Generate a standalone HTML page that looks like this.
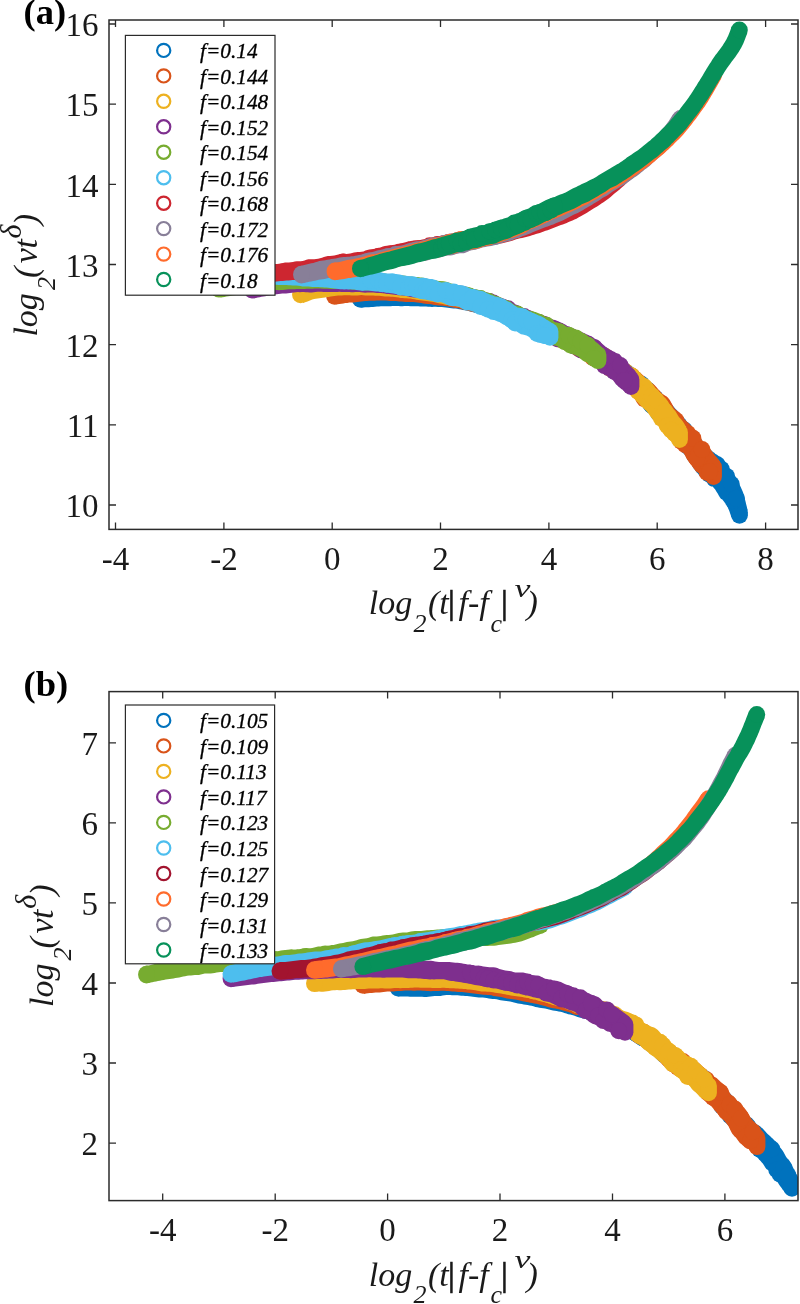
<!DOCTYPE html>
<html lang="en">
<head>
<meta charset="utf-8">
<title>Scaling collapse</title>
<style>html,body{margin:0;padding:0;background:#fff}svg{display:block}</style>
</head>
<body>
<svg width="800" height="1304" viewBox="0 0 800 1304" font-family='"Liberation Serif", "DejaVu Serif", serif' fill="#1a1a1a">
<rect width="800" height="1304" fill="#ffffff"/>
<clipPath id="ca"><rect x="109.0" y="20.0" width="689.0" height="509.4"/></clipPath>
<g clip-path="url(#ca)"><g fill="#0072BD"><path d="M361.2 307.7L363.2 307.5L365.1 307.3L367.1 307.3L369.1 307.2L371.1 307.1L373.0 306.9L375.0 306.8L377.0 306.6L378.9 306.4L380.9 306.2L382.8 306.2L384.8 306.2L386.7 306.2L388.7 306.2L390.6 306.2L392.6 306.1L394.5 306.0L396.5 306.0L398.5 306.0L400.4 306.2L402.4 306.2L404.4 306.1L406.4 306.1L408.4 306.1L410.4 306.2L412.3 306.2L414.3 306.2L416.3 306.2L418.3 306.2L420.2 306.4L422.2 306.5L424.2 306.6L426.1 306.6L428.1 306.7L430.0 306.8L432.0 306.9L433.9 306.8L435.9 306.8L437.9 306.9L439.8 307.1L441.8 307.1L443.8 307.2L445.8 307.4L447.7 307.7L449.7 308.1L451.6 308.3L453.5 308.4L455.5 308.5L457.3 308.8L459.2 309.2L461.1 309.6L462.9 309.9L464.8 310.2L466.6 310.4L468.4 310.9L470.3 311.5L472.2 312.1L474.0 312.6L475.9 313.0L477.8 313.3L479.6 313.7L481.5 314.1L483.3 314.6L485.1 315.3L486.9 316.0L488.7 316.7L490.6 317.3L492.3 317.9L494.1 318.3L495.9 318.8L497.6 319.5L499.1 320.5L500.8 321.5L502.4 322.3L504.1 323.3L505.8 324.3L507.6 325.4L509.4 326.3L511.2 327.2L513.1 328.2L515.1 329.2L517.1 330.0L519.1 330.7L521.0 331.4L523.0 332.3L524.9 333.1L526.8 333.9L528.7 334.8L530.6 335.6L532.5 336.3L534.4 336.8L536.3 337.4L538.1 338.0L540.0 338.5L541.8 339.3L543.6 340.0L545.4 340.8L547.2 341.5L549.1 342.6L550.9 343.6L552.8 344.4L554.6 344.8L556.4 345.3L558.2 345.9L560.1 346.9L561.9 348.0L563.7 349.3L565.5 350.4L567.2 351.5L569.0 352.4L570.8 353.5L572.5 354.0L574.3 354.3L576.0 354.5L577.7 355.2L579.4 356.2L581.0 357.1L582.7 358.2L584.4 359.3L586.1 360.7L587.7 361.9L589.4 363.1L591.1 363.9L592.7 364.8L594.4 365.6L596.1 366.8L597.7 368.0L599.3 369.0L601.0 369.8L602.6 370.6L604.2 371.9L605.8 373.3L607.3 375.1L608.9 376.4L610.4 377.2L612.0 378.0L613.5 379.1L615.0 380.9L616.5 382.5L618.0 384.0L619.5 385.1L621.0 386.1L622.5 386.6L624.0 387.1L625.5 387.9L626.9 389.6L628.4 391.7L629.8 393.7L631.3 395.4L632.7 396.9L634.2 398.3L635.6 399.5L637.0 400.4L638.4 401.6L639.8 403.0L641.2 405.1L642.6 407.0L644.0 409.0L645.4 410.6L646.7 412.1L648.1 412.9L649.5 413.9L650.8 414.9L652.2 416.4L653.5 417.8L654.7 419.2L655.9 421.1L657.1 422.5L658.4 424.5L659.7 426.2L661.0 428.2L662.3 429.4L663.6 430.2L664.9 431.3L666.2 433.1L667.5 435.1L668.8 436.8L670.1 437.7L671.4 438.8L672.8 439.5L674.1 441.3L675.4 443.0L676.7 445.2L678.0 446.7L679.3 448.0L680.6 449.5L681.9 451.1L683.2 453.0L684.6 454.6L685.9 456.6L687.2 458.4L688.5 460.6L689.8 462.4L691.1 464.0L692.5 465.3L693.8 466.7L695.1 468.5L696.4 470.1L697.8 471.5L699.1 472.8L700.4 474.8L701.8 477.0L703.1 479.0L704.4 479.8L705.7 481.1L707.0 482.4L708.4 484.7L709.7 485.7L711.2 486.6L712.6 486.5L713.9 487.9L715.2 489.5L716.5 491.7L717.7 493.4L718.9 495.8L720.0 497.5L721.1 498.9L722.1 499.2L723.1 500.5L724.1 501.7L725.0 502.9L725.8 503.3L726.6 504.1L727.2 505.6L727.8 507.4L728.4 508.9L728.9 510.1L729.4 511.2L729.9 512.8L730.5 514.4L731.0 516.1L731.4 517.3L747.6 510.3L747.2 508.4L746.7 506.2L746.1 504.0L745.6 501.8L745.0 499.6L744.4 496.9L743.6 494.4L742.8 491.7L741.8 489.5L740.7 487.0L739.6 484.8L738.4 482.1L737.2 479.9L735.9 477.3L734.7 475.6L733.3 473.3L731.9 472.0L730.5 470.2L729.0 468.2L727.6 465.9L726.2 465.0L724.8 464.7L723.5 464.6L722.2 462.5L721.0 460.1L719.7 458.1L718.3 457.1L717.0 455.7L715.7 454.2L714.3 452.7L713.0 451.9L711.7 450.7L710.3 449.5L709.0 447.4L707.7 445.4L706.4 443.7L705.1 442.8L703.8 442.2L702.5 441.0L701.2 439.1L699.9 437.1L698.5 435.5L697.2 434.2L695.9 432.3L694.6 430.4L693.3 428.8L692.0 428.6L690.7 427.6L689.4 426.2L688.1 423.4L686.8 421.7L685.5 419.6L684.2 418.2L682.9 416.5L681.6 415.3L680.3 414.1L679.0 412.6L677.7 411.3L676.4 409.8L675.1 408.4L673.9 406.9L672.6 405.5L671.4 404.3L670.1 403.3L668.7 402.0L667.3 400.2L665.8 397.9L664.4 396.1L663.0 394.7L661.6 394.0L660.2 393.3L658.8 391.9L657.4 390.2L655.9 388.1L654.5 386.4L653.0 384.7L651.6 383.4L650.1 382.2L648.6 380.9L647.1 380.0L645.7 378.5L644.2 377.2L642.7 375.6L641.1 374.3L639.6 373.0L638.1 371.5L636.5 370.1L635.0 368.7L633.4 367.5L631.8 366.3L630.3 365.1L628.7 364.1L627.1 362.7L625.4 361.5L623.8 359.9L622.1 358.6L620.5 357.0L618.8 355.9L617.1 354.5L615.4 353.4L613.7 352.3L612.0 351.5L610.2 351.0L608.5 350.4L606.8 349.9L605.1 348.9L603.3 347.6L601.6 345.9L599.8 344.3L598.1 342.8L596.3 342.0L594.5 341.3L592.7 340.7L590.9 339.7L589.1 338.5L587.2 337.4L585.4 336.3L583.5 335.3L581.6 334.1L579.7 333.2L577.9 332.5L576.0 331.9L574.1 331.1L572.2 330.0L570.3 329.1L568.5 328.5L566.6 328.2L564.7 327.7L562.8 327.0L561.0 326.0L559.1 325.1L557.2 324.5L555.4 323.9L553.5 323.2L551.6 322.3L549.7 321.5L547.8 320.8L545.9 320.2L543.9 319.4L542.0 318.6L540.1 317.9L538.2 317.1L536.4 316.6L534.5 316.0L532.7 315.8L530.9 315.2L529.1 314.5L527.3 313.7L525.5 313.2L523.8 312.7L522.2 312.1L520.6 311.1L518.9 310.3L517.3 309.5L515.6 308.7L513.8 307.7L512.0 306.6L510.1 305.5L508.2 304.5L506.2 303.5L504.1 302.7L502.0 302.0L500.1 301.4L498.1 300.8L496.1 300.1L494.1 299.3L492.1 298.5L490.1 298.0L488.1 297.5L486.1 296.8L484.1 296.2L482.1 295.6L480.1 295.2L478.1 294.8L476.0 294.4L474.0 293.9L472.0 293.3L469.9 292.7L467.8 292.3L465.7 292.0L463.6 291.6L461.5 291.2L459.4 291.0L457.3 290.9L455.2 290.8L453.1 290.7L451.1 290.5L449.1 290.4L447.0 290.4L445.0 290.4L443.0 290.2L441.0 290.0L439.0 289.7L437.0 289.6L434.9 289.6L432.9 289.7L430.8 289.6L428.8 289.3L426.8 289.0L424.7 288.8L422.7 288.8L420.7 288.9L418.6 288.9L416.6 288.9L414.6 288.9L412.5 288.8L410.5 288.8L408.5 288.7L406.5 288.7L404.5 288.7L402.5 288.7L400.4 288.6L398.4 288.6L396.4 288.7L394.4 288.7L392.3 288.7L390.3 288.7L388.2 288.8L386.2 288.9L384.1 289.0L382.1 289.1L380.0 289.3L378.0 289.3L376.0 289.4L373.9 289.4L371.9 289.5L369.9 289.6L367.9 289.8L365.9 290.1L363.8 290.2L361.8 290.4L359.8 290.4Z"/><rect x="352.1" y="290.4" width="16.8" height="17.4" rx="8.4"/><rect x="731.1" y="504.2" width="16.8" height="19.5" rx="8.4"/><circle cx="518.7" cy="319.1" r="8.4"/><circle cx="522.3" cy="320.3" r="8.4"/><circle cx="529.8" cy="326.6" r="8.4"/><circle cx="533.5" cy="327.5" r="8.4"/><circle cx="541.0" cy="330.5" r="8.4"/><circle cx="546.7" cy="329.4" r="8.4"/><circle cx="550.4" cy="330.3" r="8.4"/><circle cx="557.8" cy="337.6" r="8.4"/><circle cx="565.2" cy="341.2" r="8.4"/><circle cx="570.7" cy="343.8" r="8.4"/><circle cx="576.1" cy="341.5" r="8.4"/><circle cx="579.7" cy="343.0" r="8.4"/><circle cx="585.1" cy="350.9" r="8.4"/><circle cx="588.6" cy="347.8" r="8.4"/><circle cx="595.5" cy="357.4" r="8.4"/><circle cx="600.6" cy="361.1" r="8.4"/><circle cx="603.9" cy="355.7" r="8.4"/><circle cx="607.3" cy="364.3" r="8.4"/><circle cx="613.8" cy="370.7" r="8.4"/><circle cx="620.2" cy="366.7" r="8.4"/><circle cx="626.4" cy="380.7" r="8.4"/><circle cx="632.5" cy="386.2" r="8.4"/><circle cx="638.4" cy="383.0" r="8.4"/><circle cx="641.4" cy="384.2" r="8.4"/><circle cx="647.1" cy="389.7" r="8.4"/><circle cx="651.4" cy="405.0" r="8.4"/><circle cx="655.5" cy="398.4" r="8.4"/><circle cx="658.3" cy="413.0" r="8.4"/><circle cx="661.0" cy="404.6" r="8.4"/><circle cx="666.2" cy="411.5" r="8.4"/><circle cx="671.3" cy="427.2" r="8.4"/><circle cx="673.9" cy="429.8" r="8.4"/><circle cx="679.1" cy="426.5" r="8.4"/><circle cx="684.3" cy="430.0" r="8.4"/><circle cx="688.3" cy="446.6" r="8.4"/><circle cx="692.2" cy="438.3" r="8.4"/><circle cx="694.8" cy="455.6" r="8.4"/><circle cx="700.1" cy="463.0" r="8.4"/><circle cx="702.7" cy="466.5" r="8.4"/><circle cx="705.4" cy="469.7" r="8.4"/><circle cx="709.4" cy="474.3" r="8.4"/><circle cx="713.4" cy="462.5" r="8.4"/><circle cx="717.3" cy="464.7" r="8.4"/><circle cx="721.4" cy="469.2" r="8.4"/><circle cx="726.6" cy="476.3" r="8.4"/><circle cx="731.3" cy="484.1" r="8.4"/><circle cx="733.3" cy="500.7" r="8.4"/><circle cx="736.4" cy="498.2" r="8.4"/></g><g fill="#D95319"><path d="M335.6 304.6L337.5 304.3L339.5 304.0L341.5 303.7L343.4 303.5L345.3 303.1L347.3 302.9L349.3 302.6L351.3 302.5L353.3 302.4L355.3 302.2L357.2 301.9L359.2 301.7L361.2 301.4L363.1 301.2L365.1 301.0L367.0 300.9L368.9 300.8L370.8 300.8L372.8 300.7L374.7 300.7L376.6 300.5L378.5 300.5L380.4 300.4L382.2 300.4L384.1 300.4L386.0 300.6L388.0 300.7L389.9 301.0L391.8 301.0L393.8 301.1L395.7 301.1L397.7 301.2L399.6 301.4L401.6 301.6L403.6 301.7L405.6 301.9L407.6 302.0L409.6 302.1L411.6 302.1L413.5 302.1L415.5 302.2L417.4 302.4L419.4 302.7L421.4 303.0L423.3 303.5L425.3 303.7L427.2 303.9L429.2 304.0L431.2 304.3L433.1 304.7L435.1 305.0L437.0 305.3L439.0 305.4L441.0 305.6L442.9 305.8L444.9 306.1L446.8 306.3L448.8 306.7L450.7 307.1L452.6 307.5L454.6 307.7L456.5 307.9L458.4 308.3L460.3 308.8L462.2 309.4L464.1 309.8L465.9 310.2L467.8 310.7L469.7 311.2L471.6 311.7L473.5 312.0L475.4 312.4L477.3 312.9L479.1 313.5L481.0 314.1L482.8 314.6L484.7 314.9L486.5 315.4L488.3 316.0L490.1 316.7L491.9 317.5L493.6 318.2L495.4 318.8L497.0 319.3L498.6 320.0L500.2 320.8L501.9 322.0L503.5 323.1L505.2 324.0L507.0 324.9L508.7 325.8L510.6 326.6L512.5 327.6L514.4 328.5L516.4 329.7L518.4 330.8L520.3 331.9L522.3 332.6L524.2 333.1L526.1 333.7L528.0 334.5L529.9 335.6L531.8 336.5L533.7 337.2L535.6 337.7L537.4 338.5L539.3 339.2L541.1 340.0L542.9 340.6L544.7 341.3L546.5 341.9L548.4 342.5L550.2 343.0L552.1 343.7L553.9 344.4L555.7 345.5L557.6 346.6L559.4 347.5L561.2 348.4L563.0 349.0L564.8 349.9L566.6 350.5L568.4 351.4L570.1 352.4L571.9 353.4L573.6 354.5L575.3 354.8L577.0 355.5L578.7 355.9L580.4 357.1L582.1 358.5L583.8 360.4L585.5 362.1L587.1 363.7L588.8 364.7L590.5 365.7L592.1 366.2L593.8 366.7L595.4 366.8L597.1 367.4L598.7 368.4L600.4 370.1L602.0 371.7L603.6 373.1L605.2 374.3L606.7 375.2L608.3 376.0L609.9 376.7L611.4 377.8L612.9 379.2L614.5 381.0L616.0 382.5L617.5 383.5L619.0 384.4L620.5 385.7L622.0 387.3L623.5 388.9L624.9 390.0L626.4 391.0L627.9 392.2L629.3 393.2L630.8 394.3L632.2 395.3L633.6 397.1L635.0 399.1L636.5 401.9L637.9 404.1L639.3 405.8L640.7 406.2L642.1 406.7L643.5 407.2L644.8 408.5L646.2 409.6L647.6 411.4L649.0 413.2L650.3 415.2L651.7 416.7L653.0 418.4L654.3 419.9L655.5 421.7L656.7 423.0L657.9 424.2L659.2 425.5L660.5 427.7L661.8 429.9L663.1 431.6L664.4 432.6L665.7 433.5L667.0 434.5L668.3 435.8L669.6 437.6L671.0 439.6L672.3 441.2L673.6 442.3L674.9 443.4L676.2 444.8L677.5 445.9L678.8 447.0L680.1 448.1L681.4 449.8L682.7 451.4L684.0 453.8L685.3 456.0L686.6 458.8L687.9 460.6L689.2 462.5L690.5 464.0L691.8 465.7L693.0 467.5L694.3 469.3L695.6 471.0L696.9 472.0L698.1 472.7L699.4 473.6L700.7 475.2L701.9 476.1L703.2 476.6L704.4 477.0L705.7 478.4L706.9 480.2L706.9 481.1L720.1 461.9L720.0 461.6L718.8 459.7L717.5 458.2L716.2 456.8L714.9 455.2L713.6 453.4L712.3 451.8L711.1 450.2L709.8 447.9L708.5 445.6L707.2 443.5L705.9 442.5L704.6 442.1L703.3 441.7L702.0 440.1L700.7 438.0L699.4 436.1L698.1 435.3L696.8 434.8L695.4 433.3L694.1 431.4L692.8 428.8L691.5 426.7L690.2 424.8L688.9 423.3L687.6 422.2L686.3 421.0L685.0 419.8L683.7 418.2L682.4 416.5L681.1 414.7L679.8 413.1L678.5 411.8L677.2 410.8L675.9 409.8L674.6 408.5L673.4 406.7L672.2 404.6L670.9 402.0L669.6 399.8L668.2 398.0L666.7 396.6L665.3 395.7L663.9 394.7L662.5 394.1L661.1 392.6L659.7 391.0L658.2 389.2L656.8 387.5L655.4 386.0L653.9 384.5L652.5 383.4L651.0 382.6L649.6 381.6L648.1 380.6L646.6 379.1L645.1 377.6L643.6 375.8L642.1 374.4L640.6 373.0L639.0 372.1L637.5 371.5L636.0 370.5L634.4 369.2L632.8 367.5L631.2 366.3L629.7 365.5L628.1 364.7L626.4 363.5L624.8 361.5L623.2 359.4L621.5 357.5L619.8 356.2L618.1 355.1L616.5 354.0L614.7 353.1L613.0 352.5L611.3 351.5L609.6 350.2L607.9 348.5L606.1 347.4L604.4 346.7L602.7 345.8L600.9 344.8L599.2 343.2L597.4 342.3L595.6 341.7L593.9 341.2L592.0 340.4L590.2 339.0L588.4 337.7L586.5 336.3L584.7 335.5L582.8 334.8L580.9 334.1L579.0 333.1L577.2 332.2L575.3 331.5L573.4 331.1L571.5 330.5L569.6 329.7L567.8 328.5L565.9 327.7L564.0 326.8L562.1 326.2L560.3 325.4L558.4 324.5L556.6 323.7L554.7 322.9L552.9 322.2L551.0 321.5L549.0 320.7L547.1 320.2L545.2 319.8L543.3 319.5L541.4 319.0L539.5 318.4L537.6 317.7L535.8 316.8L534.0 316.1L532.1 315.4L530.3 314.8L528.5 314.1L526.8 313.2L525.0 312.3L523.3 311.7L521.7 311.3L520.1 310.5L518.5 309.6L516.8 308.5L515.1 307.5L513.3 306.6L511.5 305.8L509.6 305.0L507.7 304.0L505.7 303.0L503.6 301.9L501.5 300.9L499.6 300.2L497.6 299.5L495.6 298.9L493.6 298.3L491.5 297.8L489.5 297.3L487.5 296.8L485.5 296.1L483.5 295.6L481.5 294.9L479.5 294.2L477.5 293.4L475.5 292.9L473.5 292.5L471.5 292.3L469.5 292.0L467.4 291.7L465.4 291.3L463.4 291.0L461.3 290.7L459.3 290.1L457.3 289.7L455.2 289.4L453.2 289.4L451.2 289.1L449.2 288.7L447.2 288.3L445.2 288.3L443.2 288.2L441.2 288.1L439.1 287.7L437.1 287.5L435.1 287.2L433.1 286.9L431.1 286.7L429.1 286.5L427.1 286.3L425.0 286.0L423.0 285.7L421.0 285.5L419.0 285.4L416.9 285.3L414.9 285.1L412.9 284.8L410.9 284.5L408.9 284.3L406.9 284.3L404.9 284.2L402.9 284.1L400.9 283.9L398.9 283.8L396.8 283.7L394.8 283.6L392.7 283.5L390.7 283.3L388.6 283.2L386.5 283.0L384.4 283.1L382.3 283.2L380.2 283.3L378.1 283.3L376.0 283.2L373.9 283.2L371.8 283.3L369.7 283.5L367.7 283.8L365.6 284.1L363.6 284.3L361.5 284.5L359.5 284.6L357.5 284.7L355.5 284.7L353.5 284.9L351.5 285.2L349.5 285.4L347.5 285.5L345.5 285.7L343.5 285.9L341.5 286.2L339.5 286.5L337.4 286.8L335.4 287.1L333.4 287.3Z"/><rect x="326.1" y="287.3" width="16.8" height="17.4" rx="8.4"/><rect x="705.1" y="458.6" width="16.8" height="26.4" rx="8.4"/><circle cx="500.3" cy="309.6" r="8.4"/><circle cx="507.5" cy="313.0" r="8.4"/><circle cx="512.8" cy="318.6" r="8.4"/><circle cx="516.3" cy="320.4" r="8.4"/><circle cx="519.9" cy="319.2" r="8.4"/><circle cx="527.3" cy="325.7" r="8.4"/><circle cx="531.0" cy="326.8" r="8.4"/><circle cx="534.7" cy="328.3" r="8.4"/><circle cx="540.4" cy="326.6" r="8.4"/><circle cx="544.1" cy="328.2" r="8.4"/><circle cx="551.5" cy="335.1" r="8.4"/><circle cx="557.1" cy="337.9" r="8.4"/><circle cx="564.5" cy="335.9" r="8.4"/><circle cx="570.0" cy="338.7" r="8.4"/><circle cx="575.5" cy="340.0" r="8.4"/><circle cx="579.1" cy="348.7" r="8.4"/><circle cx="582.6" cy="344.5" r="8.4"/><circle cx="589.7" cy="353.1" r="8.4"/><circle cx="594.8" cy="356.7" r="8.4"/><circle cx="598.2" cy="359.0" r="8.4"/><circle cx="605.0" cy="356.5" r="8.4"/><circle cx="610.0" cy="368.1" r="8.4"/><circle cx="614.8" cy="363.3" r="8.4"/><circle cx="619.6" cy="374.1" r="8.4"/><circle cx="624.3" cy="378.6" r="8.4"/><circle cx="627.4" cy="380.7" r="8.4"/><circle cx="631.9" cy="376.1" r="8.4"/><circle cx="637.9" cy="390.6" r="8.4"/><circle cx="643.7" cy="387.3" r="8.4"/><circle cx="648.0" cy="391.2" r="8.4"/><circle cx="653.6" cy="396.8" r="8.4"/><circle cx="656.4" cy="400.4" r="8.4"/><circle cx="659.1" cy="412.0" r="8.4"/><circle cx="664.4" cy="407.9" r="8.4"/><circle cx="666.9" cy="423.2" r="8.4"/><circle cx="670.8" cy="427.3" r="8.4"/><circle cx="676.0" cy="420.4" r="8.4"/><circle cx="681.2" cy="441.3" r="8.4"/><circle cx="685.2" cy="444.9" r="8.4"/><circle cx="687.8" cy="433.5" r="8.4"/><circle cx="693.0" cy="438.2" r="8.4"/><circle cx="696.9" cy="458.6" r="8.4"/><circle cx="702.0" cy="449.5" r="8.4"/><circle cx="707.1" cy="472.5" r="8.4"/><circle cx="709.7" cy="471.6" r="8.4"/></g><g fill="#EDB120"><path d="M303.2 302.9L305.1 302.2L306.9 301.7L308.7 301.0L310.5 300.3L312.3 299.6L314.1 299.1L315.8 298.7L317.6 298.4L319.4 298.2L321.2 298.0L323.0 297.7L324.9 297.4L326.8 297.1L328.7 296.9L330.6 296.6L332.5 296.3L334.4 295.9L336.3 295.7L338.2 295.6L340.1 295.5L342.0 295.4L343.9 295.3L345.8 295.3L347.7 295.3L349.7 295.3L351.6 295.4L353.6 295.6L355.5 295.5L357.5 295.4L359.5 295.2L361.4 295.1L363.4 295.3L365.4 295.4L367.3 295.4L369.3 295.4L371.3 295.4L373.3 295.5L375.2 295.7L377.2 295.7L379.2 295.8L381.1 295.9L383.1 296.2L385.0 296.4L387.0 296.5L388.9 296.6L390.8 296.7L392.8 296.8L394.8 297.0L396.7 297.2L398.7 297.6L400.6 297.9L402.6 298.1L404.6 298.2L406.6 298.3L408.6 298.5L410.5 298.6L412.5 298.9L414.5 299.2L416.4 299.7L418.4 300.0L420.3 300.3L422.3 300.4L424.2 300.7L426.2 301.0L428.1 301.3L430.0 301.5L432.0 301.7L433.9 302.1L435.8 302.6L437.8 303.1L439.7 303.4L441.6 303.8L443.6 304.3L445.5 304.7L447.4 305.0L449.3 305.3L451.2 305.5L453.1 305.9L455.1 306.2L457.0 306.6L458.9 307.0L460.8 307.5L462.6 308.1L464.5 308.5L466.4 308.9L468.3 309.3L470.2 309.8L472.1 310.3L474.0 310.7L475.8 311.3L477.7 311.9L479.6 312.7L481.4 313.5L483.3 314.3L485.1 314.9L486.9 315.5L488.7 316.2L490.6 316.9L492.4 317.5L494.1 318.1L495.9 318.8L497.6 319.4L499.2 320.0L500.8 320.7L502.4 321.5L504.1 322.4L505.8 323.4L507.5 324.6L509.3 325.9L511.1 327.1L513.0 328.2L515.0 329.0L517.0 329.8L518.9 330.5L520.8 331.3L522.8 332.2L524.7 333.0L526.6 333.9L528.5 334.7L530.4 335.5L532.3 336.4L534.2 337.2L536.0 337.7L537.9 338.4L539.7 339.2L541.5 340.3L543.3 341.0L545.1 341.5L547.0 342.0L548.8 342.9L550.7 343.8L552.5 344.8L554.4 345.6L556.2 346.4L558.0 347.2L559.8 348.0L561.7 348.7L563.5 349.5L565.3 350.3L567.0 351.2L568.8 351.9L570.6 352.8L572.3 353.7L574.1 354.6L575.8 355.5L577.5 356.4L579.2 357.7L580.9 358.5L582.5 359.4L584.2 360.0L585.9 360.9L587.6 361.9L589.2 363.5L590.9 364.9L592.5 366.1L594.2 366.8L595.9 367.8L597.5 368.6L599.1 369.8L600.8 370.8L602.4 371.7L604.0 372.2L605.6 372.9L607.1 374.0L608.7 375.1L610.3 376.5L611.8 377.8L613.3 379.5L614.8 380.9L616.4 382.3L617.9 383.2L619.4 383.9L620.9 385.0L622.4 386.7L623.8 388.5L625.3 389.9L626.7 390.7L628.2 392.4L629.6 393.8L631.0 395.5L632.4 396.4L633.8 398.0L635.2 399.4L636.6 401.1L637.9 402.6L639.3 404.3L640.6 405.4L642.0 407.0L643.3 408.1L644.6 409.5L645.9 410.4L647.2 411.9L648.5 413.6L649.8 415.4L651.1 417.3L652.4 418.9L653.6 420.3L654.8 420.9L655.9 421.8L657.1 423.5L658.2 425.7L659.4 428.0L660.6 429.5L661.9 431.3L663.1 433.1L664.3 434.8L665.5 435.9L666.7 436.8L667.9 437.6L669.1 438.9L670.3 440.4L671.5 441.8L672.7 442.6L672.8 442.7L686.2 427.0L686.1 426.9L684.9 424.8L683.7 422.7L682.5 420.9L681.3 419.4L680.1 418.2L678.9 416.9L677.7 414.9L676.5 412.9L675.3 410.9L674.1 409.7L672.9 408.3L671.7 407.0L670.5 405.2L669.2 403.4L667.9 401.3L666.5 399.5L665.2 397.8L663.8 396.9L662.5 396.2L661.1 395.4L659.8 394.3L658.4 392.6L657.0 390.6L655.6 388.2L654.2 386.2L652.8 384.2L651.4 382.6L649.9 380.6L648.5 379.5L647.0 378.5L645.5 377.9L644.0 376.8L642.5 375.6L641.0 374.2L639.5 372.6L637.9 370.8L636.4 369.6L634.8 368.4L633.2 368.2L631.7 367.5L630.1 366.9L628.5 365.1L626.9 363.2L625.2 361.2L623.6 359.6L621.9 358.3L620.3 357.0L618.6 355.9L616.9 354.9L615.2 354.1L613.5 352.8L611.8 351.2L610.0 349.9L608.3 349.1L606.6 348.5L604.9 347.7L603.1 346.8L601.4 345.9L599.6 345.1L597.9 344.1L596.1 343.0L594.3 341.6L592.5 340.1L590.7 338.8L588.9 337.8L587.0 337.1L585.1 336.6L583.3 336.0L581.4 335.1L579.5 334.0L577.6 333.0L575.8 332.0L573.9 330.9L572.0 330.1L570.1 329.6L568.2 329.1L566.4 328.3L564.5 327.1L562.6 326.1L560.8 325.2L558.9 324.5L557.1 323.8L555.2 323.1L553.4 322.4L551.5 321.5L549.6 320.9L547.7 320.3L545.8 319.8L543.8 319.2L542.0 318.6L540.1 318.0L538.2 317.3L536.4 316.6L534.5 315.6L532.7 314.9L530.9 314.2L529.1 314.0L527.4 313.4L525.6 312.6L523.9 311.5L522.3 310.9L520.7 310.4L519.0 309.6L517.4 308.4L515.7 307.2L513.9 306.0L512.1 305.0L510.2 303.9L508.3 302.9L506.3 302.0L504.2 301.3L502.2 300.7L500.2 300.2L498.2 299.6L496.3 298.7L494.3 297.8L492.4 297.0L490.4 296.6L488.4 296.2L486.4 296.0L484.5 295.6L482.5 295.1L480.5 294.3L478.6 293.4L476.6 292.4L474.6 291.7L472.6 291.2L470.7 290.9L468.7 290.7L466.7 290.2L464.7 289.7L462.7 289.1L460.7 288.7L458.7 288.3L456.7 288.0L454.7 287.6L452.7 287.1L450.7 286.5L448.6 286.0L446.6 285.6L444.6 285.2L442.6 284.9L440.6 284.5L438.6 284.2L436.6 283.9L434.6 283.7L432.5 283.4L430.5 283.3L428.5 283.1L426.5 282.8L424.5 282.4L422.4 282.1L420.4 282.0L418.4 281.7L416.4 281.6L414.4 281.3L412.4 281.1L410.4 280.8L408.4 280.6L406.4 280.5L404.4 280.6L402.4 280.6L400.4 280.4L398.3 280.1L396.3 279.7L394.3 279.4L392.2 279.1L390.2 279.0L388.2 278.8L386.1 278.6L384.1 278.4L382.0 278.2L379.9 278.2L377.9 278.2L375.9 278.3L373.9 278.2L371.9 278.1L369.9 277.9L367.8 277.9L365.8 277.9L363.8 278.0L361.7 278.0L359.7 278.0L357.7 277.9L355.6 277.9L353.6 277.9L351.5 277.9L349.5 277.9L347.5 277.8L345.4 277.8L343.3 277.8L341.2 277.9L339.1 278.1L337.0 278.4L334.9 278.5L332.8 278.7L330.7 278.8L328.6 279.2L326.6 279.6L324.5 279.9L322.5 280.3L320.4 280.5L318.3 280.8L316.2 281.1L314.0 281.5L311.9 282.1L309.8 282.6L307.7 283.2L305.7 283.8L303.7 284.6L301.7 285.2L299.7 285.8L297.8 286.2Z"/><rect x="292.1" y="285.8" width="16.8" height="17.4" rx="8.4"/><rect x="671.1" y="423.9" width="16.8" height="24.0" rx="8.4"/><circle cx="483.9" cy="305.9" r="8.4"/><circle cx="487.7" cy="304.7" r="8.4"/><circle cx="491.5" cy="305.9" r="8.4"/><circle cx="499.0" cy="308.1" r="8.4"/><circle cx="502.7" cy="313.1" r="8.4"/><circle cx="509.8" cy="316.6" r="8.4"/><circle cx="515.1" cy="316.5" r="8.4"/><circle cx="518.6" cy="318.6" r="8.4"/><circle cx="525.9" cy="324.7" r="8.4"/><circle cx="533.4" cy="324.0" r="8.4"/><circle cx="537.1" cy="325.1" r="8.4"/><circle cx="544.6" cy="327.7" r="8.4"/><circle cx="552.0" cy="331.4" r="8.4"/><circle cx="555.7" cy="337.1" r="8.4"/><circle cx="561.3" cy="339.3" r="8.4"/><circle cx="566.8" cy="336.4" r="8.4"/><circle cx="570.5" cy="337.5" r="8.4"/><circle cx="577.7" cy="347.4" r="8.4"/><circle cx="583.1" cy="344.5" r="8.4"/><circle cx="590.1" cy="354.9" r="8.4"/><circle cx="595.3" cy="349.7" r="8.4"/><circle cx="598.7" cy="353.2" r="8.4"/><circle cx="603.7" cy="363.2" r="8.4"/><circle cx="610.4" cy="368.6" r="8.4"/><circle cx="613.6" cy="362.4" r="8.4"/><circle cx="620.0" cy="366.7" r="8.4"/><circle cx="624.7" cy="371.2" r="8.4"/><circle cx="630.8" cy="375.3" r="8.4"/><circle cx="633.8" cy="378.1" r="8.4"/><circle cx="638.2" cy="391.6" r="8.4"/><circle cx="642.5" cy="395.4" r="8.4"/><circle cx="648.1" cy="392.4" r="8.4"/><circle cx="652.2" cy="396.0" r="8.4"/><circle cx="656.1" cy="400.0" r="8.4"/><circle cx="661.3" cy="418.3" r="8.4"/><circle cx="665.0" cy="411.5" r="8.4"/><circle cx="667.4" cy="425.9" r="8.4"/><circle cx="671.0" cy="430.1" r="8.4"/><circle cx="674.6" cy="433.5" r="8.4"/></g><g fill="#7E2F8E"><path d="M253.8 298.5L255.7 298.0L257.7 297.6L259.6 297.2L261.5 296.8L263.4 296.5L265.3 296.2L267.2 295.8L269.1 295.4L271.0 294.9L272.9 294.7L274.8 294.4L276.7 294.2L278.6 294.0L280.5 293.8L282.3 293.6L284.2 293.5L286.1 293.4L288.0 293.2L290.0 293.0L292.0 292.8L293.9 292.4L295.9 292.2L297.9 292.1L299.8 292.2L301.8 292.1L303.8 292.1L305.7 292.2L307.7 292.3L309.7 292.5L311.7 292.4L313.7 292.2L315.6 291.9L317.6 291.8L319.6 291.7L321.6 291.8L323.5 291.9L325.5 292.0L327.5 292.0L329.5 292.1L331.5 292.1L333.5 292.1L335.5 291.9L337.4 291.9L339.4 291.8L341.4 292.0L343.4 292.0L345.4 292.0L347.4 292.0L349.4 292.1L351.4 292.2L353.3 292.2L355.3 292.1L357.3 292.0L359.3 292.0L361.2 292.3L363.2 292.6L365.2 292.7L367.2 292.6L369.1 292.5L371.1 292.5L373.1 292.6L375.1 292.8L377.0 292.9L379.0 293.0L380.9 293.1L382.8 293.3L384.8 293.6L386.7 293.9L388.7 294.1L390.6 294.3L392.5 294.5L394.5 294.8L396.4 295.0L398.4 295.2L400.4 295.3L402.3 295.4L404.3 295.7L406.3 296.0L408.2 296.5L410.2 296.9L412.2 297.3L414.1 297.5L416.1 297.6L418.0 297.8L420.0 298.0L421.9 298.4L423.9 298.6L425.8 299.0L427.8 299.4L429.7 299.8L431.7 300.2L433.6 300.4L435.6 300.7L437.6 301.0L439.5 301.5L441.5 301.9L443.5 302.3L445.4 302.7L447.4 303.2L449.3 303.7L451.2 304.1L453.2 304.3L455.1 304.5L457.0 304.9L458.9 305.4L460.8 305.9L462.6 306.4L464.5 306.9L466.4 307.5L468.2 308.0L470.1 308.5L472.0 309.0L473.9 309.6L475.7 310.1L477.6 310.6L479.5 311.0L481.3 311.4L483.2 311.9L485.0 312.5L486.8 313.2L488.6 314.0L490.4 314.8L492.2 315.6L494.0 316.2L495.8 316.8L497.5 317.4L499.1 318.2L500.7 319.3L502.3 320.2L504.0 321.1L505.7 321.9L507.4 323.1L509.2 324.2L511.0 325.2L512.9 325.9L514.9 327.0L516.8 328.1L518.8 329.4L520.7 330.2L522.6 330.9L524.5 331.4L526.3 332.4L528.2 333.0L530.1 334.0L532.0 334.7L533.8 335.5L535.7 335.9L537.5 336.7L539.3 337.4L541.1 338.3L542.9 339.1L544.6 340.0L546.4 341.0L548.3 342.1L550.1 343.6L551.9 344.9L553.8 346.3L555.6 347.0L557.4 347.3L559.2 347.3L561.0 347.5L562.8 348.0L564.6 348.9L566.3 350.1L568.1 351.4L569.8 352.7L571.6 353.7L573.3 354.6L575.1 355.7L576.8 356.9L578.4 357.9L580.1 358.3L581.8 358.4L583.5 358.9L585.1 359.9L586.8 361.5L588.4 362.9L590.1 364.3L591.7 365.0L593.4 365.5L595.0 366.0L596.7 367.2L598.3 368.8L599.9 370.4L601.5 372.2L603.0 373.6L604.5 375.0L606.0 375.4L607.5 375.9L608.9 376.4L610.4 377.8L611.8 378.9L613.2 380.6L614.5 382.3L615.9 384.3L617.3 385.5L618.6 386.7L619.9 387.7L621.3 388.9L622.6 389.8L623.9 390.9L624.7 391.7L637.3 374.4L636.3 372.7L634.9 370.5L633.5 368.9L632.1 367.7L630.6 366.3L629.1 364.6L627.6 363.0L626.1 361.9L624.5 360.6L622.9 358.6L621.3 356.2L619.6 354.3L618.0 353.6L616.3 353.3L614.6 352.5L612.8 351.3L611.0 350.1L609.3 349.5L607.6 348.3L605.9 347.0L604.2 345.4L602.5 344.1L600.7 342.8L599.0 341.2L597.2 340.1L595.5 339.0L593.7 338.3L591.9 337.1L590.1 336.2L588.3 335.0L586.4 334.2L584.6 333.2L582.7 332.5L580.9 332.0L579.1 331.5L577.2 330.5L575.4 329.3L573.5 328.5L571.7 328.4L569.8 327.7L568.0 326.7L566.1 325.1L564.3 324.2L562.4 323.2L560.6 322.5L558.8 321.4L556.9 320.7L555.1 320.1L553.3 319.7L551.4 318.8L549.5 317.8L547.6 316.7L545.7 316.1L543.8 315.7L541.9 315.3L540.1 314.9L538.2 314.5L536.3 313.9L534.5 312.7L532.7 311.4L530.9 310.5L529.1 310.2L527.3 310.0L525.5 309.5L523.8 308.6L522.2 307.6L520.6 306.5L518.9 305.8L517.3 305.1L515.6 304.4L513.8 303.4L512.0 302.4L510.1 301.4L508.2 300.5L506.2 299.5L504.1 298.8L502.1 298.1L500.1 297.4L498.1 296.4L496.2 295.7L494.2 295.0L492.3 294.2L490.3 293.4L488.3 292.8L486.3 292.3L484.4 291.9L482.4 291.3L480.4 290.8L478.4 290.3L476.5 289.8L474.5 289.3L472.5 288.8L470.5 288.3L468.4 287.7L466.4 287.0L464.4 286.3L462.4 285.8L460.3 285.4L458.3 285.1L456.3 284.9L454.3 284.7L452.3 284.5L450.3 284.3L448.3 284.0L446.3 283.6L444.3 283.2L442.4 282.8L440.4 282.5L438.4 282.2L436.4 281.8L434.4 281.4L432.4 281.1L430.4 280.8L428.4 280.5L426.4 280.2L424.4 279.9L422.4 279.5L420.4 279.3L418.4 279.1L416.4 279.1L414.4 278.8L412.4 278.6L410.4 278.3L408.4 278.2L406.4 277.9L404.4 277.6L402.4 277.2L400.4 276.9L398.4 276.8L396.3 276.7L394.3 276.4L392.3 276.2L390.2 276.1L388.2 276.1L386.1 276.0L384.1 275.7L382.0 275.5L380.0 275.4L377.9 275.5L375.9 275.6L373.9 275.6L371.8 275.4L369.8 275.0L367.8 274.8L365.8 274.6L363.7 274.6L361.7 274.5L359.7 274.5L357.7 274.5L355.7 274.5L353.6 274.5L351.6 274.4L349.6 274.4L347.6 274.4L345.6 274.5L343.6 274.5L341.6 274.5L339.5 274.4L337.5 274.2L335.5 274.1L333.5 273.9L331.5 273.9L329.5 274.0L327.5 274.1L325.5 274.4L323.4 274.5L321.4 274.7L319.4 274.7L317.4 274.8L315.4 275.0L313.3 275.1L311.3 275.1L309.3 274.8L307.3 274.6L305.2 274.7L303.2 274.9L301.2 275.1L299.2 275.1L297.1 275.1L295.1 275.1L293.1 275.2L291.1 275.3L289.0 275.3L287.0 275.4L285.0 275.6L282.9 275.7L280.7 276.0L278.6 276.2L276.5 276.4L274.5 276.6L272.4 276.9L270.3 277.2L268.3 277.6L266.2 278.0L264.2 278.5L262.2 278.9L260.2 279.4L258.1 279.8L256.2 280.3L254.2 280.7L252.2 281.1L250.2 281.2Z"/><rect x="243.6" y="281.1" width="16.8" height="17.4" rx="8.4"/><rect x="622.6" y="371.0" width="16.8" height="24.0" rx="8.4"/><circle cx="437.0" cy="290.2" r="8.4"/><circle cx="444.9" cy="291.8" r="8.4"/><circle cx="452.8" cy="295.6" r="8.4"/><circle cx="456.7" cy="296.5" r="8.4"/><circle cx="464.5" cy="294.9" r="8.4"/><circle cx="470.4" cy="299.7" r="8.4"/><circle cx="474.2" cy="300.6" r="8.4"/><circle cx="480.0" cy="302.5" r="8.4"/><circle cx="483.8" cy="303.6" r="8.4"/><circle cx="489.5" cy="301.4" r="8.4"/><circle cx="493.3" cy="302.9" r="8.4"/><circle cx="500.8" cy="310.7" r="8.4"/><circle cx="508.0" cy="308.6" r="8.4"/><circle cx="511.5" cy="316.1" r="8.4"/><circle cx="516.7" cy="313.9" r="8.4"/><circle cx="524.0" cy="316.5" r="8.4"/><circle cx="527.7" cy="318.8" r="8.4"/><circle cx="531.4" cy="319.8" r="8.4"/><circle cx="538.8" cy="322.4" r="8.4"/><circle cx="544.4" cy="332.3" r="8.4"/><circle cx="551.7" cy="334.0" r="8.4"/><circle cx="555.3" cy="336.8" r="8.4"/><circle cx="559.0" cy="330.8" r="8.4"/><circle cx="562.6" cy="339.2" r="8.4"/><circle cx="566.3" cy="334.4" r="8.4"/><circle cx="569.9" cy="344.1" r="8.4"/><circle cx="577.1" cy="339.1" r="8.4"/><circle cx="582.4" cy="349.2" r="8.4"/><circle cx="587.7" cy="343.8" r="8.4"/><circle cx="594.5" cy="347.7" r="8.4"/><circle cx="599.6" cy="360.2" r="8.4"/><circle cx="604.6" cy="365.7" r="8.4"/><circle cx="611.1" cy="359.6" r="8.4"/><circle cx="614.3" cy="371.5" r="8.4"/><circle cx="620.3" cy="365.5" r="8.4"/><circle cx="624.6" cy="380.3" r="8.4"/></g><g fill="#77AC30"><path d="M220.5 297.5L222.4 297.2L224.4 296.9L226.3 296.5L228.3 296.2L230.2 295.9L232.2 295.6L234.1 295.3L236.1 294.9L238.0 294.4L240.0 294.1L241.9 293.9L243.9 293.7L245.8 293.4L247.8 293.1L249.7 292.8L251.7 292.6L253.6 292.2L255.6 291.9L257.5 291.5L259.5 291.3L261.4 291.1L263.4 290.8L265.3 290.6L267.2 290.4L269.2 290.3L271.1 290.2L273.1 290.1L275.0 290.1L277.0 290.1L278.9 290.2L280.9 290.1L282.9 290.0L284.9 289.7L286.8 289.4L288.8 289.3L290.8 289.3L292.8 289.3L294.8 289.2L296.8 289.0L298.8 288.9L300.7 289.0L302.7 289.0L304.7 288.9L306.7 288.8L308.7 288.7L310.6 288.7L312.6 288.7L314.6 288.6L316.6 288.5L318.5 288.4L320.5 288.5L322.5 288.7L324.5 288.7L326.4 288.8L328.4 288.8L330.4 289.0L332.3 289.0L334.3 288.9L336.3 288.7L338.2 288.6L340.2 288.7L342.1 288.8L344.1 288.9L346.1 289.0L348.1 289.1L350.0 289.4L352.0 289.6L354.0 289.8L356.0 289.8L358.0 289.9L359.9 290.1L361.9 290.5L363.9 290.6L365.9 290.5L367.8 290.5L369.8 290.6L371.8 290.8L373.8 290.9L375.7 291.0L377.7 291.1L379.7 291.3L381.6 291.4L383.5 291.7L385.5 292.0L387.4 292.3L389.4 292.4L391.3 292.6L393.3 292.7L395.2 292.9L397.2 293.3L399.1 293.7L401.1 294.2L403.1 294.5L405.0 294.9L407.0 295.4L409.0 295.6L410.9 295.7L412.9 295.6L414.8 296.0L416.8 296.4L418.7 296.7L420.7 296.9L422.6 297.1L424.6 297.4L426.5 297.8L428.4 298.3L430.4 298.9L432.3 299.5L434.2 300.1L436.2 300.7L438.1 301.1L440.1 301.4L442.0 301.5L443.9 301.7L445.8 301.9L447.7 302.5L449.7 303.0L451.6 303.5L453.5 303.9L455.4 304.4L457.3 304.9L459.2 305.5L461.1 306.2L463.0 306.8L464.8 307.1L466.7 307.3L468.6 307.7L470.5 308.2L472.4 308.9L474.2 309.5L476.1 310.2L478.0 310.9L479.8 311.6L481.7 312.4L483.5 313.2L485.3 314.0L487.2 314.6L489.0 314.9L490.8 315.1L492.6 315.3L494.4 316.1L496.1 317.3L497.8 318.5L499.3 319.5L500.9 320.4L502.6 321.3L504.3 322.2L506.0 323.1L507.7 323.9L509.5 325.0L511.4 326.0L513.3 327.2L515.2 328.4L517.2 329.7L519.1 330.5L521.0 330.9L522.9 331.1L524.8 331.7L526.7 332.6L528.5 333.8L530.4 334.6L532.3 335.5L534.1 336.5L536.0 337.9L537.8 339.3L539.6 339.9L541.4 339.9L543.2 339.9L544.9 340.7L546.8 341.9L548.6 343.4L550.4 344.3L552.3 344.9L554.1 345.2L555.9 345.8L557.8 346.5L559.6 347.3L561.4 348.2L563.1 349.6L564.9 351.0L566.7 352.4L568.4 353.0L570.2 353.7L571.8 353.8L573.5 354.4L575.1 354.9L576.7 355.9L578.3 356.8L579.9 357.9L581.4 359.5L583.0 360.7L584.5 361.5L586.1 361.9L587.6 362.6L589.1 363.6L590.6 364.7L592.1 366.0L592.7 366.7L603.3 349.1L602.6 348.4L601.0 346.5L599.3 344.8L597.6 343.3L595.9 342.0L594.2 340.6L592.5 339.1L590.7 337.7L588.9 336.7L587.0 335.6L585.2 334.4L583.3 333.3L581.4 332.4L579.5 331.9L577.6 330.9L575.7 329.8L573.8 328.4L572.0 327.5L570.1 327.1L568.3 327.0L566.4 326.5L564.5 325.6L562.7 324.7L560.9 323.8L559.0 323.1L557.2 322.6L555.4 322.2L553.6 321.6L551.7 320.5L549.9 319.1L548.0 318.0L546.1 317.0L544.2 316.1L542.3 314.9L540.4 314.0L538.6 313.2L536.7 312.6L534.9 312.0L533.0 311.5L531.2 311.0L529.4 310.7L527.6 310.1L525.9 309.8L524.1 309.4L522.5 308.9L520.9 307.9L519.3 306.9L517.6 306.0L515.9 305.4L514.2 304.5L512.4 303.2L510.5 301.6L508.6 300.7L506.7 300.1L504.6 299.4L502.5 298.4L500.6 297.3L498.6 296.5L496.7 295.9L494.7 295.2L492.8 294.4L490.8 293.6L488.9 293.2L486.9 292.6L485.0 291.8L483.0 290.8L481.0 290.2L479.1 289.9L477.1 289.8L475.1 289.4L473.2 288.8L471.2 287.9L469.2 287.3L467.2 286.8L465.3 286.7L463.3 286.5L461.3 286.2L459.3 285.6L457.3 285.0L455.3 284.4L453.3 284.0L451.3 283.4L449.3 282.7L447.3 282.0L445.3 281.7L443.4 281.4L441.4 281.4L439.4 281.2L437.4 281.0L435.4 280.4L433.4 280.0L431.4 279.6L429.4 279.4L427.4 278.8L425.4 278.3L423.4 277.8L421.4 277.6L419.4 277.4L417.4 277.3L415.3 277.0L413.3 276.8L411.3 276.6L409.3 276.4L407.3 276.2L405.3 275.8L403.4 275.5L401.3 275.2L399.3 275.1L397.3 274.9L395.3 274.9L393.3 274.8L391.3 274.5L389.2 274.2L387.2 273.9L385.2 273.6L383.1 273.3L381.1 273.0L379.0 272.8L377.0 272.8L375.0 272.8L373.0 272.8L371.0 272.6L369.0 272.3L366.9 271.9L364.9 271.8L362.9 271.8L360.9 271.8L358.9 271.8L356.9 271.7L354.8 271.6L352.8 271.5L350.8 271.4L348.8 271.3L346.8 271.3L344.8 271.1L342.7 271.0L340.7 270.8L338.7 270.7L336.6 270.6L334.6 270.7L332.5 270.7L330.5 270.8L328.5 270.9L326.5 270.9L324.4 270.8L322.4 270.9L320.4 271.0L318.3 271.1L316.3 271.1L314.3 271.2L312.3 271.2L310.2 271.3L308.2 271.3L306.2 271.3L304.2 271.4L302.2 271.4L300.1 271.5L298.1 271.5L296.1 271.7L294.1 271.8L292.1 271.9L290.1 271.9L288.1 272.0L286.1 272.1L284.1 272.2L282.0 272.3L280.0 272.4L278.0 272.5L276.0 272.6L273.9 272.8L271.9 273.1L269.8 273.3L267.8 273.5L265.7 273.5L263.7 273.6L261.7 273.8L259.6 274.0L257.6 274.2L255.6 274.5L253.6 274.8L251.5 275.1L249.5 275.4L247.5 275.6L245.5 275.8L243.5 276.0L241.5 276.4L239.5 276.9L237.5 277.3L235.4 277.6L233.4 277.9L231.4 278.2L229.4 278.5L227.5 278.8L225.5 279.0L223.5 279.3L221.5 279.6L219.5 280.1L217.5 280.7Z"/><rect x="210.6" y="280.2" width="16.8" height="17.4" rx="8.4"/><rect x="589.6" y="346.3" width="16.8" height="22.8" rx="8.4"/><circle cx="416.1" cy="285.5" r="8.4"/><circle cx="424.0" cy="289.4" r="8.4"/><circle cx="429.9" cy="288.0" r="8.4"/><circle cx="435.8" cy="289.0" r="8.4"/><circle cx="439.7" cy="289.3" r="8.4"/><circle cx="443.7" cy="289.8" r="8.4"/><circle cx="447.6" cy="294.4" r="8.4"/><circle cx="453.4" cy="295.9" r="8.4"/><circle cx="461.2" cy="297.8" r="8.4"/><circle cx="469.0" cy="295.8" r="8.4"/><circle cx="474.7" cy="297.7" r="8.4"/><circle cx="480.5" cy="298.4" r="8.4"/><circle cx="488.1" cy="301.1" r="8.4"/><circle cx="495.6" cy="309.3" r="8.4"/><circle cx="503.0" cy="312.5" r="8.4"/><circle cx="506.6" cy="313.4" r="8.4"/><circle cx="510.1" cy="316.5" r="8.4"/><circle cx="517.1" cy="313.8" r="8.4"/><circle cx="522.5" cy="316.7" r="8.4"/><circle cx="526.2" cy="324.1" r="8.4"/><circle cx="531.7" cy="319.8" r="8.4"/><circle cx="539.1" cy="322.5" r="8.4"/><circle cx="546.5" cy="325.1" r="8.4"/><circle cx="553.8" cy="336.9" r="8.4"/><circle cx="559.3" cy="331.6" r="8.4"/><circle cx="564.8" cy="341.7" r="8.4"/><circle cx="568.4" cy="335.3" r="8.4"/><circle cx="575.7" cy="337.8" r="8.4"/><circle cx="580.9" cy="341.2" r="8.4"/><circle cx="587.7" cy="345.2" r="8.4"/><circle cx="594.2" cy="358.3" r="8.4"/></g><g fill="#4DBEEE"><path d="M170.7 279.7L172.7 279.9L174.7 280.0L176.7 280.0L178.6 280.2L180.6 280.3L182.6 280.4L184.6 280.5L186.6 280.5L188.6 280.7L190.6 280.8L192.6 280.9L194.6 280.8L196.6 280.9L198.6 281.0L200.6 281.0L202.6 281.0L204.6 281.1L206.6 281.3L208.6 281.5L210.6 281.7L212.6 281.7L214.6 281.8L216.6 281.8L218.6 282.0L220.6 282.2L222.6 282.3L224.6 282.3L226.6 282.3L228.6 282.4L230.6 282.6L232.6 282.8L234.5 282.8L236.5 282.8L238.5 282.7L240.5 282.7L242.5 282.8L244.5 283.0L246.5 283.4L248.5 283.6L250.5 283.8L252.5 283.9L254.5 283.9L256.5 283.9L258.5 283.9L260.5 284.0L262.5 284.1L264.5 284.3L266.5 284.4L268.5 284.5L270.5 284.5L272.5 284.6L274.5 284.6L276.5 284.7L278.5 284.9L280.5 285.0L282.5 285.1L284.5 285.1L286.5 285.1L288.5 285.2L290.5 285.3L292.5 285.4L294.5 285.4L296.4 285.5L298.4 285.7L300.4 286.1L302.4 286.4L304.4 286.4L306.4 286.4L308.4 286.4L310.4 286.7L312.4 286.9L314.4 286.9L316.4 286.9L318.4 287.0L320.4 287.2L322.4 287.3L324.4 287.4L326.4 287.5L328.3 287.7L330.3 288.1L332.3 288.3L334.3 288.5L336.3 288.7L338.3 288.9L340.3 289.2L342.3 289.3L344.3 289.4L346.3 289.3L348.3 289.4L350.2 289.3L352.2 289.5L354.2 289.6L356.2 289.9L358.2 290.2L360.2 290.6L362.2 290.7L364.1 290.6L366.1 290.4L368.1 290.6L370.1 290.8L372.0 291.1L374.0 291.2L376.0 291.4L377.9 291.6L379.9 291.7L381.8 291.9L383.7 292.0L385.7 292.3L387.6 292.6L389.5 293.0L391.5 293.3L393.4 293.6L395.4 293.9L397.3 294.1L399.3 294.4L401.2 295.0L403.2 295.5L405.2 295.7L407.1 295.7L409.1 295.9L411.0 296.3L413.0 296.9L414.9 297.4L416.9 297.9L418.8 298.5L420.7 298.9L422.7 299.2L424.6 299.6L426.6 299.8L428.5 300.2L430.4 300.6L432.4 301.1L434.3 301.4L436.2 301.5L438.2 301.7L440.1 302.1L442.0 302.6L443.9 303.2L445.8 304.2L447.7 305.0L449.7 305.7L451.6 305.9L453.5 306.2L455.4 306.1L457.3 306.4L459.2 306.8L461.0 307.9L462.9 308.7L464.8 309.4L466.7 309.7L468.6 310.3L470.5 310.8L472.3 311.4L474.2 311.8L476.0 312.6L477.9 313.5L479.7 314.5L481.6 315.2L483.4 315.6L485.2 316.2L487.1 317.0L488.9 317.7L490.7 318.3L492.5 319.0L494.2 320.0L496.0 320.7L497.6 321.4L499.2 321.9L500.8 322.6L502.5 323.4L504.1 324.4L505.9 325.9L507.6 327.1L509.4 328.2L511.2 328.7L513.1 329.5L515.1 330.3L517.1 331.7L519.0 333.0L521.0 334.2L522.8 334.6L524.7 335.1L526.5 335.6L528.3 336.5L530.1 337.5L531.9 338.5L533.6 339.7L535.4 340.5L537.1 341.1L538.8 341.5L540.5 342.5L542.2 343.3L543.8 343.8L545.5 343.9L545.8 343.6L554.2 325.1L553.8 324.6L551.9 323.1L550.1 321.7L548.2 320.6L546.3 319.5L544.4 318.1L542.5 317.0L540.6 316.0L538.7 315.4L536.8 314.4L534.9 313.8L533.0 312.9L531.2 311.9L529.3 311.3L527.5 310.8L525.7 310.2L524.0 309.4L522.4 308.5L520.8 308.1L519.2 307.7L517.6 307.4L515.9 306.3L514.1 305.2L512.3 303.7L510.5 302.6L508.6 301.7L506.6 301.0L504.6 299.9L502.6 298.7L500.6 297.7L498.7 297.3L496.8 296.8L494.8 296.4L492.9 295.5L490.9 294.9L489.0 294.0L487.0 293.3L485.1 292.0L483.1 291.2L481.2 290.7L479.2 290.6L477.2 290.2L475.3 289.8L473.3 289.2L471.4 288.7L469.4 288.0L467.4 287.1L465.4 286.3L463.5 285.6L461.5 285.3L459.5 285.0L457.5 284.9L455.6 284.8L453.6 284.5L451.6 284.2L449.6 283.8L447.6 283.4L445.6 282.9L443.6 282.7L441.7 282.5L439.7 281.9L437.7 281.1L435.7 280.1L433.7 279.4L431.7 279.1L429.7 278.9L427.7 278.5L425.7 278.0L423.7 277.7L421.8 277.7L419.7 277.9L417.7 277.9L415.7 277.6L413.7 277.2L411.7 276.6L409.7 276.2L407.8 275.9L405.8 275.7L403.8 275.4L401.8 275.0L399.8 274.6L397.8 274.2L395.8 273.9L393.7 273.7L391.7 273.6L389.7 273.4L387.7 273.4L385.6 273.2L383.6 272.9L381.5 272.6L379.5 272.5L377.5 272.6L375.4 272.6L373.4 272.3L371.4 271.9L369.4 271.7L367.4 271.6L365.4 271.7L363.4 271.7L361.3 271.7L359.3 271.4L357.3 271.1L355.3 270.7L353.3 270.6L351.3 270.7L349.3 270.9L347.3 270.9L345.3 270.4L343.3 270.0L341.3 269.6L339.3 269.6L337.3 269.7L335.3 269.9L333.3 269.9L331.3 269.8L329.3 269.6L327.3 269.5L325.3 269.3L323.3 269.3L321.3 269.1L319.3 269.1L317.3 269.0L315.3 269.0L313.3 268.9L311.3 268.9L309.3 268.9L307.3 268.8L305.3 268.8L303.3 268.7L301.3 268.5L299.3 268.2L297.3 267.9L295.3 267.8L293.3 267.7L291.3 267.8L289.3 267.7L287.3 267.6L285.3 267.5L283.3 267.5L281.3 267.4L279.3 267.1L277.3 267.0L275.3 266.9L273.3 267.1L271.3 267.0L269.3 266.8L267.3 266.6L265.3 266.4L263.3 266.3L261.3 266.2L259.3 266.2L257.3 266.0L255.3 265.9L253.3 265.8L251.3 265.9L249.3 266.0L247.3 266.1L245.3 266.1L243.3 266.0L241.3 265.7L239.3 265.5L237.3 265.1L235.3 264.9L233.3 264.8L231.3 264.8L229.3 264.9L227.3 265.0L225.3 264.8L223.3 264.7L221.3 264.4L219.3 264.3L217.3 264.2L215.3 264.1L213.3 264.1L211.3 264.1L209.3 264.0L207.3 264.0L205.3 263.9L203.3 263.9L201.3 263.9L199.3 263.9L197.3 263.7L195.3 263.4L193.3 263.3L191.3 263.2L189.3 263.3L187.3 263.2L185.3 263.2L183.3 263.0L181.3 262.9L179.3 262.8L177.3 262.7L175.3 262.6L173.3 262.6L171.3 262.5Z"/><rect x="162.6" y="262.4" width="16.8" height="17.6" rx="8.4"/><rect x="541.6" y="323.0" width="16.8" height="22.8" rx="8.4"/><circle cx="362.8" cy="282.1" r="8.4"/><circle cx="370.7" cy="280.3" r="8.4"/><circle cx="378.7" cy="280.7" r="8.4"/><circle cx="382.7" cy="283.9" r="8.4"/><circle cx="386.7" cy="284.3" r="8.4"/><circle cx="392.6" cy="281.9" r="8.4"/><circle cx="400.5" cy="287.0" r="8.4"/><circle cx="408.4" cy="287.9" r="8.4"/><circle cx="412.4" cy="284.6" r="8.4"/><circle cx="416.3" cy="286.0" r="8.4"/><circle cx="422.2" cy="290.6" r="8.4"/><circle cx="426.2" cy="290.9" r="8.4"/><circle cx="430.1" cy="287.7" r="8.4"/><circle cx="434.0" cy="292.9" r="8.4"/><circle cx="437.9" cy="294.1" r="8.4"/><circle cx="445.8" cy="290.4" r="8.4"/><circle cx="453.6" cy="291.9" r="8.4"/><circle cx="461.3" cy="294.9" r="8.4"/><circle cx="467.1" cy="302.0" r="8.4"/><circle cx="472.9" cy="297.3" r="8.4"/><circle cx="480.5" cy="306.6" r="8.4"/><circle cx="488.1" cy="309.3" r="8.4"/><circle cx="493.7" cy="311.7" r="8.4"/><circle cx="501.1" cy="306.9" r="8.4"/><circle cx="506.5" cy="316.7" r="8.4"/><circle cx="511.7" cy="319.7" r="8.4"/><circle cx="515.2" cy="323.0" r="8.4"/><circle cx="522.4" cy="316.6" r="8.4"/><circle cx="526.1" cy="319.8" r="8.4"/><circle cx="531.6" cy="321.7" r="8.4"/><circle cx="537.1" cy="333.5" r="8.4"/><circle cx="540.7" cy="334.7" r="8.4"/><circle cx="544.3" cy="335.5" r="8.4"/></g><g fill="#CD2630"><path d="M253.0 283.8L255.0 283.7L257.0 283.5L258.9 283.2L260.9 282.9L262.8 282.6L264.8 282.5L266.7 282.4L268.7 282.2L270.7 282.1L272.6 281.9L274.6 281.7L276.6 281.5L278.6 281.2L280.6 281.1L282.6 281.0L284.6 280.8L286.6 280.6L288.7 280.4L290.7 280.2L292.7 280.0L294.7 279.9L296.7 279.6L298.8 279.4L300.8 279.0L302.8 278.8L304.8 278.6L306.9 278.5L308.9 278.2L310.9 277.8L312.9 277.5L314.9 277.4L317.0 277.1L319.0 276.8L321.0 276.4L323.0 276.1L325.0 275.9L327.0 275.6L329.0 275.3L330.9 274.8L332.7 274.3L334.5 274.1L336.3 273.7L338.2 273.3L340.1 272.8L342.1 272.8L344.1 272.8L346.1 272.9L348.1 272.9L350.1 272.7L352.2 272.4L354.2 272.1L356.3 271.9L358.4 271.6L360.5 271.0L362.6 270.5L364.6 270.2L366.6 270.0L368.6 269.6L370.6 269.2L372.5 268.9L374.5 268.8L376.5 268.6L378.5 268.2L380.5 267.6L382.4 266.8L384.4 266.3L386.4 266.0L388.3 265.9L390.3 265.4L392.2 264.9L394.2 264.2L396.1 263.8L398.1 263.5L400.0 263.1L402.0 262.8L403.9 262.4L405.9 262.1L407.8 261.8L409.8 261.4L411.7 261.2L413.7 260.7L415.6 260.3L417.6 259.6L419.5 259.2L421.5 258.8L423.4 258.4L425.4 257.9L427.4 257.5L429.3 257.1L431.3 256.9L433.3 256.7L435.2 256.5L437.2 256.1L439.2 255.8L441.1 255.3L443.1 254.9L445.1 254.3L447.0 253.9L449.0 253.5L450.9 253.2L452.9 252.9L454.9 252.6L456.8 252.1L458.8 251.6L460.7 251.1L462.7 250.7L464.7 250.4L466.6 250.2L468.6 249.9L470.5 249.5L472.5 249.0L474.5 248.7L476.4 248.4L478.4 247.9L480.3 247.4L482.3 246.9L484.2 246.5L486.1 246.1L488.1 245.7L490.1 245.2L492.1 244.8L494.1 244.4L496.1 244.0L498.2 243.7L500.3 243.4L502.3 243.2L504.3 242.7L506.3 242.2L508.3 241.7L510.3 241.3L512.2 240.8L514.2 240.1L516.2 239.3L518.2 238.7L520.2 238.3L522.1 238.0L524.1 237.6L526.1 237.0L528.0 236.4L530.0 235.9L532.0 235.3L533.9 234.8L535.9 234.1L537.8 233.6L539.8 232.9L541.7 232.2L543.7 231.5L545.6 230.8L547.6 230.2L549.5 229.5L551.4 228.7L553.3 227.9L555.2 227.2L557.1 226.5L559.0 225.8L560.9 225.1L562.8 224.4L564.7 223.7L566.7 222.9L568.6 222.0L570.5 221.2L572.5 220.4L574.5 219.6L576.5 218.7L578.4 217.6L580.3 216.5L582.1 215.4L583.9 214.4L585.7 213.5L587.4 212.4L589.2 211.3L590.9 210.2L592.7 209.0L594.4 207.9L596.2 206.9L597.9 205.9L599.7 204.8L601.4 203.6L603.1 202.4L604.9 201.3L606.6 200.1L608.4 198.8L610.0 197.4L611.7 196.0L613.3 194.6L614.8 193.2L616.4 191.9L618.0 190.7L619.6 189.4L621.1 188.1L622.6 186.8L624.1 185.4L625.6 184.0L627.0 182.7L628.5 181.5L630.0 180.3L631.5 179.1L633.0 177.9L634.6 176.7L636.1 175.4L636.2 175.2L625.8 162.1L625.6 162.2L624.0 163.3L622.5 164.4L620.9 165.6L619.3 166.9L617.8 168.2L616.2 169.5L614.6 170.7L613.0 172.0L611.5 173.4L610.0 174.9L608.6 176.3L607.1 177.5L605.6 178.8L604.1 179.9L602.6 181.3L601.1 182.5L599.6 183.8L598.1 184.8L596.6 185.9L595.1 187.0L593.6 188.2L592.0 189.4L590.4 190.5L588.8 191.4L587.2 192.3L585.5 193.3L583.9 194.5L582.2 195.5L580.5 196.5L578.8 197.4L577.1 198.4L575.4 199.2L573.8 200.2L572.1 201.1L570.5 202.1L568.9 202.8L567.2 203.6L565.6 204.4L563.9 205.5L562.1 206.3L560.4 207.1L558.6 207.7L556.8 208.4L554.9 209.0L553.1 209.7L551.2 210.2L549.4 211.0L547.5 211.7L545.6 212.3L543.8 213.0L542.0 213.6L540.1 214.3L538.3 214.9L536.4 215.6L534.6 216.1L532.7 216.6L530.9 217.1L529.0 217.7L527.1 218.4L525.3 219.2L523.4 219.8L521.5 220.3L519.6 220.7L517.7 221.2L515.8 221.6L513.9 222.1L512.0 222.6L510.1 223.1L508.2 223.7L506.3 224.4L504.4 224.9L502.5 225.2L500.6 225.4L498.7 225.6L496.8 225.8L495.0 226.2L493.1 226.5L491.2 227.0L489.3 227.5L487.3 228.1L485.3 228.4L483.4 228.6L481.4 228.9L479.3 229.1L477.3 229.4L475.4 229.6L473.4 230.0L471.4 230.3L469.5 230.6L467.5 230.7L465.5 230.9L463.5 231.3L461.6 231.8L459.6 232.3L457.6 232.8L455.6 233.2L453.7 233.5L451.7 233.7L449.7 234.1L447.8 234.5L445.8 234.8L443.8 235.2L441.9 235.6L439.9 236.0L437.9 236.3L436.0 236.6L434.0 237.0L432.1 237.6L430.1 238.1L428.1 238.6L426.2 238.9L424.2 239.3L422.3 239.6L420.3 239.9L418.3 240.2L416.3 240.5L414.4 240.7L412.4 241.0L410.4 241.2L408.5 241.3L406.5 241.9L404.5 242.4L402.5 243.0L400.5 243.3L398.6 243.7L396.6 244.1L394.6 244.7L392.7 245.0L390.7 245.3L388.8 245.6L386.8 245.7L384.8 245.9L382.9 246.5L380.9 247.2L379.0 247.9L377.0 248.5L375.1 248.8L373.2 249.1L371.2 249.2L369.3 249.4L367.3 249.9L365.4 250.6L363.5 251.4L361.5 251.7L359.6 251.9L357.7 252.0L355.9 252.3L354.0 252.6L352.1 252.9L350.2 253.4L348.3 253.7L346.3 254.0L344.4 253.8L342.4 253.8L340.4 254.0L338.4 254.6L336.3 255.0L334.3 255.5L332.1 255.7L329.9 256.0L327.8 256.1L325.8 256.5L323.9 257.0L322.0 257.7L320.0 258.2L318.1 258.7L316.1 259.1L314.2 259.3L312.3 259.2L310.3 259.2L308.4 259.3L306.4 259.8L304.5 260.4L302.6 260.9L300.6 261.2L298.7 261.2L296.8 261.3L294.8 261.5L292.9 261.9L290.9 262.2L288.9 262.4L287.0 262.4L285.0 262.5L283.0 262.9L281.1 263.3L279.1 263.7L277.1 263.9L275.1 264.1L273.1 264.3L271.1 264.4L269.1 264.6L267.1 264.8L265.1 265.2L263.1 265.4L261.0 265.7L259.0 265.7L257.0 265.9L255.0 266.0L253.0 266.2L251.0 266.5Z"/><rect x="243.6" y="266.4" width="16.8" height="17.5" rx="8.4"/><rect x="622.6" y="160.0" width="16.8" height="16.9" rx="8.4"/><circle cx="335.3" cy="266.1" r="8.4"/><circle cx="343.2" cy="262.0" r="8.4"/><circle cx="351.2" cy="264.6" r="8.4"/><circle cx="355.2" cy="264.2" r="8.4"/><circle cx="361.1" cy="262.8" r="8.4"/><circle cx="367.0" cy="261.8" r="8.4"/><circle cx="374.8" cy="260.2" r="8.4"/><circle cx="378.8" cy="256.2" r="8.4"/><circle cx="382.7" cy="258.4" r="8.4"/><circle cx="390.5" cy="254.0" r="8.4"/><circle cx="396.4" cy="256.3" r="8.4"/><circle cx="400.3" cy="255.7" r="8.4"/><circle cx="408.1" cy="253.9" r="8.4"/><circle cx="414.0" cy="248.9" r="8.4"/><circle cx="417.9" cy="248.6" r="8.4"/><circle cx="423.8" cy="250.6" r="8.4"/><circle cx="429.7" cy="245.6" r="8.4"/><circle cx="437.6" cy="244.3" r="8.4"/><circle cx="441.5" cy="244.1" r="8.4"/><circle cx="449.4" cy="242.2" r="8.4"/><circle cx="453.3" cy="244.0" r="8.4"/></g><g fill="#887F98"><path d="M303.7 282.9L305.6 282.6L307.4 282.2L309.3 281.8L311.2 281.5L313.1 281.1L315.0 280.7L316.9 280.2L318.8 279.8L320.7 279.4L322.7 279.3L324.6 279.0L326.5 278.6L328.5 277.9L330.4 277.3L332.2 276.8L334.0 276.5L335.8 276.4L337.7 276.1L339.7 275.9L341.6 275.7L343.6 275.6L345.6 275.5L347.7 275.2L349.7 275.1L351.7 274.9L353.8 274.7L355.8 274.3L357.9 273.8L360.0 273.5L362.1 273.2L364.1 273.0L366.1 272.6L368.0 272.1L370.0 271.7L372.0 271.2L374.0 270.9L375.9 270.4L377.9 270.0L379.9 269.5L381.8 269.2L383.8 268.9L385.8 268.6L387.7 268.1L389.7 267.8L391.6 267.4L393.6 267.2L395.5 266.9L397.5 266.6L399.4 266.2L401.4 265.6L403.3 265.1L405.3 264.3L407.2 263.8L409.1 263.2L411.1 263.1L413.0 262.7L415.0 262.4L416.9 261.7L418.9 261.2L420.8 260.7L422.8 260.2L424.7 259.6L426.7 259.0L428.6 258.8L430.6 258.8L432.6 258.8L434.5 258.3L436.5 258.0L438.5 257.5L440.4 257.4L442.4 256.8L444.4 256.3L446.3 255.8L448.3 255.6L450.2 255.5L452.2 255.3L454.2 254.8L456.1 254.1L458.1 253.5L460.0 253.3L462.0 253.3L463.9 253.2L465.9 252.6L467.8 251.8L469.8 250.8L471.7 250.2L473.7 249.9L475.7 249.7L477.6 249.1L479.6 248.4L481.5 247.7L483.4 247.3L485.4 246.9L487.3 246.5L489.3 246.2L491.2 245.9L493.2 245.6L495.3 245.1L497.3 244.7L499.3 243.9L501.4 243.2L503.4 242.4L505.4 241.8L507.4 241.2L509.3 240.7L511.3 240.1L513.3 239.6L515.2 238.8L517.2 238.1L519.1 237.3L521.0 236.7L523.0 236.0L524.9 235.4L526.8 234.7L528.7 233.9L530.7 233.2L532.6 232.3L534.5 231.5L536.4 230.7L538.3 230.0L540.1 229.3L542.0 228.5L543.9 227.8L545.8 227.1L547.7 226.4L549.5 225.7L551.4 225.0L553.3 224.4L555.2 223.6L557.0 222.7L558.9 221.9L560.8 221.2L562.7 220.5L564.6 219.5L566.5 218.5L568.4 217.5L570.3 216.6L572.1 215.6L574.0 214.6L575.8 213.7L577.7 212.9L579.5 212.0L581.3 211.1L583.2 209.9L585.0 208.8L586.8 207.7L588.5 206.8L590.3 205.8L592.1 204.8L593.8 203.6L595.6 202.5L597.3 201.5L599.0 200.4L600.8 199.3L602.5 198.1L604.2 197.1L605.9 196.2L607.6 195.2L609.3 194.1L611.0 192.8L612.7 191.6L614.4 190.5L616.1 189.5L617.8 188.5L619.4 187.6L621.1 186.5L622.8 185.6L624.5 184.5L626.2 183.4L627.9 182.1L629.6 181.0L631.3 179.7L633.0 178.5L634.7 177.3L636.4 176.2L638.1 175.0L639.7 173.7L641.4 172.3L643.1 170.9L644.7 169.6L646.3 168.4L647.9 167.3L649.5 165.9L651.1 164.4L652.7 162.8L654.3 161.4L655.9 159.9L657.4 158.7L658.9 157.4L660.5 156.1L662.0 154.8L663.5 153.4L665.0 151.9L666.4 150.3L667.9 148.7L669.3 147.2L670.8 145.7L672.2 144.1L673.6 142.3L675.0 140.5L676.4 138.9L677.7 137.3L679.0 135.8L680.3 134.2L681.5 132.5L682.7 130.7L683.9 128.9L685.0 127.1L686.1 125.3L687.3 123.6L687.6 123.1L673.4 113.8L673.1 114.3L672.1 115.8L671.0 117.5L669.9 119.2L668.8 121.0L667.7 122.5L666.6 124.1L665.5 125.4L664.4 126.7L663.2 127.9L662.1 129.4L660.9 130.9L659.6 132.5L658.4 133.9L657.1 135.2L655.8 136.6L654.4 138.0L653.1 139.4L651.7 140.8L650.3 142.1L648.9 143.4L647.5 144.8L646.1 146.2L644.7 147.5L643.2 148.7L641.8 150.0L640.3 151.2L638.8 152.4L637.3 153.5L635.8 154.7L634.3 156.0L632.8 157.2L631.3 158.4L629.7 159.5L628.2 160.6L626.6 161.9L625.0 163.0L623.4 164.2L621.8 165.1L620.2 166.0L618.6 167.0L617.0 168.2L615.3 169.4L613.7 170.6L612.0 171.7L610.3 172.8L608.7 173.8L607.0 174.9L605.3 175.9L603.6 177.0L602.0 178.1L600.3 179.1L598.6 180.1L596.9 181.1L595.2 182.4L593.6 183.5L591.9 184.6L590.2 185.5L588.5 186.3L586.8 187.2L585.2 188.2L583.5 189.2L581.8 190.4L580.1 191.5L578.4 192.6L576.7 193.4L575.0 194.3L573.3 195.1L571.6 196.2L569.9 197.0L568.2 197.9L566.5 198.7L564.7 199.5L563.0 200.3L561.3 201.0L559.5 201.8L557.7 202.7L556.0 203.5L554.2 204.2L552.4 204.9L550.6 205.8L548.8 206.5L547.0 207.1L545.1 207.6L543.3 208.4L541.4 209.4L539.6 210.2L537.8 211.0L535.9 211.5L534.1 212.1L532.2 212.8L530.4 213.7L528.5 214.5L526.7 215.3L524.8 215.9L523.0 216.3L521.2 216.8L519.3 217.2L517.5 217.8L515.6 218.4L513.7 219.2L511.9 219.9L510.0 220.6L508.2 221.3L506.3 222.1L504.5 222.7L502.6 223.0L500.7 223.2L498.9 223.6L497.0 224.1L495.2 224.7L493.4 225.1L491.5 225.5L489.6 225.8L487.7 226.4L485.8 226.9L483.8 227.5L481.8 227.7L479.9 227.9L477.9 228.1L475.9 228.4L474.0 228.7L472.0 229.1L470.1 229.3L468.1 229.8L466.2 230.4L464.2 231.2L462.3 231.5L460.3 231.7L458.4 231.7L456.4 232.2L454.4 232.7L452.5 233.3L450.5 233.6L448.6 233.9L446.6 234.1L444.7 234.7L442.7 235.5L440.8 236.2L438.8 236.6L436.9 236.9L435.0 237.2L433.0 237.5L431.1 237.7L429.1 238.2L427.2 238.7L425.2 239.4L423.3 240.0L421.3 240.8L419.3 241.3L417.4 241.7L415.4 241.9L413.5 242.1L411.5 242.5L409.5 243.0L407.6 243.6L405.6 244.2L403.6 244.9L401.6 245.4L399.7 245.7L397.7 246.0L395.8 246.5L393.8 247.2L391.9 247.8L389.9 248.1L387.9 248.3L386.0 248.5L384.1 249.0L382.1 249.4L380.2 249.9L378.2 250.2L376.3 250.8L374.3 251.4L372.4 252.0L370.5 252.3L368.5 252.6L366.6 252.9L364.6 253.6L362.7 254.2L360.8 254.8L358.9 255.1L357.0 255.4L355.1 255.7L353.3 256.2L351.4 256.3L349.4 256.7L347.5 256.7L345.6 256.9L343.6 257.0L341.7 257.3L339.7 257.6L337.7 258.1L335.7 258.4L333.6 258.7L331.4 259.0L329.3 259.4L327.2 259.8L325.2 260.2L323.2 260.4L321.2 260.7L319.2 261.1L317.3 261.7L315.3 262.3L313.3 262.9L311.3 263.3L309.3 263.7L307.3 264.2L305.3 264.7L303.3 265.2L301.3 265.7L299.3 266.3Z"/><rect x="293.1" y="265.8" width="16.8" height="17.7" rx="8.4"/><rect x="672.1" y="110.0" width="16.8" height="17.0" rx="8.4"/><circle cx="366.3" cy="261.8" r="8.4"/><circle cx="372.2" cy="263.2" r="8.4"/><circle cx="376.1" cy="262.2" r="8.4"/><circle cx="383.9" cy="260.7" r="8.4"/><circle cx="387.8" cy="256.7" r="8.4"/><circle cx="395.6" cy="254.5" r="8.4"/><circle cx="401.5" cy="256.8" r="8.4"/><circle cx="405.4" cy="255.7" r="8.4"/><circle cx="413.2" cy="254.3" r="8.4"/><circle cx="417.1" cy="249.6" r="8.4"/><circle cx="425.0" cy="252.6" r="8.4"/><circle cx="428.9" cy="251.1" r="8.4"/><circle cx="436.7" cy="245.6" r="8.4"/><circle cx="444.5" cy="243.3" r="8.4"/><circle cx="452.3" cy="242.5" r="8.4"/><circle cx="456.3" cy="245.2" r="8.4"/><circle cx="462.1" cy="244.6" r="8.4"/><circle cx="469.9" cy="241.9" r="8.4"/><circle cx="475.8" cy="236.8" r="8.4"/><circle cx="481.6" cy="235.6" r="8.4"/><circle cx="489.5" cy="237.4" r="8.4"/><circle cx="495.3" cy="236.3" r="8.4"/><circle cx="501.1" cy="231.7" r="8.4"/><circle cx="505.0" cy="233.2" r="8.4"/><circle cx="508.8" cy="232.5" r="8.4"/><circle cx="516.4" cy="229.8" r="8.4"/></g><g fill="#FF6B2C"><path d="M335.9 280.0L338.0 279.8L340.1 279.6L342.2 279.3L344.3 278.9L346.4 278.6L348.5 278.1L350.5 277.9L352.5 277.6L354.6 277.2L356.6 276.7L358.5 276.3L360.5 275.9L362.4 275.7L364.4 275.2L366.4 274.8L368.3 274.3L370.3 273.7L372.2 273.2L374.2 272.6L376.1 272.1L378.1 271.6L380.0 271.1L382.0 270.5L383.9 270.1L385.9 269.8L387.8 269.4L389.8 269.3L391.7 268.8L393.7 268.3L395.6 267.5L397.6 267.1L399.5 266.6L401.5 266.1L403.4 265.4L405.4 264.9L407.3 264.4L409.2 264.0L411.2 263.6L413.1 263.2L415.0 262.7L417.0 262.0L418.9 261.3L420.9 260.8L422.8 260.5L424.7 260.2L426.7 259.8L428.6 259.3L430.6 258.8L432.5 258.2L434.5 257.8L436.4 257.4L438.4 257.0L440.3 256.6L442.3 256.2L444.2 255.6L446.1 255.2L448.1 254.8L450.0 254.4L451.9 253.8L453.8 253.1L455.7 252.4L457.7 251.9L459.6 251.4L461.5 250.9L463.4 250.5L465.3 250.1L467.3 249.9L469.2 249.8L471.1 249.6L473.1 249.3L475.0 249.0L477.0 248.6L478.9 248.2L480.9 247.5L482.8 246.8L484.8 245.9L486.7 245.3L488.7 244.8L490.7 244.5L492.7 244.1L494.7 243.7L496.8 243.1L498.8 242.5L500.9 241.9L502.9 241.2L504.9 240.5L506.9 239.4L508.9 238.5L510.8 237.7L512.8 237.4L514.7 236.9L516.6 236.2L518.5 235.4L520.4 234.6L522.3 234.0L524.2 233.2L526.1 232.2L527.9 230.9L529.8 229.8L531.6 228.9L533.5 228.2L535.3 227.4L537.1 226.8L539.0 226.0L540.8 225.3L542.6 224.4L544.4 223.6L546.2 222.7L548.0 221.9L549.8 220.9L551.6 219.9L553.4 219.0L555.3 218.4L557.1 217.7L558.9 217.0L560.8 216.3L562.6 215.4L564.4 214.7L566.3 213.8L568.1 213.1L570.0 212.2L571.8 211.4L573.7 210.5L575.5 209.8L577.4 209.0L579.3 208.1L581.1 207.0L583.0 206.0L584.8 205.2L586.7 204.4L588.5 203.5L590.3 202.3L592.1 201.2L594.0 200.2L595.8 199.3L597.6 198.4L599.4 197.3L601.2 196.2L602.9 195.1L604.7 194.2L606.5 193.2L608.3 192.1L610.0 190.9L611.8 190.0L613.6 189.1L615.3 188.3L617.0 187.4L618.8 186.3L620.5 185.2L622.2 184.0L624.0 182.9L625.7 181.7L627.4 180.6L629.1 179.5L630.9 178.4L632.6 177.3L634.3 176.2L636.0 175.0L637.7 173.8L639.4 172.6L641.0 171.5L642.7 170.3L644.4 169.0L646.0 167.7L647.7 166.5L649.3 165.4L650.9 164.3L652.5 163.1L654.2 161.7L655.8 160.2L657.4 158.8L659.0 157.5L660.6 156.2L662.1 155.0L663.7 153.7L665.3 152.3L666.8 150.8L668.4 149.4L669.9 148.0L671.4 146.6L672.9 145.2L674.4 143.6L675.9 142.1L677.4 140.6L678.9 139.2L680.3 137.8L681.7 136.3L683.1 134.7L684.5 133.0L685.8 131.4L687.2 129.8L688.5 128.3L689.8 126.6L691.1 124.9L692.4 123.2L693.6 121.6L694.9 120.1L696.1 118.5L697.3 116.7L698.6 114.9L699.8 113.2L701.0 111.5L702.2 109.9L703.4 108.3L704.6 106.7L705.7 105.0L706.8 103.2L708.0 101.4L709.1 99.5L710.2 97.8L711.2 96.0L712.3 94.3L713.3 92.6L714.3 90.8L715.3 89.0L716.3 87.2L717.3 85.5L718.3 83.7L719.3 82.0L720.3 80.2L721.2 78.4L721.3 78.3L706.7 69.8L706.7 69.9L705.7 71.7L704.7 73.4L703.7 75.1L702.7 76.6L701.7 78.4L700.7 80.1L699.7 82.0L698.8 83.7L697.8 85.3L696.8 87.0L695.8 88.7L694.8 90.5L693.8 92.2L692.7 93.8L691.7 95.3L690.6 96.9L689.5 98.4L688.4 100.0L687.3 101.4L686.2 103.0L685.1 104.6L683.9 106.3L682.7 108.0L681.5 109.6L680.3 111.2L679.1 112.7L677.9 114.2L676.7 115.7L675.5 117.2L674.3 118.5L673.0 119.9L671.8 121.4L670.5 122.9L669.2 124.5L667.9 125.9L666.6 127.3L665.3 128.6L664.0 129.9L662.6 131.2L661.2 132.5L659.9 133.9L658.5 135.3L657.0 136.7L655.6 137.9L654.2 139.2L652.7 140.5L651.2 141.8L649.8 142.9L648.3 143.9L646.8 145.2L645.3 146.5L643.7 147.8L642.2 148.9L640.7 150.1L639.1 151.4L637.5 152.7L636.0 153.8L634.4 154.9L632.8 156.0L631.3 157.4L629.7 158.6L628.1 159.9L626.5 160.8L624.9 161.8L623.2 162.7L621.6 163.7L620.0 164.8L618.3 165.9L616.7 166.8L615.0 167.7L613.4 168.8L611.7 170.1L610.0 171.4L608.3 172.5L606.6 173.5L604.9 174.3L603.3 175.1L601.6 176.0L599.9 176.9L598.2 177.8L596.5 178.8L594.8 179.8L593.1 180.7L591.3 181.6L589.6 182.4L587.9 183.4L586.2 184.3L584.4 185.2L582.7 186.2L580.9 187.1L579.2 188.0L577.4 188.8L575.7 189.6L573.9 190.5L572.2 191.3L570.4 192.0L568.6 192.8L566.8 193.8L565.0 194.6L563.2 195.3L561.4 195.9L559.6 196.7L557.7 197.6L555.9 198.6L554.1 199.5L552.2 200.3L550.4 201.1L548.6 201.8L546.7 202.5L544.9 203.3L543.0 204.2L541.2 205.1L539.3 205.9L537.5 206.6L535.7 207.5L533.8 208.2L532.0 209.0L530.2 209.5L528.4 210.3L526.6 211.0L524.8 211.9L523.0 212.5L521.2 213.4L519.4 214.3L517.6 215.3L515.8 216.1L514.0 216.8L512.2 217.4L510.4 218.1L508.6 218.8L506.7 219.5L504.9 220.1L503.1 220.7L501.3 221.5L499.5 222.3L497.7 223.1L496.0 223.6L494.2 224.0L492.4 224.6L490.6 225.1L488.7 225.6L486.8 225.9L484.9 226.4L483.0 226.9L481.0 227.1L479.1 227.3L477.1 227.3L475.2 227.7L473.2 228.3L471.3 229.3L469.3 230.0L467.4 230.5L465.4 230.8L463.4 231.1L461.5 231.4L459.5 231.6L457.5 231.8L455.6 232.3L453.6 233.1L451.6 233.8L449.7 234.4L447.7 234.8L445.8 235.2L443.8 235.8L441.9 236.4L440.0 237.0L438.0 237.5L436.1 237.9L434.2 238.2L432.2 238.5L430.3 239.0L428.4 239.7L426.5 240.5L424.5 240.9L422.6 241.4L420.7 241.8L418.7 242.4L416.8 242.8L414.8 243.3L412.9 243.8L410.9 244.4L409.0 245.0L407.1 245.6L405.1 246.1L403.2 246.6L401.3 247.0L399.3 247.4L397.4 247.9L395.4 248.5L393.5 249.1L391.6 249.5L389.6 250.0L387.7 250.6L385.8 251.1L383.8 251.5L381.9 251.9L380.0 252.6L378.0 253.3L376.1 253.9L374.1 254.2L372.2 254.3L370.3 254.6L368.3 255.2L366.4 255.8L364.5 256.5L362.5 257.1L360.6 257.6L358.6 257.9L356.7 258.3L354.8 258.8L352.8 259.2L350.9 259.5L349.0 259.7L347.1 260.1L345.3 260.5L343.4 261.1L341.5 261.5L339.7 261.9L337.8 262.2L336.0 262.4L334.1 262.6Z"/><rect x="326.6" y="262.5" width="16.8" height="17.7" rx="8.4"/><rect x="705.6" y="65.6" width="16.8" height="17.0" rx="8.4"/><circle cx="416.9" cy="253.9" r="8.4"/><circle cx="422.7" cy="250.1" r="8.4"/><circle cx="430.5" cy="247.8" r="8.4"/><circle cx="436.3" cy="249.5" r="8.4"/><circle cx="442.1" cy="244.9" r="8.4"/><circle cx="449.8" cy="242.4" r="8.4"/><circle cx="453.7" cy="245.3" r="8.4"/><circle cx="461.5" cy="239.4" r="8.4"/><circle cx="469.2" cy="238.2" r="8.4"/><circle cx="473.1" cy="240.7" r="8.4"/><circle cx="479.0" cy="239.2" r="8.4"/><circle cx="484.8" cy="237.8" r="8.4"/><circle cx="488.7" cy="237.0" r="8.4"/><circle cx="496.5" cy="234.8" r="8.4"/><circle cx="504.1" cy="232.2" r="8.4"/><circle cx="511.6" cy="229.4" r="8.4"/><circle cx="519.0" cy="226.0" r="8.4"/><circle cx="526.4" cy="220.4" r="8.4"/><circle cx="533.7" cy="216.9" r="8.4"/></g><g fill="#07915A"><path d="M362.6 276.8L364.5 276.2L366.5 275.7L368.4 275.2L370.3 274.8L372.2 274.4L374.2 273.9L376.1 273.4L378.0 272.9L380.0 272.4L381.9 271.8L383.8 271.2L385.8 270.6L387.7 270.1L389.6 269.5L391.5 269.2L393.5 268.8L395.4 268.3L397.3 267.6L399.3 266.8L401.2 266.3L403.1 266.0L405.0 265.7L407.0 265.3L408.9 264.9L410.8 264.6L412.8 264.1L414.7 263.5L416.6 262.8L418.5 262.3L420.5 261.9L422.4 261.5L424.3 260.9L426.3 260.3L428.2 259.8L430.1 259.4L432.1 259.0L434.0 258.7L436.0 258.4L437.9 258.0L439.9 257.3L441.8 256.7L443.8 256.0L445.7 255.6L447.6 255.1L449.6 254.7L451.5 254.1L453.5 253.5L455.4 252.8L457.3 252.3L459.3 252.0L461.2 251.7L463.1 251.2L465.1 250.4L467.0 249.7L468.9 249.1L470.8 248.7L472.8 248.5L474.7 248.3L476.6 248.1L478.6 247.5L480.5 247.0L482.4 246.3L484.3 245.7L486.2 245.1L488.1 244.7L490.1 244.3L492.0 244.1L494.0 243.7L496.0 243.2L498.0 242.2L500.0 241.3L502.0 240.4L504.0 239.8L506.0 239.3L507.9 238.8L509.9 238.1L511.8 237.1L513.7 236.1L515.7 235.2L517.6 234.4L519.4 233.7L521.3 232.8L523.2 231.9L525.1 231.1L526.9 230.4L528.8 229.7L530.6 228.6L532.5 227.6L534.3 226.7L536.1 226.0L538.0 225.4L539.8 224.6L541.6 223.6L543.4 222.5L545.2 221.5L547.0 220.8L548.8 220.2L550.6 219.4L552.4 218.1L554.2 217.0L556.0 216.0L557.9 215.4L559.7 214.7L561.5 213.9L563.4 213.0L565.2 212.3L567.0 211.5L568.9 210.8L570.7 210.0L572.6 209.2L574.4 208.4L576.3 207.5L578.1 206.5L580.0 205.4L581.8 204.3L583.7 203.4L585.5 202.8L587.3 202.1L589.1 201.2L591.0 200.0L592.8 198.9L594.6 197.9L596.4 196.9L598.2 195.9L599.9 194.8L601.7 193.8L603.5 192.8L605.3 191.7L607.0 190.5L608.8 189.2L610.5 188.1L612.3 187.3L614.0 186.6L615.8 185.8L617.5 184.7L619.2 183.6L621.0 182.4L622.7 181.3L624.4 180.3L626.2 179.2L627.9 178.1L629.6 176.9L631.3 175.7L633.0 174.5L634.7 173.3L636.4 172.1L638.1 171.0L639.8 169.7L641.5 168.4L643.2 167.2L644.8 165.9L646.5 164.7L648.1 163.5L649.7 162.3L651.4 161.1L653.0 159.7L654.6 158.5L656.2 157.4L657.8 156.2L659.4 154.8L661.0 153.3L662.6 151.9L664.1 150.5L665.7 149.3L667.3 148.1L668.8 146.7L670.3 145.2L671.8 143.6L673.3 142.2L674.8 140.6L676.3 139.1L677.8 137.5L679.2 136.0L680.7 134.6L682.1 133.2L683.5 131.8L684.8 130.2L686.2 128.7L687.5 127.0L688.8 125.3L690.1 123.6L691.4 121.9L692.7 120.3L694.0 118.6L695.2 117.0L696.4 115.4L697.7 113.8L698.9 112.2L700.1 110.4L701.4 108.6L702.6 106.9L703.7 105.1L704.9 103.5L706.0 101.8L707.1 100.2L708.3 98.4L709.3 96.7L710.4 95.0L711.5 93.2L712.6 91.4L713.6 89.7L714.7 88.0L715.7 86.3L716.7 84.6L717.8 82.9L718.8 81.1L719.9 79.4L720.9 77.7L721.9 76.1L723.0 74.4L724.0 72.7L725.1 71.0L726.1 69.4L727.1 67.9L728.2 66.5L729.3 65.0L730.4 63.4L731.6 61.8L732.8 60.2L734.1 58.6L735.3 56.9L736.6 55.1L737.8 53.3L739.0 51.5L740.1 49.6L741.2 47.7L742.3 45.6L743.3 43.4L744.3 41.0L745.1 38.9L745.8 37.0L746.5 35.2L747.1 33.5L747.2 33.1L731.6 26.8L731.4 27.2L730.7 29.3L730.0 31.2L729.3 33.0L728.7 34.6L728.1 36.1L727.3 37.6L726.5 39.2L725.6 40.7L724.7 42.3L723.7 43.8L722.7 45.4L721.6 46.9L720.5 48.4L719.4 50.0L718.2 51.6L717.0 53.2L715.7 54.8L714.5 56.5L713.3 58.3L712.1 60.1L711.0 62.0L709.9 63.6L708.8 65.3L707.7 67.0L706.6 68.7L705.6 70.4L704.5 72.2L703.5 74.1L702.4 75.9L701.4 77.6L700.3 79.2L699.3 80.9L698.2 82.6L697.2 84.3L696.2 85.9L695.1 87.6L694.1 89.2L693.0 90.9L692.0 92.5L690.9 94.2L689.8 95.8L688.7 97.5L687.6 99.1L686.5 100.5L685.4 102.0L684.2 103.5L683.0 105.1L681.9 106.5L680.7 108.1L679.5 109.7L678.3 111.4L677.0 112.8L675.8 114.2L674.6 115.6L673.3 117.2L672.1 118.6L670.8 120.1L669.6 121.6L668.3 123.0L667.0 124.3L665.7 125.6L664.4 126.9L663.0 128.3L661.6 129.6L660.2 131.1L658.8 132.4L657.4 133.7L656.0 135.0L654.6 136.4L653.1 137.8L651.6 139.1L650.2 140.4L648.7 141.6L647.2 142.7L645.7 143.9L644.1 145.2L642.6 146.5L641.1 147.8L639.5 149.0L638.0 150.2L636.4 151.2L634.8 152.3L633.3 153.3L631.7 154.4L630.1 155.5L628.5 156.5L626.9 157.6L625.3 158.9L623.7 160.1L622.1 161.2L620.4 162.3L618.8 163.4L617.1 164.3L615.5 165.3L613.8 166.3L612.1 167.3L610.5 168.3L608.8 169.3L607.1 170.3L605.4 171.3L603.7 172.3L602.0 173.2L600.3 174.2L598.6 175.2L596.9 176.4L595.2 177.5L593.5 178.4L591.8 179.2L590.1 180.1L588.3 181.1L586.6 182.0L584.9 182.8L583.1 183.6L581.4 184.3L579.7 185.2L577.9 186.0L576.2 186.9L574.4 187.7L572.7 188.5L570.9 189.4L569.1 190.4L567.4 191.6L565.6 192.5L563.8 193.3L562.0 193.9L560.2 194.6L558.4 195.3L556.6 196.1L554.7 196.9L552.9 197.6L551.1 198.1L549.2 198.8L547.4 199.4L545.6 200.3L543.7 201.3L541.9 202.3L540.0 203.3L538.2 204.2L536.4 204.9L534.5 205.8L532.7 206.6L530.9 207.5L529.1 208.2L527.3 208.9L525.5 209.6L523.7 210.3L521.9 211.2L520.1 212.0L518.3 212.9L516.5 213.6L514.7 214.4L512.9 215.1L511.1 216.0L509.3 216.9L507.5 217.5L505.7 218.1L503.9 218.5L502.1 219.2L500.3 219.6L498.5 220.3L496.7 220.8L494.9 221.6L493.1 222.3L491.2 223.1L489.4 223.6L487.5 224.0L485.6 224.6L483.7 225.2L481.7 225.9L479.8 226.4L477.8 226.9L475.9 227.3L474.0 227.6L472.1 228.0L470.1 228.7L468.2 229.5L466.3 230.1L464.4 230.7L462.5 231.2L460.5 231.9L458.6 232.6L456.7 233.1L454.8 233.6L452.9 234.0L450.9 234.5L449.0 235.2L447.1 235.8L445.2 236.5L443.2 236.9L441.3 237.3L439.4 237.7L437.5 238.3L435.6 238.9L433.6 239.3L431.7 239.8L429.8 240.4L427.9 241.0L425.9 241.7L424.0 242.3L422.1 242.8L420.1 243.2L418.2 243.5L416.3 244.0L414.3 244.6L412.4 245.3L410.4 245.9L408.5 246.5L406.5 247.0L404.6 247.4L402.7 248.0L400.7 248.5L398.8 249.0L396.8 249.4L394.9 249.9L393.0 250.6L391.0 251.1L389.1 251.7L387.2 252.0L385.2 252.5L383.3 252.9L381.4 253.5L379.4 254.1L377.5 254.7L375.6 255.3L373.6 255.9L371.7 256.4L369.8 256.9L367.8 257.6L365.9 258.2L364.0 258.9L362.1 259.4L360.1 259.8L358.2 260.3Z"/><rect x="352.0" y="259.9" width="16.8" height="17.3" rx="8.4"/><rect x="731.0" y="21.6" width="16.8" height="16.9" rx="8.4"/><circle cx="441.6" cy="248.3" r="8.4"/><circle cx="445.4" cy="244.7" r="8.4"/><circle cx="449.3" cy="243.6" r="8.4"/><circle cx="457.0" cy="241.0" r="8.4"/><circle cx="460.9" cy="243.6" r="8.4"/><circle cx="466.6" cy="242.0" r="8.4"/><circle cx="470.5" cy="236.9" r="8.4"/><circle cx="474.3" cy="239.7" r="8.4"/><circle cx="482.0" cy="233.5" r="8.4"/><circle cx="489.8" cy="231.6" r="8.4"/><circle cx="495.5" cy="229.9" r="8.4"/><circle cx="501.2" cy="228.4" r="8.4"/><circle cx="506.9" cy="229.4" r="8.4"/><circle cx="514.3" cy="222.9" r="8.4"/><circle cx="518.0" cy="225.2" r="8.4"/><circle cx="525.3" cy="218.7" r="8.4"/><circle cx="530.8" cy="219.6" r="8.4"/><circle cx="536.3" cy="213.3" r="8.4"/><circle cx="539.9" cy="212.3" r="8.4"/><circle cx="545.3" cy="212.9" r="8.4"/><circle cx="550.8" cy="210.3" r="8.4"/><circle cx="554.5" cy="205.8" r="8.4"/></g></g>
<text x="115.5" y="570.2" font-size="33" text-anchor="middle">-4</text><text x="223.9" y="570.2" font-size="33" text-anchor="middle">-2</text><text x="332.2" y="570.2" font-size="33" text-anchor="middle">0</text><text x="440.5" y="570.2" font-size="33" text-anchor="middle">2</text><text x="548.9" y="570.2" font-size="33" text-anchor="middle">4</text><text x="657.2" y="570.2" font-size="33" text-anchor="middle">6</text><text x="765.6" y="570.2" font-size="33" text-anchor="middle">8</text><text x="98.6" y="517.2" font-size="33" text-anchor="end">10</text><text x="98.6" y="437.1" font-size="33" text-anchor="end">11</text><text x="98.6" y="356.9" font-size="33" text-anchor="end">12</text><text x="98.6" y="276.7" font-size="33" text-anchor="end">13</text><text x="98.6" y="196.5" font-size="33" text-anchor="end">14</text><text x="98.6" y="116.4" font-size="33" text-anchor="end">15</text><text x="98.6" y="36.2" font-size="33" text-anchor="end">16</text><path d="M115.5 529.4v-7 M115.5 20.0v7 M223.9 529.4v-7 M223.9 20.0v7 M332.2 529.4v-7 M332.2 20.0v7 M440.5 529.4v-7 M440.5 20.0v7 M548.9 529.4v-7 M548.9 20.0v7 M657.2 529.4v-7 M657.2 20.0v7 M765.6 529.4v-7 M765.6 20.0v7 M109.0 505.0h7 M798.0 505.0h-7 M109.0 424.9h7 M798.0 424.9h-7 M109.0 344.7h7 M798.0 344.7h-7 M109.0 264.5h7 M798.0 264.5h-7 M109.0 184.3h7 M798.0 184.3h-7 M109.0 104.2h7 M798.0 104.2h-7 M109.0 24.0h7 M798.0 24.0h-7" stroke="#2b2b2b" stroke-width="1.3" fill="none"/><rect x="109.0" y="20.0" width="689.0" height="509.4" fill="none" stroke="#2b2b2b" stroke-width="1.5"/>
<rect x="125.4" y="35.4" width="149.6" height="259.8" fill="#fff" stroke="#2b2b2b" stroke-width="1.2"/><circle cx="163.7" cy="50.4" r="6.6" fill="none" stroke="#0072BD" stroke-width="2.2"/><text x="200.0" y="58.4" font-size="21.3" text-anchor="start" font-style="italic" fill="#000" stroke="#000" stroke-width="0.3">f=0.14</text><circle cx="163.7" cy="75.9" r="6.6" fill="none" stroke="#D95319" stroke-width="2.2"/><text x="200.0" y="83.9" font-size="21.3" text-anchor="start" font-style="italic" fill="#000" stroke="#000" stroke-width="0.3">f=0.144</text><circle cx="163.7" cy="101.3" r="6.6" fill="none" stroke="#EDB120" stroke-width="2.2"/><text x="200.0" y="109.3" font-size="21.3" text-anchor="start" font-style="italic" fill="#000" stroke="#000" stroke-width="0.3">f=0.148</text><circle cx="163.7" cy="126.8" r="6.6" fill="none" stroke="#7E2F8E" stroke-width="2.2"/><text x="200.0" y="134.8" font-size="21.3" text-anchor="start" font-style="italic" fill="#000" stroke="#000" stroke-width="0.3">f=0.152</text><circle cx="163.7" cy="152.2" r="6.6" fill="none" stroke="#77AC30" stroke-width="2.2"/><text x="200.0" y="160.2" font-size="21.3" text-anchor="start" font-style="italic" fill="#000" stroke="#000" stroke-width="0.3">f=0.154</text><circle cx="163.7" cy="177.7" r="6.6" fill="none" stroke="#4DBEEE" stroke-width="2.2"/><text x="200.0" y="185.7" font-size="21.3" text-anchor="start" font-style="italic" fill="#000" stroke="#000" stroke-width="0.3">f=0.156</text><circle cx="163.7" cy="203.2" r="6.6" fill="none" stroke="#CD2630" stroke-width="2.2"/><text x="200.0" y="211.2" font-size="21.3" text-anchor="start" font-style="italic" fill="#000" stroke="#000" stroke-width="0.3">f=0.168</text><circle cx="163.7" cy="228.6" r="6.6" fill="none" stroke="#887F98" stroke-width="2.2"/><text x="200.0" y="236.6" font-size="21.3" text-anchor="start" font-style="italic" fill="#000" stroke="#000" stroke-width="0.3">f=0.172</text><circle cx="163.7" cy="254.1" r="6.6" fill="none" stroke="#FF6B2C" stroke-width="2.2"/><text x="200.0" y="262.1" font-size="21.3" text-anchor="start" font-style="italic" fill="#000" stroke="#000" stroke-width="0.3">f=0.176</text><circle cx="163.7" cy="279.5" r="6.6" fill="none" stroke="#07915A" stroke-width="2.2"/><text x="200.0" y="287.5" font-size="21.3" text-anchor="start" font-style="italic" fill="#000" stroke="#000" stroke-width="0.3">f=0.18</text>
<text x="23.5" y="24.0" font-size="36.5" text-anchor="start" font-weight="bold" fill="#000">(a)</text>
<text y="614.4" font-size="34" font-style="italic" fill="#1a1a1a"><tspan x="368.8">log</tspan><tspan x="413.5" dy="17.5" font-size="26">2</tspan><tspan x="428" dy="-17.5">(t</tspan><tspan x="448.0" font-style="normal" stroke="#1a1a1a" stroke-width="0.7">|</tspan><tspan x="458.6">f-f</tspan><tspan x="490.5" dy="17.5" font-size="26">c</tspan><tspan x="501.1" dy="-17.5" font-style="normal" stroke="#1a1a1a" stroke-width="0.7">|</tspan><tspan x="526.5">)</tspan></text><text transform="translate(514.6 596.9) scale(1.38 1)" font-size="26" font-style="italic" fill="#1a1a1a">ν</text>
<g transform="translate(37.3 336.0) rotate(-90)"><text y="0" font-size="34" font-style="italic" fill="#1a1a1a"><tspan x="-0.6">log</tspan><tspan x="46" dy="17.8" font-size="26">2</tspan><tspan x="58" dy="-17.8">(</tspan><tspan x="72.8">v</tspan><tspan x="87.4">t</tspan><tspan x="97.6" dy="-16.8" font-size="30">δ</tspan><tspan x="110.7" dy="16.8">)</tspan></text></g>
<clipPath id="cb"><rect x="109.0" y="691.6" width="689.0" height="509.0"/></clipPath>
<g clip-path="url(#cb)"><g fill="#0072BD"><path d="M397.8 996.6L399.8 996.6L401.8 996.6L403.9 996.6L405.9 996.6L407.9 996.6L409.9 996.7L411.9 996.7L413.9 996.7L415.9 996.7L417.9 996.7L419.9 996.8L422.0 996.8L424.2 996.9L426.3 996.9L428.4 996.7L430.5 996.4L432.6 996.2L434.6 996.0L436.6 996.1L438.7 996.0L440.7 995.9L442.6 995.6L444.5 995.2L446.4 995.0L448.3 995.0L450.2 995.1L452.0 995.2L453.9 995.2L455.7 995.3L457.5 995.3L459.4 995.5L461.3 995.7L463.2 995.8L465.2 996.0L467.1 996.1L469.0 996.3L471.0 996.5L472.9 996.7L474.9 997.0L476.9 997.3L478.8 997.5L480.8 997.5L482.8 997.6L484.7 997.8L486.7 998.1L488.7 998.4L490.7 998.8L492.6 999.0L494.6 999.1L496.6 999.3L498.5 999.7L500.5 1000.2L502.4 1000.6L504.3 1000.8L506.3 1001.0L508.2 1001.3L510.1 1001.6L512.1 1002.1L514.0 1002.6L516.0 1003.1L517.9 1003.4L519.8 1003.8L521.8 1004.0L523.7 1004.4L525.7 1004.7L527.6 1005.1L529.6 1005.4L531.5 1005.8L533.4 1006.3L535.4 1006.9L537.3 1007.3L539.3 1007.7L541.2 1007.9L543.2 1008.3L545.1 1008.5L547.1 1008.9L549.0 1009.4L550.9 1010.0L552.9 1010.4L554.8 1010.8L556.7 1011.1L558.6 1011.4L560.6 1011.8L562.5 1012.3L564.4 1013.0L566.3 1013.6L568.2 1014.2L570.1 1014.6L572.0 1015.1L573.9 1015.6L575.7 1016.3L577.6 1017.0L579.5 1017.5L581.4 1018.0L583.2 1018.4L585.1 1018.8L586.9 1019.4L588.8 1020.0L590.6 1020.9L592.4 1021.5L594.3 1022.0L596.1 1022.6L597.9 1023.3L599.7 1024.3L601.5 1025.3L603.3 1026.1L605.1 1027.0L606.9 1027.6L608.6 1028.4L610.4 1029.1L612.2 1029.7L614.0 1030.3L615.7 1031.0L617.5 1031.7L619.2 1032.6L620.9 1033.9L622.6 1035.1L624.3 1036.1L626.0 1036.8L627.7 1037.7L629.3 1038.9L631.0 1040.1L632.6 1041.3L634.3 1042.2L635.9 1043.4L637.5 1044.4L639.1 1045.4L640.8 1046.0L642.4 1047.2L644.0 1048.4L645.5 1050.0L647.0 1051.0L648.5 1051.9L650.0 1052.9L651.4 1054.2L652.9 1055.6L654.4 1056.8L655.9 1058.2L657.4 1059.7L658.9 1061.2L660.4 1062.3L662.0 1063.1L663.5 1064.1L665.1 1065.4L666.7 1067.0L668.3 1068.3L670.0 1069.8L671.7 1070.9L673.4 1072.5L675.0 1073.7L676.7 1075.2L678.4 1076.3L680.0 1077.2L681.7 1077.9L683.3 1079.1L684.9 1080.7L686.4 1082.7L688.0 1084.1L689.5 1085.2L691.0 1085.8L692.4 1086.9L693.9 1088.3L695.3 1089.8L696.7 1091.0L698.1 1092.2L699.5 1093.8L700.9 1095.7L702.3 1097.1L703.7 1098.2L705.1 1099.2L706.5 1100.5L707.8 1101.8L709.2 1102.8L710.6 1104.2L711.9 1105.5L713.3 1107.2L714.6 1108.4L716.0 1109.9L717.3 1111.5L718.6 1113.4L719.9 1115.2L721.2 1116.8L722.4 1118.3L723.7 1119.8L724.9 1121.4L726.2 1123.0L727.4 1124.6L728.7 1126.1L730.0 1127.1L731.3 1128.2L732.6 1129.3L733.9 1131.1L735.2 1133.4L736.6 1135.6L738.0 1137.7L739.4 1138.9L740.9 1140.5L742.3 1141.7L743.7 1143.4L745.2 1144.4L746.7 1145.7L748.1 1146.8L749.5 1148.2L751.0 1149.9L752.4 1151.9L753.8 1154.2L755.1 1155.6L756.5 1156.9L757.8 1157.8L759.1 1159.4L760.4 1160.8L761.6 1162.2L762.8 1163.6L764.1 1165.6L765.3 1167.4L766.4 1168.9L767.6 1169.7L768.8 1170.6L769.9 1171.9L771.1 1173.9L772.2 1176.2L773.3 1178.0L774.4 1179.4L775.5 1180.0L776.6 1180.7L777.6 1182.1L778.7 1183.9L779.7 1185.5L780.8 1186.9L781.8 1188.3L782.7 1189.7L783.7 1190.8L784.6 1191.9L784.6 1191.7L799.4 1180.5L799.4 1180.2L798.3 1177.7L797.3 1175.5L796.2 1173.7L795.1 1172.0L794.0 1169.5L792.8 1166.9L791.7 1164.3L790.6 1162.4L789.4 1160.7L788.3 1159.3L787.1 1158.2L785.9 1156.4L784.7 1154.3L783.5 1152.1L782.2 1150.1L781.0 1148.6L779.7 1147.0L778.4 1145.8L777.0 1144.2L775.7 1142.3L774.3 1140.5L772.9 1138.8L771.4 1137.4L770.0 1136.1L768.5 1134.8L767.1 1133.5L765.6 1131.7L764.2 1130.3L762.7 1128.5L761.3 1127.4L759.8 1126.0L758.4 1125.4L757.0 1124.4L755.7 1123.2L754.3 1121.1L753.0 1119.4L751.7 1118.1L750.4 1117.4L749.2 1116.5L748.0 1115.3L746.7 1113.7L745.5 1111.9L744.2 1110.0L743.0 1108.5L741.7 1107.1L740.5 1106.1L739.2 1104.3L737.9 1102.5L736.6 1100.3L735.2 1098.7L733.9 1097.2L732.5 1096.0L731.0 1094.6L729.7 1093.1L728.3 1091.9L726.9 1090.6L725.5 1089.6L724.1 1088.1L722.7 1086.4L721.3 1084.4L719.9 1082.6L718.4 1081.0L717.0 1079.9L715.5 1078.8L714.0 1077.9L712.5 1076.7L711.0 1075.2L709.5 1073.8L707.9 1072.5L706.3 1071.3L704.7 1070.2L703.1 1068.8L701.4 1067.3L699.7 1065.7L698.0 1064.2L696.3 1063.2L694.6 1062.3L693.0 1061.4L691.3 1060.2L689.7 1058.8L688.0 1057.5L686.4 1056.4L684.8 1055.6L683.3 1054.7L681.8 1053.6L680.3 1052.1L678.8 1050.8L677.3 1049.6L675.9 1048.7L674.4 1047.6L672.9 1046.6L671.4 1045.3L669.9 1043.7L668.4 1041.9L666.8 1040.4L665.3 1039.4L663.7 1038.3L662.1 1037.2L660.4 1035.7L658.7 1034.6L657.0 1033.3L655.2 1032.1L653.5 1031.0L651.8 1029.8L650.1 1028.8L648.3 1027.8L646.6 1026.8L644.9 1025.8L643.1 1024.4L641.3 1023.4L639.5 1022.4L637.7 1021.8L635.9 1020.8L634.0 1019.9L632.2 1018.7L630.3 1017.6L628.5 1016.3L626.6 1015.3L624.7 1014.2L622.8 1013.3L621.0 1012.3L619.1 1011.6L617.2 1011.1L615.3 1010.6L613.4 1010.0L611.5 1009.0L609.6 1008.1L607.7 1007.2L605.7 1006.6L603.8 1006.0L601.9 1005.4L599.9 1004.8L598.0 1004.0L596.0 1003.4L594.0 1002.7L592.1 1002.1L590.1 1001.4L588.1 1000.9L586.2 1000.4L584.2 999.8L582.2 999.1L580.3 998.4L578.3 997.9L576.3 997.6L574.3 997.2L572.3 996.7L570.4 996.2L568.4 995.6L566.4 995.1L564.4 994.7L562.5 994.3L560.5 993.7L558.5 993.3L556.5 992.8L554.5 992.4L552.6 992.0L550.6 991.7L548.6 991.5L546.7 991.2L544.7 990.6L542.7 989.9L540.7 989.3L538.8 988.9L536.8 988.5L534.8 988.2L532.9 987.9L530.9 987.6L528.9 987.2L526.9 986.8L524.9 986.5L522.9 986.1L520.9 985.8L518.9 985.5L516.9 985.2L514.9 984.9L512.9 984.5L510.9 984.1L508.9 983.9L506.9 983.7L504.9 983.5L502.9 983.1L500.8 982.6L498.8 982.2L496.8 981.9L494.8 981.6L492.8 981.3L490.8 981.0L488.8 980.8L486.8 980.5L484.9 980.3L482.9 979.9L480.9 979.6L478.9 979.4L476.8 979.2L474.8 979.1L472.8 979.0L470.8 979.0L468.7 978.9L466.7 978.8L464.6 978.6L462.6 978.3L460.5 978.0L458.3 977.8L456.2 977.7L454.0 977.8L451.9 977.8L449.7 977.9L447.6 977.9L445.5 977.9L443.4 978.1L441.3 978.4L439.3 978.7L437.3 978.8L435.3 978.8L433.4 978.8L431.4 978.9L429.5 979.0L427.6 979.1L425.7 979.1L423.8 979.2L422.0 979.2L420.1 979.2L418.1 979.3L416.1 979.4L414.1 979.5L412.1 979.5L410.1 979.4L408.1 979.4L406.1 979.5L404.1 979.5L402.1 979.5L400.2 979.4L398.2 979.2Z"/><rect x="389.6" y="979.0" width="16.8" height="17.4" rx="8.4"/><rect x="783.6" y="1175.8" width="16.8" height="21.0" rx="8.4"/><circle cx="604.6" cy="1015.0" r="8.4"/><circle cx="610.1" cy="1020.2" r="8.4"/><circle cx="615.6" cy="1019.8" r="8.4"/><circle cx="619.3" cy="1021.2" r="8.4"/><circle cx="626.5" cy="1027.6" r="8.4"/><circle cx="630.0" cy="1026.6" r="8.4"/><circle cx="635.2" cy="1033.0" r="8.4"/><circle cx="640.4" cy="1032.7" r="8.4"/><circle cx="643.7" cy="1038.2" r="8.4"/><circle cx="647.1" cy="1036.5" r="8.4"/><circle cx="650.4" cy="1042.5" r="8.4"/><circle cx="655.2" cy="1041.9" r="8.4"/><circle cx="659.8" cy="1046.0" r="8.4"/><circle cx="662.9" cy="1052.8" r="8.4"/><circle cx="669.0" cy="1058.7" r="8.4"/><circle cx="673.6" cy="1062.8" r="8.4"/><circle cx="676.7" cy="1059.5" r="8.4"/><circle cx="683.2" cy="1069.2" r="8.4"/><circle cx="688.1" cy="1068.0" r="8.4"/><circle cx="693.0" cy="1070.9" r="8.4"/><circle cx="699.3" cy="1081.5" r="8.4"/><circle cx="702.3" cy="1077.1" r="8.4"/><circle cx="708.2" cy="1090.7" r="8.4"/><circle cx="711.0" cy="1086.8" r="8.4"/><circle cx="715.3" cy="1091.2" r="8.4"/><circle cx="718.0" cy="1093.4" r="8.4"/><circle cx="722.1" cy="1106.4" r="8.4"/><circle cx="724.8" cy="1108.8" r="8.4"/><circle cx="730.1" cy="1115.7" r="8.4"/><circle cx="735.2" cy="1112.8" r="8.4"/><circle cx="740.3" cy="1117.6" r="8.4"/><circle cx="744.2" cy="1130.9" r="8.4"/><circle cx="748.3" cy="1127.5" r="8.4"/><circle cx="754.0" cy="1132.7" r="8.4"/><circle cx="759.7" cy="1149.2" r="8.4"/><circle cx="765.3" cy="1153.3" r="8.4"/><circle cx="769.3" cy="1147.1" r="8.4"/><circle cx="771.8" cy="1149.0" r="8.4"/><circle cx="776.7" cy="1169.9" r="8.4"/><circle cx="780.2" cy="1174.4" r="8.4"/><circle cx="783.6" cy="1167.9" r="8.4"/><circle cx="787.9" cy="1175.3" r="8.4"/></g><g fill="#D95319"><path d="M363.9 993.9L365.9 993.5L367.9 993.2L369.8 993.0L371.8 992.9L373.7 992.7L375.7 992.6L377.7 992.5L379.6 992.4L381.6 992.2L383.5 991.9L385.5 991.7L387.4 991.6L389.4 991.6L391.3 991.5L393.3 991.4L395.3 991.2L397.2 991.1L399.2 991.0L401.1 990.9L403.1 990.8L405.1 990.6L407.0 990.5L409.0 990.5L411.0 990.6L413.0 990.7L414.9 990.7L416.9 990.6L418.9 990.6L420.9 990.6L422.9 990.7L424.8 990.8L426.8 990.9L428.8 991.1L430.8 991.2L432.8 991.1L434.8 991.0L436.8 990.9L438.8 990.9L440.8 990.8L442.7 990.8L444.6 990.8L446.6 990.9L448.5 991.1L450.4 991.3L452.4 991.4L454.3 991.6L456.2 991.7L458.2 991.9L460.1 992.0L462.1 992.1L464.0 992.3L466.0 992.5L467.9 992.7L469.9 992.9L471.8 993.2L473.8 993.4L475.8 993.7L477.7 993.9L479.7 994.2L481.7 994.5L483.6 994.7L485.6 994.8L487.6 994.9L489.6 995.0L491.5 995.3L493.4 995.9L495.4 996.3L497.3 996.6L499.3 996.7L501.2 997.0L503.2 997.5L505.1 998.1L507.0 998.4L509.0 998.7L510.9 998.9L512.9 999.2L514.8 999.4L516.7 999.8L518.7 1000.2L520.6 1000.7L522.6 1001.2L524.5 1001.6L526.4 1001.9L528.4 1002.3L530.3 1002.7L532.2 1003.0L534.2 1003.4L536.1 1003.8L538.1 1004.3L540.0 1004.8L541.9 1005.3L543.9 1005.8L545.8 1006.3L547.7 1007.0L549.6 1007.5L551.6 1008.0L553.5 1008.3L555.4 1008.6L557.3 1008.9L559.2 1009.3L561.1 1009.9L563.0 1010.5L564.9 1011.0L566.8 1011.5L568.7 1012.0L570.6 1012.7L572.4 1013.4L574.3 1014.1L576.2 1014.5L578.1 1014.8L579.9 1015.4L581.8 1016.2L583.6 1017.1L585.5 1017.7L587.3 1018.3L589.1 1018.9L591.0 1019.7L592.8 1020.4L594.6 1021.3L596.4 1021.8L598.2 1022.4L600.0 1022.9L601.8 1023.9L603.6 1024.8L605.3 1025.9L607.1 1026.6L608.9 1026.9L610.6 1027.3L612.4 1028.0L614.2 1029.1L615.9 1030.3L617.6 1031.4L619.4 1032.6L621.1 1033.8L622.8 1034.9L624.4 1035.7L626.1 1036.4L627.8 1037.2L629.4 1038.1L631.0 1039.4L632.7 1040.8L634.3 1042.2L635.9 1043.0L637.5 1043.8L639.1 1044.6L640.7 1045.8L642.3 1047.2L643.9 1048.5L645.4 1049.5L646.9 1050.2L648.4 1051.1L649.9 1052.4L651.3 1053.5L652.8 1054.7L654.3 1055.8L655.7 1057.4L657.2 1058.8L658.7 1060.4L660.2 1062.0L661.7 1063.8L663.3 1065.4L664.8 1066.7L666.4 1067.7L668.0 1068.7L669.7 1069.8L671.3 1071.2L673.0 1072.7L674.7 1074.1L676.3 1075.6L678.0 1077.0L679.6 1078.3L681.3 1079.3L682.9 1080.5L684.5 1081.7L686.1 1082.7L687.6 1083.6L689.1 1084.6L690.6 1086.1L692.1 1087.2L693.5 1088.9L695.0 1090.1L696.4 1092.1L697.8 1093.5L699.2 1095.5L700.6 1097.1L702.0 1098.7L703.4 1099.8L704.8 1101.1L706.2 1102.3L707.5 1103.9L708.9 1104.6L710.3 1105.6L711.6 1106.5L713.0 1108.3L714.3 1110.0L715.7 1111.4L717.0 1112.9L718.3 1114.4L719.6 1116.2L720.9 1117.9L722.2 1119.1L723.4 1120.1L724.6 1121.0L725.9 1122.7L727.1 1124.2L728.4 1126.1L729.6 1128.4L730.8 1131.0L732.1 1133.5L733.4 1135.0L734.6 1136.5L735.9 1137.6L737.3 1139.4L738.6 1141.2L739.9 1143.0L741.3 1144.1L742.6 1145.2L744.0 1146.2L745.3 1146.7L746.7 1146.9L748.0 1147.9L749.3 1149.2L750.6 1150.9L750.7 1151.1L763.3 1133.2L763.2 1132.9L761.9 1130.7L760.5 1129.0L759.2 1127.4L757.8 1125.9L756.5 1124.3L755.2 1122.7L753.9 1121.4L752.6 1120.2L751.4 1118.7L750.1 1116.7L748.9 1114.4L747.7 1112.6L746.5 1110.8L745.2 1109.1L744.0 1107.4L742.7 1106.3L741.5 1105.7L740.2 1104.7L738.9 1103.7L737.6 1102.1L736.3 1099.9L734.9 1097.8L733.5 1096.2L732.1 1095.5L730.7 1094.4L729.3 1092.0L728.0 1089.2L726.6 1086.7L725.2 1085.5L723.8 1084.5L722.4 1083.3L721.0 1082.2L719.5 1080.7L718.1 1079.4L716.6 1078.1L715.2 1077.3L713.7 1076.5L712.2 1075.4L710.7 1074.1L709.1 1072.6L707.6 1071.2L706.0 1069.5L704.4 1067.9L702.7 1066.6L701.0 1065.4L699.3 1064.5L697.7 1063.5L696.0 1062.7L694.3 1061.5L692.7 1060.4L691.0 1058.9L689.4 1057.7L687.8 1056.3L686.2 1055.3L684.6 1054.2L683.1 1053.4L681.6 1052.1L680.1 1050.9L678.7 1049.3L677.2 1048.0L675.7 1046.8L674.3 1045.5L672.8 1044.4L671.3 1043.1L669.8 1041.8L668.3 1040.2L666.8 1038.6L665.3 1037.3L663.7 1036.5L662.1 1035.7L660.5 1034.5L658.8 1033.0L657.1 1031.8L655.4 1030.6L653.6 1029.5L652.0 1028.3L650.3 1027.5L648.5 1026.6L646.8 1025.6L645.1 1024.3L643.4 1022.9L641.6 1021.6L639.8 1020.7L638.0 1019.6L636.2 1018.9L634.4 1017.9L632.6 1016.9L630.7 1015.9L628.9 1015.4L627.0 1015.0L625.1 1014.1L623.3 1012.8L621.4 1011.4L619.6 1010.3L617.7 1009.2L615.8 1008.3L614.0 1007.2L612.1 1006.4L610.2 1005.7L608.3 1005.4L606.3 1004.9L604.4 1004.2L602.5 1003.5L600.6 1002.7L598.6 1002.1L596.7 1001.5L594.7 1000.9L592.8 1000.0L590.8 999.1L588.9 998.3L586.9 997.7L585.0 997.3L583.0 996.8L581.1 996.2L579.1 995.6L577.1 994.8L575.2 994.3L573.2 993.8L571.2 993.4L569.3 992.8L567.3 992.3L565.3 991.9L563.4 991.5L561.4 991.0L559.4 990.4L557.4 989.7L555.5 989.1L553.5 988.5L551.5 988.1L549.5 987.8L547.6 987.7L545.6 987.6L543.6 987.4L541.6 987.0L539.7 986.4L537.7 985.8L535.7 985.3L533.7 984.9L531.8 984.4L529.8 984.1L527.8 983.9L525.8 983.6L523.8 983.3L521.8 982.8L519.9 982.3L517.9 981.9L515.9 981.7L513.9 981.4L511.9 980.9L509.9 980.4L507.9 980.0L505.9 979.7L503.8 979.3L501.8 979.0L499.8 978.6L497.8 978.4L495.8 978.3L493.8 978.2L491.7 978.0L489.7 977.6L487.8 977.3L485.8 976.9L483.8 976.7L481.8 976.5L479.8 976.2L477.8 976.0L475.8 975.9L473.7 975.8L471.7 975.6L469.7 975.2L467.7 975.0L465.6 974.7L463.6 974.6L461.6 974.4L459.5 974.2L457.5 974.0L455.4 974.0L453.4 973.9L451.3 973.8L449.3 973.7L447.2 973.6L445.1 973.4L443.0 973.2L441.0 973.2L438.9 973.3L436.9 973.4L434.9 973.4L432.9 973.3L430.9 973.4L428.9 973.4L426.9 973.4L424.9 973.3L422.9 973.2L420.9 973.1L418.9 973.2L416.8 973.2L414.8 973.3L412.8 973.4L410.8 973.4L408.7 973.3L406.7 973.2L404.7 973.2L402.7 973.4L400.6 973.7L398.6 973.9L396.5 974.1L394.5 974.1L392.5 974.2L390.4 974.3L388.4 974.4L386.4 974.4L384.3 974.5L382.3 974.7L380.3 974.9L378.2 975.1L376.2 975.2L374.2 975.4L372.2 975.5L370.1 975.9L368.1 976.1L366.1 976.3L364.1 976.4L362.1 976.5Z"/><rect x="354.6" y="976.4" width="16.8" height="17.4" rx="8.4"/><rect x="748.6" y="1129.3" width="16.8" height="25.8" rx="8.4"/><circle cx="565.1" cy="1000.3" r="8.4"/><circle cx="570.9" cy="1001.7" r="8.4"/><circle cx="576.7" cy="1006.6" r="8.4"/><circle cx="582.4" cy="1004.9" r="8.4"/><circle cx="590.1" cy="1007.2" r="8.4"/><circle cx="597.6" cy="1010.3" r="8.4"/><circle cx="605.0" cy="1016.5" r="8.4"/><circle cx="610.5" cy="1015.3" r="8.4"/><circle cx="614.2" cy="1016.3" r="8.4"/><circle cx="621.4" cy="1024.9" r="8.4"/><circle cx="628.5" cy="1029.2" r="8.4"/><circle cx="633.7" cy="1026.2" r="8.4"/><circle cx="640.5" cy="1035.9" r="8.4"/><circle cx="643.8" cy="1032.1" r="8.4"/><circle cx="648.8" cy="1035.9" r="8.4"/><circle cx="655.2" cy="1047.1" r="8.4"/><circle cx="659.8" cy="1043.8" r="8.4"/><circle cx="662.8" cy="1046.7" r="8.4"/><circle cx="668.8" cy="1052.3" r="8.4"/><circle cx="673.3" cy="1064.0" r="8.4"/><circle cx="678.1" cy="1067.6" r="8.4"/><circle cx="682.9" cy="1061.4" r="8.4"/><circle cx="687.8" cy="1074.5" r="8.4"/><circle cx="694.2" cy="1070.0" r="8.4"/><circle cx="700.5" cy="1075.6" r="8.4"/><circle cx="706.4" cy="1079.7" r="8.4"/><circle cx="710.7" cy="1085.4" r="8.4"/><circle cx="714.9" cy="1098.3" r="8.4"/><circle cx="720.5" cy="1092.4" r="8.4"/><circle cx="725.9" cy="1111.1" r="8.4"/><circle cx="729.8" cy="1104.6" r="8.4"/><circle cx="734.9" cy="1108.9" r="8.4"/><circle cx="737.4" cy="1124.3" r="8.4"/><circle cx="741.2" cy="1118.2" r="8.4"/><circle cx="746.3" cy="1136.6" r="8.4"/><circle cx="750.3" cy="1141.1" r="8.4"/><circle cx="752.9" cy="1131.8" r="8.4"/></g><g fill="#EDB120"><path d="M315.2 991.6L317.2 991.6L319.2 991.6L321.1 991.7L323.1 991.7L325.1 991.6L327.1 991.3L329.1 991.0L331.1 990.6L333.1 990.3L335.0 990.2L337.0 990.1L339.0 990.2L341.0 990.2L343.0 990.1L345.0 989.9L346.9 989.8L348.9 989.5L350.9 989.4L352.9 989.3L354.9 989.3L356.8 989.1L358.8 989.1L360.8 989.1L362.8 989.1L364.7 988.9L366.7 988.7L368.7 988.6L370.7 988.6L372.6 988.6L374.6 988.5L376.6 988.4L378.6 988.4L380.6 988.3L382.5 988.3L384.5 988.4L386.5 988.5L388.5 988.5L390.5 988.4L392.4 988.3L394.4 988.1L396.4 988.1L398.4 988.1L400.4 988.2L402.4 988.1L404.4 988.0L406.4 988.0L408.4 987.9L410.4 987.8L412.4 987.7L414.4 987.5L416.4 987.6L418.4 987.6L420.4 987.8L422.4 987.8L424.4 987.8L426.4 987.7L428.4 987.7L430.4 987.8L432.4 987.9L434.4 988.0L436.4 988.1L438.4 988.1L440.3 988.0L442.3 987.8L444.2 987.8L446.1 988.0L448.1 988.1L450.0 988.2L451.9 988.3L453.9 988.3L455.8 988.4L457.8 988.6L459.7 988.7L461.7 988.8L463.6 988.9L465.6 989.1L467.5 989.4L469.5 989.6L471.5 989.8L473.4 990.1L475.4 990.3L477.4 990.7L479.3 991.1L481.3 991.4L483.3 991.5L485.3 991.6L487.3 991.7L489.3 991.7L491.2 991.9L493.2 992.3L495.2 992.7L497.1 993.0L499.1 993.3L501.0 993.5L503.0 993.9L505.0 994.3L506.9 994.8L508.9 995.1L510.8 995.5L512.7 995.8L514.7 996.1L516.6 996.3L518.5 996.6L520.5 996.8L522.4 997.1L524.3 997.4L526.2 997.7L528.2 998.1L530.1 998.5L532.0 998.8L533.9 999.2L535.8 999.7L537.7 1000.4L539.6 1001.0L541.4 1001.5L543.3 1001.9L545.2 1002.3L547.1 1002.8L548.9 1003.5L550.8 1004.3L552.7 1004.9L554.5 1005.2L556.4 1005.4L558.3 1005.8L560.1 1006.3L562.0 1006.9L563.9 1007.8L565.7 1008.7L567.6 1009.5L569.4 1010.2L571.3 1010.7L573.1 1011.4L575.0 1012.1L576.9 1012.9L578.7 1013.5L580.6 1014.0L582.4 1014.6L584.3 1015.3L586.1 1015.9L588.0 1016.6L589.8 1017.4L591.6 1018.3L593.4 1019.0L595.2 1019.8L597.0 1020.4L598.8 1021.0L600.6 1021.9L602.4 1023.2L604.2 1024.6L605.9 1025.5L607.7 1026.1L609.5 1026.7L611.2 1027.5L613.0 1028.4L614.7 1029.2L616.5 1029.8L618.2 1030.4L619.9 1031.5L621.6 1032.8L623.2 1033.9L624.9 1034.8L626.6 1035.7L628.2 1037.1L629.8 1038.3L631.4 1039.9L633.0 1040.9L634.6 1042.0L636.2 1042.4L637.8 1043.2L639.4 1044.4L641.0 1046.5L642.6 1048.0L644.1 1049.5L645.6 1050.3L647.1 1051.5L648.5 1052.5L650.0 1053.7L651.5 1054.9L652.9 1056.0L654.4 1057.2L655.8 1058.5L657.3 1059.7L658.8 1060.9L660.3 1061.9L661.8 1063.4L663.3 1065.1L664.9 1067.5L666.4 1069.3L668.0 1070.7L669.7 1071.3L671.3 1072.2L673.0 1073.3L674.6 1075.1L676.3 1076.4L677.9 1077.5L679.6 1078.1L681.1 1079.7L682.7 1081.2L684.2 1082.5L685.7 1083.0L687.2 1083.7L688.7 1084.9L690.1 1086.5L691.5 1088.4L692.8 1089.9L694.2 1091.3L695.5 1092.2L696.8 1093.6L698.2 1095.0L699.5 1096.4L700.8 1097.4L702.0 1098.4L702.2 1098.2L714.8 1081.1L714.6 1081.0L713.2 1078.9L711.8 1076.6L710.4 1074.7L708.9 1073.3L707.4 1072.1L705.9 1070.9L704.3 1068.9L702.7 1067.0L701.1 1065.0L699.4 1063.7L697.8 1062.3L696.1 1061.2L694.4 1059.7L692.8 1058.3L691.1 1057.3L689.5 1056.6L687.8 1056.2L686.3 1054.8L684.7 1053.3L683.2 1051.6L681.7 1050.2L680.2 1049.2L678.8 1048.4L677.3 1047.8L675.9 1046.9L674.4 1046.0L673.0 1044.7L671.5 1043.1L670.1 1041.3L668.6 1039.8L667.1 1038.7L665.5 1037.6L664.0 1036.5L662.4 1035.0L660.8 1033.5L659.2 1031.5L657.5 1029.7L655.8 1028.4L654.1 1027.6L652.4 1027.1L650.8 1026.4L649.1 1025.6L647.4 1024.6L645.7 1023.8L644.0 1022.7L642.2 1021.5L640.5 1019.8L638.7 1018.2L636.9 1016.8L635.1 1015.7L633.3 1014.6L631.4 1013.6L629.6 1012.7L627.8 1012.0L625.9 1011.6L624.1 1010.9L622.2 1010.1L620.4 1009.0L618.5 1008.0L616.7 1006.8L614.8 1005.7L612.9 1004.6L611.0 1003.8L609.2 1002.9L607.3 1002.6L605.4 1002.1L603.5 1001.7L601.6 1000.5L599.7 999.5L597.8 998.8L595.9 998.4L594.0 997.9L592.1 996.9L590.2 995.9L588.3 994.9L586.4 994.2L584.5 993.6L582.6 993.4L580.7 993.0L578.8 992.6L576.9 991.8L574.9 990.9L573.0 990.1L571.1 989.4L569.1 988.8L567.2 988.0L565.3 987.4L563.3 986.8L561.3 986.4L559.4 985.9L557.4 985.3L555.4 984.7L553.5 984.3L551.5 983.9L549.5 983.6L547.5 983.2L545.5 982.9L543.5 982.5L541.4 981.9L539.4 981.3L537.4 980.8L535.4 980.3L533.4 979.8L531.4 979.4L529.4 979.1L527.4 978.9L525.3 978.7L523.3 978.5L521.3 978.2L519.3 977.7L517.3 977.2L515.3 976.6L513.2 976.3L511.2 976.0L509.2 975.9L507.2 975.8L505.2 975.5L503.2 975.1L501.2 974.9L499.2 974.8L497.2 974.6L495.1 974.4L493.1 974.0L491.1 973.9L489.1 973.8L487.2 973.8L485.2 973.8L483.2 973.5L481.2 973.2L479.2 972.8L477.2 972.4L475.2 972.2L473.2 972.0L471.1 972.0L469.1 972.0L467.1 971.9L465.1 971.7L463.0 971.4L461.0 971.0L459.0 970.8L456.9 970.8L454.9 970.8L452.8 970.7L450.8 970.6L448.7 970.4L446.6 970.4L444.6 970.4L442.5 970.4L440.4 970.3L438.4 970.1L436.4 969.9L434.4 969.9L432.4 969.9L430.3 970.1L428.3 970.2L426.3 970.3L424.3 970.4L422.3 970.4L420.3 970.6L418.3 970.6L416.3 970.6L414.3 970.6L412.3 970.5L410.3 970.5L408.3 970.5L406.3 970.5L404.3 970.7L402.3 970.8L400.3 970.9L398.3 970.8L396.3 970.7L394.3 970.6L392.3 970.5L390.3 970.5L388.3 970.7L386.3 970.8L384.2 970.9L382.2 970.8L380.2 970.9L378.2 970.8L376.2 971.0L374.1 971.1L372.1 971.3L370.1 971.3L368.1 971.4L366.0 971.4L364.0 971.5L362.0 971.5L360.0 971.4L358.0 971.3L355.9 971.3L353.9 971.4L351.9 971.5L349.9 971.7L347.9 972.0L345.9 972.3L343.9 972.6L341.9 972.6L339.9 972.8L337.8 972.9L335.8 973.1L333.8 973.3L331.8 973.4L329.8 973.6L327.8 973.7L325.8 973.8L323.8 973.9L321.8 974.1L319.8 974.3L317.8 974.6L315.8 974.7L313.8 974.9Z"/><rect x="306.1" y="974.7" width="16.8" height="17.4" rx="8.4"/><rect x="700.1" y="1077.3" width="16.8" height="24.0" rx="8.4"/><circle cx="529.8" cy="989.9" r="8.4"/><circle cx="533.7" cy="991.1" r="8.4"/><circle cx="541.5" cy="992.6" r="8.4"/><circle cx="549.3" cy="995.1" r="8.4"/><circle cx="555.0" cy="993.6" r="8.4"/><circle cx="558.9" cy="997.7" r="8.4"/><circle cx="566.5" cy="997.0" r="8.4"/><circle cx="570.3" cy="1001.9" r="8.4"/><circle cx="577.8" cy="1005.1" r="8.4"/><circle cx="581.6" cy="1006.4" r="8.4"/><circle cx="585.4" cy="1003.3" r="8.4"/><circle cx="591.0" cy="1009.7" r="8.4"/><circle cx="594.7" cy="1011.5" r="8.4"/><circle cx="600.3" cy="1014.2" r="8.4"/><circle cx="603.9" cy="1009.7" r="8.4"/><circle cx="607.6" cy="1011.0" r="8.4"/><circle cx="614.9" cy="1014.7" r="8.4"/><circle cx="622.0" cy="1024.1" r="8.4"/><circle cx="627.3" cy="1026.6" r="8.4"/><circle cx="632.5" cy="1023.0" r="8.4"/><circle cx="635.9" cy="1024.8" r="8.4"/><circle cx="641.0" cy="1036.5" r="8.4"/><circle cx="644.2" cy="1037.7" r="8.4"/><circle cx="649.1" cy="1035.4" r="8.4"/><circle cx="655.4" cy="1047.7" r="8.4"/><circle cx="660.0" cy="1042.1" r="8.4"/><circle cx="662.9" cy="1045.2" r="8.4"/><circle cx="668.9" cy="1051.2" r="8.4"/><circle cx="675.0" cy="1055.3" r="8.4"/><circle cx="681.3" cy="1069.5" r="8.4"/><circle cx="684.5" cy="1072.0" r="8.4"/><circle cx="687.7" cy="1076.5" r="8.4"/><circle cx="690.9" cy="1066.1" r="8.4"/><circle cx="695.6" cy="1071.4" r="8.4"/><circle cx="700.0" cy="1075.2" r="8.4"/><circle cx="704.3" cy="1079.1" r="8.4"/></g><g fill="#7E2F8E"><path d="M232.1 986.9L234.1 986.7L236.1 986.4L238.0 986.2L240.0 985.9L242.0 985.7L244.0 985.4L246.0 985.2L248.0 985.0L249.9 984.8L251.9 984.6L253.9 984.4L255.9 984.2L257.8 983.8L259.8 983.5L261.8 983.2L263.7 983.0L265.7 982.7L267.7 982.5L269.6 982.2L271.6 982.0L273.6 981.9L275.5 981.8L277.5 981.6L279.4 981.3L281.4 981.2L283.4 981.0L285.3 980.7L287.3 980.5L289.2 980.4L291.2 980.2L293.1 979.9L295.1 979.8L297.0 979.8L299.0 979.7L300.9 979.6L302.9 979.4L304.9 979.2L306.9 979.2L308.9 979.2L310.9 979.3L312.9 979.3L314.9 979.3L316.9 979.1L318.9 979.0L320.9 978.9L322.9 978.8L324.9 978.8L326.9 978.7L328.9 978.6L330.9 978.5L332.9 978.4L334.9 978.3L336.9 978.0L338.9 977.9L340.8 977.8L342.8 977.9L344.8 978.0L346.8 978.1L348.8 978.1L350.8 978.2L352.8 978.1L354.8 978.0L356.7 977.8L358.7 977.6L360.7 977.5L362.7 977.4L364.7 977.4L366.7 977.4L368.6 977.3L370.6 977.3L372.6 977.4L374.6 977.4L376.6 977.4L378.5 977.4L380.5 977.5L382.5 977.7L384.5 977.7L386.4 977.5L388.4 977.4L390.4 977.5L392.4 977.6L394.4 977.6L396.3 977.6L398.3 977.5L400.3 977.5L402.3 977.5L404.3 977.8L406.2 978.0L408.2 978.2L410.2 978.3L412.2 978.2L414.2 978.2L416.2 978.3L418.1 978.4L420.1 978.6L422.1 978.8L424.1 978.9L426.1 979.1L428.1 979.2L430.1 979.4L432.0 979.3L434.0 979.4L436.0 979.3L438.0 979.3L440.0 979.3L441.9 979.3L443.8 979.3L445.7 979.7L447.6 980.2L449.6 980.7L451.5 981.0L453.4 981.1L455.4 981.4L457.3 981.7L459.2 982.0L461.2 982.3L463.1 982.7L465.0 983.0L467.0 983.3L468.9 983.7L470.9 984.1L472.8 984.6L474.8 985.0L476.8 985.3L478.7 985.4L480.7 985.7L482.7 986.3L484.6 986.8L486.6 987.2L488.6 987.2L490.6 987.4L492.5 987.7L494.5 988.1L496.4 988.5L498.3 989.0L500.3 989.5L502.2 990.1L504.2 990.4L506.1 990.6L508.0 990.9L510.0 991.3L511.9 991.9L513.8 992.3L515.8 992.6L517.7 992.8L519.6 993.1L521.5 993.8L523.5 994.6L525.4 995.4L527.3 995.6L529.2 996.1L531.1 996.6L533.0 997.2L534.9 997.6L536.8 997.9L538.7 998.3L540.5 998.7L542.4 999.5L544.2 1000.3L546.1 1001.1L547.9 1001.7L549.7 1002.3L551.6 1003.2L553.4 1004.1L555.2 1005.1L557.1 1006.0L558.9 1006.9L560.7 1007.3L562.5 1007.5L564.3 1007.9L566.1 1008.7L567.9 1009.6L569.7 1010.2L571.5 1010.5L573.3 1011.2L575.1 1012.1L576.9 1013.7L578.6 1014.7L580.4 1016.0L582.2 1016.9L583.9 1018.0L585.7 1019.1L587.4 1020.3L589.1 1021.7L590.8 1022.8L592.5 1023.8L594.2 1024.3L595.9 1025.1L597.6 1025.9L599.3 1026.7L600.9 1027.3L602.6 1028.2L604.2 1029.6L605.9 1030.8L607.5 1031.5L609.2 1031.8L610.8 1032.6L612.4 1033.9L614.1 1035.2L615.7 1036.0L617.3 1037.0L618.9 1038.2L620.1 1039.5L629.9 1017.3L628.5 1015.9L626.8 1014.7L625.1 1013.5L623.4 1012.2L621.7 1011.0L620.0 1009.8L618.3 1008.8L616.6 1007.7L614.8 1006.4L613.1 1005.4L611.3 1004.1L609.5 1003.4L607.7 1002.5L605.9 1002.4L604.1 1001.7L602.3 1000.7L600.5 998.8L598.6 997.3L596.8 996.4L594.9 996.0L593.1 995.2L591.2 994.4L589.4 993.4L587.5 992.8L585.6 992.0L583.8 991.3L581.9 990.5L580.0 989.9L578.1 989.3L576.2 988.6L574.3 987.9L572.4 986.9L570.5 986.0L568.6 985.2L566.7 984.7L564.8 983.9L562.8 982.9L560.9 982.0L558.9 981.6L557.0 981.5L555.0 981.0L553.0 980.4L551.0 979.6L549.1 979.4L547.1 979.1L545.1 978.7L543.1 977.7L541.1 976.7L539.1 975.8L537.1 975.5L535.1 975.4L533.1 975.2L531.2 974.9L529.2 974.4L527.2 973.8L525.2 973.1L523.2 972.6L521.2 972.5L519.3 972.6L517.3 972.6L515.3 972.4L513.3 971.9L511.3 971.3L509.3 971.0L507.3 970.7L505.3 970.5L503.3 970.1L501.4 969.6L499.4 968.9L497.4 968.1L495.4 967.5L493.4 967.2L491.4 967.3L489.4 967.3L487.5 967.1L485.5 966.7L483.5 966.5L481.5 966.3L479.6 966.3L477.6 966.1L475.6 965.8L473.6 965.2L471.6 964.9L469.6 964.6L467.6 964.4L465.6 964.1L463.6 963.7L461.5 963.3L459.5 962.9L457.5 962.8L455.4 962.7L453.4 962.5L451.3 962.2L449.3 961.9L447.2 962.0L445.1 962.0L443.1 962.1L441.0 962.0L439.0 962.0L437.0 961.7L435.0 961.4L433.0 961.0L430.9 960.8L428.9 960.7L426.9 960.7L424.9 960.7L422.9 960.7L420.9 960.7L418.9 960.6L416.9 960.3L414.9 960.2L412.9 960.1L410.8 960.2L408.8 960.2L406.8 960.2L404.8 960.0L402.8 959.8L400.8 959.8L398.7 959.8L396.7 959.9L394.7 959.9L392.7 959.8L390.7 959.8L388.6 959.8L386.6 959.8L384.6 959.8L382.6 959.9L380.5 959.9L378.5 959.7L376.5 959.5L374.5 959.3L372.5 959.3L370.4 959.5L368.4 959.7L366.4 960.0L364.4 960.1L362.4 960.2L360.4 960.0L358.3 960.0L356.3 960.1L354.3 960.2L352.3 960.2L350.3 960.2L348.3 960.2L346.3 960.3L344.3 960.5L342.2 960.6L340.2 960.6L338.2 960.6L336.2 960.6L334.2 960.8L332.2 961.0L330.2 961.1L328.2 961.2L326.2 961.2L324.2 961.2L322.2 961.2L320.2 961.3L318.2 961.5L316.2 961.5L314.2 961.5L312.2 961.5L310.2 961.7L308.2 962.0L306.2 962.3L304.2 962.4L302.2 962.4L300.2 962.3L298.2 962.4L296.1 962.5L294.1 962.7L292.1 962.9L290.0 963.1L288.0 963.2L285.9 963.2L283.9 963.3L281.9 963.4L279.9 963.6L277.8 964.0L275.8 964.2L273.8 964.4L271.8 964.5L269.8 964.6L267.8 964.8L265.7 965.1L263.7 965.4L261.7 965.7L259.7 965.9L257.7 966.0L255.7 966.1L253.7 966.4L251.7 966.6L249.7 966.9L247.8 967.2L245.8 967.6L243.8 967.9L241.8 968.1L239.8 968.3L237.8 968.6L235.9 968.9L233.9 969.1L231.9 969.3L229.9 969.5Z"/><rect x="222.6" y="969.6" width="16.8" height="17.6" rx="8.4"/><rect x="616.6" y="1016.1" width="16.8" height="24.6" rx="8.4"/><circle cx="470.3" cy="973.1" r="8.4"/><circle cx="478.2" cy="974.0" r="8.4"/><circle cx="484.1" cy="978.0" r="8.4"/><circle cx="488.0" cy="978.8" r="8.4"/><circle cx="493.9" cy="980.2" r="8.4"/><circle cx="501.8" cy="981.2" r="8.4"/><circle cx="505.7" cy="982.4" r="8.4"/><circle cx="511.6" cy="983.1" r="8.4"/><circle cx="517.5" cy="985.2" r="8.4"/><circle cx="523.4" cy="986.3" r="8.4"/><circle cx="527.3" cy="982.0" r="8.4"/><circle cx="533.1" cy="983.9" r="8.4"/><circle cx="538.9" cy="985.3" r="8.4"/><circle cx="546.6" cy="993.2" r="8.4"/><circle cx="554.3" cy="988.8" r="8.4"/><circle cx="561.8" cy="998.3" r="8.4"/><circle cx="567.4" cy="993.9" r="8.4"/><circle cx="573.0" cy="995.7" r="8.4"/><circle cx="580.3" cy="997.6" r="8.4"/><circle cx="585.8" cy="1010.7" r="8.4"/><circle cx="591.2" cy="1003.5" r="8.4"/><circle cx="598.3" cy="1015.9" r="8.4"/><circle cx="603.5" cy="1020.7" r="8.4"/><circle cx="606.9" cy="1009.8" r="8.4"/><circle cx="612.0" cy="1014.3" r="8.4"/><circle cx="618.7" cy="1030.8" r="8.4"/></g><g fill="#77AC30"><path d="M148.1 983.1L150.2 982.6L152.3 982.2L154.2 981.7L156.1 981.5L158.0 981.1L159.9 980.7L161.9 980.3L163.8 979.9L165.7 979.6L167.7 979.3L169.6 979.0L171.5 978.7L173.5 978.4L175.4 978.1L177.4 977.8L179.3 977.4L181.2 977.0L183.2 976.6L185.1 976.2L187.1 975.8L189.1 975.6L191.0 975.4L193.0 975.3L194.9 975.1L196.9 975.1L198.9 974.9L200.8 974.5L202.8 974.0L204.8 973.6L206.7 973.5L208.7 973.5L210.7 973.5L212.7 973.2L214.6 972.9L216.6 972.5L218.6 972.3L220.5 972.0L222.5 971.9L224.3 971.8L226.2 971.6L228.1 971.3L230.0 971.2L231.9 971.2L233.9 971.1L235.8 971.1L237.7 971.0L239.7 970.9L241.6 970.6L243.6 970.4L245.6 970.2L247.5 970.3L249.5 970.4L251.5 970.6L253.5 970.9L255.5 970.8L257.5 970.8L259.5 970.7L261.5 970.6L263.5 970.6L265.6 970.7L267.6 970.8L269.7 970.7L271.7 970.6L273.8 970.6L275.8 970.7L277.9 970.6L280.0 970.5L282.0 970.2L284.0 970.0L286.1 969.9L288.1 969.8L290.1 969.9L292.1 969.8L294.1 969.6L296.1 969.2L298.2 968.7L300.2 968.4L302.2 968.0L304.2 967.8L306.3 967.5L308.3 967.4L310.3 967.4L312.3 967.4L314.3 967.0L316.4 966.8L318.4 966.6L320.4 966.5L322.4 966.2L324.5 965.9L326.5 965.4L328.5 964.7L330.5 964.1L332.5 963.8L334.5 963.6L336.5 963.4L338.5 962.8L340.5 962.4L342.5 962.3L344.6 962.1L346.6 961.5L348.6 960.9L350.6 960.6L352.6 960.4L354.6 960.1L356.5 959.5L358.4 958.9L360.3 958.4L362.2 958.1L364.1 957.8L366.0 957.3L367.9 956.6L369.9 955.9L371.8 955.5L373.8 955.1L375.7 954.8L377.6 954.4L379.6 954.0L381.5 953.9L383.5 953.7L385.4 953.5L387.4 953.1L389.3 952.6L391.3 952.1L393.3 951.8L395.2 951.6L397.2 951.5L399.1 951.2L401.1 951.0L403.0 950.9L405.0 950.6L406.9 950.3L408.8 949.9L410.8 949.8L412.7 949.5L414.7 949.3L416.6 949.0L418.6 948.8L420.5 948.6L422.5 948.5L424.5 948.4L426.4 948.3L428.4 948.1L430.4 947.8L432.4 947.7L434.4 947.5L436.3 947.3L438.3 947.2L440.2 947.2L442.1 947.1L444.1 946.9L446.0 946.8L448.0 946.6L450.0 946.4L451.9 946.3L453.9 946.4L455.9 946.4L457.9 946.4L459.9 946.3L461.9 946.2L463.9 946.1L465.9 946.0L468.0 945.9L470.0 945.8L471.9 945.7L473.8 945.6L475.8 945.6L477.7 945.6L479.7 945.7L481.7 945.9L483.7 946.1L485.8 946.0L487.9 945.9L490.0 945.8L492.1 945.8L494.2 945.7L496.4 945.4L498.6 945.0L500.7 944.7L502.7 944.5L504.7 944.3L506.8 944.0L508.8 943.7L510.9 943.4L513.1 943.1L515.2 942.7L517.4 942.3L519.6 941.8L521.8 941.2L523.9 940.5L525.9 939.8L527.8 939.0L529.8 938.2L531.7 937.6L533.6 936.9L535.5 936.1L537.4 935.3L539.3 934.5L541.1 933.8L543.0 933.2L543.4 933.0L537.6 917.3L537.1 917.3L535.2 917.9L533.3 918.6L531.5 919.3L529.6 920.0L527.8 920.6L525.9 921.3L524.1 922.0L522.3 922.8L520.4 923.3L518.6 923.9L516.9 924.5L515.2 925.1L513.5 925.5L511.8 925.8L510.1 926.0L508.2 926.4L506.4 926.7L504.5 926.9L502.5 927.0L500.6 927.3L498.6 927.6L496.8 928.1L495.0 928.3L493.2 928.3L491.3 928.3L489.4 928.4L487.5 928.6L485.6 928.7L483.7 928.7L481.7 928.8L479.7 928.9L477.7 929.0L475.6 928.9L473.6 928.7L471.5 928.6L469.4 928.6L467.4 928.6L465.5 928.6L463.5 928.6L461.5 928.7L459.5 928.8L457.5 928.9L455.5 928.9L453.5 928.8L451.5 928.8L449.4 928.8L447.4 929.1L445.4 929.1L443.3 929.1L441.3 929.2L439.2 929.4L437.2 929.6L435.1 929.7L433.1 929.9L431.1 930.0L429.1 930.2L427.1 930.3L425.1 930.6L423.1 930.8L421.0 931.0L419.0 930.9L417.0 931.0L415.0 931.0L413.0 931.2L410.9 931.6L408.9 932.1L406.9 932.4L404.8 932.5L402.8 932.5L400.8 932.7L398.7 933.0L396.7 933.5L394.7 933.9L392.7 934.4L390.7 934.7L388.7 934.9L386.7 935.0L384.7 935.2L382.7 935.5L380.8 935.9L378.8 936.3L376.8 936.4L374.8 936.4L372.8 936.6L370.8 937.1L368.8 937.7L366.8 938.2L364.8 938.6L362.8 938.7L360.8 939.0L358.8 939.6L356.7 940.3L354.7 940.8L352.8 941.2L350.8 941.4L348.9 941.8L346.9 942.1L345.0 942.6L343.1 942.9L341.3 943.3L339.4 943.6L337.5 944.1L335.5 944.5L333.6 944.9L331.6 945.1L329.7 945.5L327.8 945.7L325.8 946.0L323.9 946.3L321.9 946.5L320.0 946.5L318.1 946.5L316.1 946.9L314.2 947.4L312.2 948.0L310.3 948.2L308.3 948.2L306.4 948.0L304.4 948.2L302.5 948.4L300.5 949.0L298.6 949.5L296.6 950.0L294.6 950.2L292.7 950.5L290.7 950.7L288.7 950.8L286.8 950.6L284.8 950.2L282.8 950.2L280.8 950.5L278.9 951.0L277.0 951.2L275.0 951.2L273.1 951.0L271.2 950.9L269.2 950.8L267.3 950.9L265.3 951.2L263.4 951.6L261.4 951.7L259.4 951.8L257.4 951.8L255.4 951.6L253.4 951.4L251.4 951.3L249.4 951.5L247.4 951.8L245.4 951.9L243.3 952.0L241.3 952.0L239.2 951.8L237.2 951.5L235.1 951.6L233.0 951.9L231.0 952.3L228.9 952.5L226.8 952.8L224.7 952.9L222.6 953.0L220.5 953.0L218.5 953.3L216.5 953.5L214.5 954.1L212.5 954.5L210.5 955.0L208.5 955.3L206.5 955.6L204.5 955.8L202.5 956.2L200.5 956.4L198.5 956.6L196.6 956.8L194.6 957.0L192.6 957.2L190.6 957.5L188.6 957.9L186.6 958.2L184.6 958.6L182.6 958.8L180.6 959.1L178.6 959.5L176.6 959.9L174.6 960.2L172.6 960.5L170.6 960.8L168.6 961.2L166.6 961.5L164.6 961.8L162.6 962.1L160.6 962.5L158.6 962.9L156.6 963.4L154.6 964.0L152.6 964.5L150.6 965.0L148.6 965.4L146.8 965.6L144.9 965.9Z"/><rect x="138.1" y="965.8" width="16.8" height="17.6" rx="8.4"/><rect x="532.1" y="916.6" width="16.8" height="17.0" rx="8.4"/><circle cx="235.5" cy="960.5" r="8.4"/><circle cx="243.5" cy="962.4" r="8.4"/><circle cx="247.5" cy="962.9" r="8.4"/><circle cx="255.5" cy="962.3" r="8.4"/><circle cx="259.5" cy="962.3" r="8.4"/><circle cx="267.5" cy="959.2" r="8.4"/><circle cx="273.5" cy="959.4" r="8.4"/><circle cx="279.4" cy="962.2" r="8.4"/><circle cx="287.4" cy="958.1" r="8.4"/><circle cx="291.4" cy="957.7" r="8.4"/><circle cx="297.4" cy="957.7" r="8.4"/><circle cx="305.3" cy="956.7" r="8.4"/><circle cx="311.3" cy="959.3" r="8.4"/><circle cx="317.3" cy="958.1" r="8.4"/><circle cx="321.2" cy="958.1" r="8.4"/><circle cx="325.2" cy="953.9" r="8.4"/><circle cx="329.1" cy="956.9" r="8.4"/><circle cx="335.0" cy="955.3" r="8.4"/><circle cx="342.9" cy="954.2" r="8.4"/><circle cx="348.8" cy="952.4" r="8.4"/></g><g fill="#4DBEEE"><path d="M232.9 982.5L234.8 982.2L236.7 981.9L238.6 981.5L240.6 981.1L242.5 980.7L244.4 980.5L246.4 980.1L248.3 979.6L250.2 979.2L252.2 978.7L254.1 978.3L256.0 977.9L258.0 977.5L259.9 977.1L261.8 976.9L263.8 976.6L265.7 976.3L267.7 976.0L269.6 975.8L271.5 975.6L273.5 975.3L275.4 974.9L277.4 974.4L279.3 973.9L281.3 973.7L283.2 973.5L285.1 973.2L287.1 972.9L289.0 972.7L291.0 972.6L292.9 972.6L294.9 972.6L296.9 972.6L298.8 972.4L300.8 972.1L302.8 971.7L304.8 971.4L306.8 971.4L308.8 971.4L310.8 971.4L312.8 971.4L314.8 971.2L316.9 971.0L318.9 970.4L320.9 970.0L323.0 969.5L325.0 969.3L327.0 969.1L329.1 969.1L331.1 969.0L333.1 968.9L335.1 968.6L337.1 968.3L339.1 967.9L341.1 967.5L343.2 967.0L345.2 966.6L347.3 966.3L349.3 966.0L351.3 965.6L353.3 965.2L355.3 964.5L357.2 963.7L359.1 963.2L361.0 962.9L362.9 962.8L364.8 962.6L366.7 962.2L368.7 961.7L370.6 961.4L372.6 961.1L374.5 960.9L376.5 960.4L378.4 959.9L380.4 959.7L382.4 959.6L384.3 959.4L386.3 958.8L388.3 958.0L390.2 957.5L392.2 957.2L394.2 956.8L396.2 956.5L398.1 956.2L400.1 956.0L402.1 955.9L404.1 955.9L406.0 955.7L408.0 955.3L409.9 954.7L411.9 954.4L413.9 954.1L415.8 953.8L417.8 953.5L419.8 953.1L421.8 952.7L423.7 952.2L425.7 951.7L427.7 951.4L429.7 951.1L431.7 950.7L433.6 950.4L435.6 950.0L437.6 949.6L439.6 949.1L441.6 948.4L443.6 947.8L445.6 947.5L447.5 947.3L449.5 947.0L451.5 946.6L453.5 946.1L455.4 945.7L457.4 945.4L459.4 945.0L461.3 944.4L463.3 943.9L465.3 943.4L467.2 943.2L469.2 943.0L471.1 942.7L473.1 942.3L475.0 941.9L477.0 941.3L478.9 940.9L480.9 940.5L482.8 940.2L484.8 939.9L486.7 939.6L488.6 939.1L490.6 938.6L492.5 938.2L494.5 937.8L496.4 937.4L498.4 937.0L500.3 936.5L502.3 936.3L504.3 936.1L506.2 936.0L508.2 935.7L510.2 935.4L512.2 934.9L514.2 934.4L516.2 934.0L518.2 933.6L520.1 933.3L522.1 933.0L524.0 932.7L525.9 932.4L527.8 932.0L529.8 931.6L531.7 931.2L533.7 930.8L535.7 930.6L537.7 930.5L539.7 930.4L541.8 930.1L543.8 929.8L545.9 929.4L548.1 928.9L550.3 928.4L552.4 927.9L554.4 927.3L556.4 926.6L558.4 925.8L560.4 925.1L562.4 924.4L564.4 923.9L566.4 923.3L568.3 922.6L570.3 921.8L572.2 921.0L574.1 920.2L576.0 919.5L577.9 918.8L579.8 918.1L581.7 917.4L583.5 916.7L585.4 915.9L587.3 915.0L589.1 914.1L591.0 913.4L592.9 912.7L594.8 911.9L596.6 911.1L598.5 910.2L600.4 909.4L602.2 908.5L604.1 907.6L605.9 906.6L607.8 905.6L609.6 904.6L611.4 903.7L613.3 902.8L615.1 901.8L616.9 900.8L618.7 899.8L620.5 898.9L622.3 898.0L624.1 897.0L625.9 895.9L627.7 894.9L629.3 894.0L620.7 879.3L619.2 880.2L617.6 881.1L615.9 882.0L614.2 882.9L612.5 883.8L610.8 884.7L609.1 885.7L607.3 886.7L605.6 887.8L603.9 888.5L602.1 889.2L600.4 889.8L598.6 890.5L596.9 891.4L595.1 892.4L593.3 893.4L591.5 894.2L589.8 895.1L588.0 895.8L586.2 896.6L584.4 897.4L582.6 898.1L580.8 898.8L578.9 899.4L577.1 900.2L575.3 901.1L573.5 902.0L571.6 902.7L569.8 903.5L568.0 904.1L566.2 904.8L564.3 905.5L562.5 906.2L560.7 907.0L558.9 907.7L557.1 908.3L555.3 908.8L553.5 909.3L551.6 909.8L549.8 910.4L548.0 910.8L546.2 911.3L544.5 911.7L542.7 912.0L540.9 912.3L539.0 912.6L537.1 913.0L535.2 913.5L533.2 914.0L531.3 914.3L529.3 914.5L527.3 914.6L525.3 914.7L523.2 915.1L521.2 915.5L519.2 915.9L517.2 916.1L515.2 916.4L513.3 916.7L511.3 917.2L509.4 917.5L507.4 917.9L505.4 918.3L503.5 918.8L501.5 919.2L499.5 919.3L497.5 919.5L495.6 919.6L493.6 920.0L491.6 920.3L489.6 920.7L487.6 921.2L485.6 921.8L483.6 922.1L481.6 922.3L479.6 922.5L477.6 922.8L475.7 923.2L473.7 923.6L471.7 924.0L469.8 924.4L467.8 924.7L465.8 925.2L463.9 925.5L461.9 925.9L459.9 926.1L458.0 926.4L456.0 927.0L454.1 927.4L452.1 927.8L450.2 927.9L448.2 928.2L446.3 928.5L444.3 928.9L442.4 929.3L440.4 929.6L438.5 929.9L436.5 930.2L434.6 930.7L432.6 931.2L430.7 931.6L428.7 932.0L426.8 932.3L424.8 932.6L422.9 932.8L420.9 933.0L418.9 933.4L417.0 933.9L415.0 934.5L413.0 934.8L411.0 935.0L409.1 935.0L407.1 935.2L405.1 935.4L403.1 935.7L401.2 936.0L399.2 936.5L397.2 937.0L395.3 937.6L393.3 937.9L391.3 938.1L389.4 938.1L387.4 938.5L385.4 939.0L383.4 939.5L381.5 939.9L379.5 940.4L377.5 940.8L375.5 941.1L373.6 941.3L371.6 941.7L369.6 942.0L367.6 942.2L365.6 942.4L363.6 942.7L361.6 943.0L359.6 943.5L357.6 944.0L355.6 944.8L353.6 945.3L351.6 945.8L349.7 946.3L347.8 946.9L345.8 947.4L344.0 947.6L342.1 947.9L340.2 948.1L338.3 948.4L336.4 948.6L334.4 948.8L332.5 949.2L330.5 949.6L328.6 949.9L326.7 950.2L324.7 950.6L322.8 951.0L320.9 951.4L318.9 951.5L317.0 951.5L315.0 951.4L313.1 951.7L311.1 952.0L309.2 952.3L307.2 952.6L305.2 952.9L303.2 953.3L301.2 953.4L299.3 953.6L297.3 953.8L295.2 954.2L293.2 954.5L291.2 954.7L289.2 954.9L287.2 955.0L285.1 955.1L283.1 955.3L281.1 955.7L279.0 956.2L277.0 956.5L275.0 956.7L273.0 956.8L271.0 957.1L269.0 957.5L267.0 957.8L265.0 958.1L263.0 958.3L261.0 958.6L259.0 959.0L257.0 959.4L255.0 960.0L253.0 960.6L251.0 961.1L249.0 961.5L247.0 961.7L245.0 962.0L243.0 962.3L241.0 962.8L239.0 963.2L237.0 963.6L235.1 964.0L233.1 964.4L231.1 965.0L229.1 965.5Z"/><rect x="222.6" y="965.2" width="16.8" height="17.6" rx="8.4"/><rect x="616.6" y="878.1" width="16.8" height="17.0" rx="8.4"/><circle cx="319.9" cy="961.8" r="8.4"/><circle cx="327.9" cy="958.8" r="8.4"/><circle cx="331.8" cy="960.6" r="8.4"/><circle cx="339.7" cy="959.5" r="8.4"/><circle cx="343.7" cy="955.5" r="8.4"/><circle cx="347.6" cy="958.1" r="8.4"/><circle cx="353.4" cy="953.8" r="8.4"/><circle cx="357.3" cy="955.7" r="8.4"/><circle cx="365.2" cy="950.9" r="8.4"/><circle cx="373.1" cy="952.9" r="8.4"/><circle cx="377.0" cy="952.0" r="8.4"/><circle cx="384.9" cy="950.6" r="8.4"/><circle cx="390.8" cy="949.4" r="8.4"/><circle cx="394.7" cy="945.5" r="8.4"/><circle cx="402.6" cy="944.1" r="8.4"/><circle cx="408.5" cy="943.6" r="8.4"/><circle cx="414.4" cy="945.8" r="8.4"/><circle cx="420.3" cy="941.4" r="8.4"/><circle cx="428.2" cy="942.9" r="8.4"/></g><g fill="#A2142F"><path d="M280.7 979.5L282.7 979.5L284.7 979.5L286.7 979.2L288.7 979.1L290.7 978.9L292.7 978.7L294.7 978.3L296.8 978.1L298.8 977.9L300.8 977.9L302.8 977.7L304.8 977.6L306.8 977.5L308.9 977.4L310.9 977.1L312.9 976.8L314.9 976.5L316.9 976.1L319.0 975.6L321.0 975.2L323.0 975.1L325.0 975.0L327.0 974.8L329.1 974.4L331.1 973.9L333.1 973.4L335.1 972.8L337.1 972.5L339.1 972.2L341.1 972.2L343.1 971.8L345.2 971.3L347.2 970.6L349.3 970.3L351.3 970.0L353.3 969.6L355.2 969.0L357.1 968.5L359.1 967.9L361.0 967.3L362.9 966.9L364.7 966.5L366.7 966.2L368.6 965.7L370.6 965.1L372.5 964.7L374.4 964.4L376.4 964.4L378.3 964.1L380.3 963.9L382.2 963.3L384.1 962.7L386.1 962.0L388.0 961.4L390.0 961.0L391.9 960.7L393.9 960.4L395.8 960.0L397.7 959.6L399.7 959.2L401.6 958.9L403.5 958.7L405.4 958.3L407.3 957.9L409.3 957.3L411.2 957.0L413.1 956.8L415.1 956.6L417.0 956.2L419.0 955.8L420.9 955.5L422.9 955.3L424.9 955.0L426.9 954.6L428.9 954.1L430.9 953.9L432.9 953.8L434.9 953.8L436.9 953.5L438.9 953.0L441.0 952.2L443.0 951.4L445.0 950.7L446.9 950.5L448.9 950.3L450.9 950.0L452.9 949.5L454.9 949.0L456.8 948.5L458.8 948.0L460.7 947.6L462.7 947.1L464.7 946.8L466.6 946.4L468.6 945.9L470.5 945.1L472.5 944.5L474.4 944.0L476.3 943.7L478.3 943.4L480.2 943.0L482.2 942.5L484.1 942.2L486.0 941.8L487.9 941.6L489.8 941.1L491.8 940.6L493.7 939.7L495.7 939.3L497.6 938.9L499.6 938.7L501.5 938.2L503.5 937.9L505.5 937.6L507.5 937.3L509.4 937.1L511.4 936.6L513.4 936.2L515.4 935.6L517.4 935.0L519.4 934.4L521.4 933.8L523.4 933.2L525.4 932.8L527.4 932.5L529.3 932.0L531.3 931.4L533.2 930.7L535.1 930.2L537.1 929.7L539.0 929.4L540.9 929.1L542.7 928.6L544.7 928.1L546.6 927.5L548.5 926.9L550.5 926.5L552.5 926.1L554.5 925.6L556.6 925.1L558.6 924.4L560.7 923.7L562.7 923.0L564.7 922.2L566.7 921.5L568.6 920.7L570.6 920.0L572.5 919.2L574.4 918.4L576.3 917.6L578.2 916.9L580.1 916.1L581.9 915.4L583.8 914.7L585.7 914.0L587.6 913.2L589.5 912.5L591.3 911.6L593.2 910.8L595.1 910.1L597.0 909.3L598.8 908.4L600.7 907.6L602.6 906.7L604.4 905.9L606.3 904.9L608.1 903.9L609.9 902.8L611.8 901.8L613.6 900.9L615.4 900.0L617.2 899.1L619.1 898.1L620.9 897.1L622.7 896.3L624.5 895.4L626.3 894.4L628.1 893.3L629.8 892.1L631.6 890.9L633.4 889.8L635.1 888.7L636.8 887.5L638.6 886.2L640.3 885.0L642.0 883.8L643.7 882.8L645.3 881.7L647.0 880.7L648.7 879.6L650.4 878.3L652.0 876.9L653.7 875.6L655.3 874.3L657.0 873.1L658.6 871.9L660.2 870.7L661.9 869.6L663.5 868.4L665.1 867.1L666.7 865.6L668.3 864.2L669.8 862.9L671.4 861.5L673.0 860.2L674.5 858.9L676.1 857.6L677.6 856.1L679.1 854.6L679.8 853.7L668.2 841.8L667.6 842.4L666.2 843.6L664.8 844.8L663.4 846.0L661.9 847.3L660.4 848.5L659.0 849.7L657.5 850.8L656.0 851.9L654.5 853.1L653.0 854.4L651.4 855.7L649.9 856.8L648.4 858.1L646.8 859.3L645.3 860.6L643.7 861.8L642.1 862.9L640.5 863.9L639.0 865.0L637.4 866.2L635.8 867.4L634.1 868.6L632.5 869.7L630.9 870.7L629.3 871.8L627.7 872.8L626.0 873.8L624.4 874.8L622.7 875.9L621.1 877.0L619.4 878.0L617.8 879.0L616.1 879.8L614.4 880.6L612.7 881.6L611.0 882.6L609.3 883.6L607.6 884.5L605.9 885.5L604.1 886.5L602.4 887.4L600.7 888.3L598.9 889.1L597.2 889.9L595.4 890.7L593.6 891.7L591.9 892.5L590.1 893.3L588.3 893.8L586.5 894.4L584.7 895.2L582.9 896.1L581.1 897.1L579.3 898.0L577.4 898.8L575.6 899.4L573.8 900.0L571.9 900.6L570.1 901.3L568.3 902.0L566.5 902.6L564.6 903.3L562.8 904.1L561.0 904.6L559.2 905.3L557.4 906.0L555.6 906.8L553.9 907.4L552.1 907.9L550.2 908.2L548.4 908.6L546.5 909.1L544.6 909.5L542.7 909.9L540.7 910.4L538.7 911.0L536.7 911.5L534.8 911.8L532.8 912.1L530.8 912.6L528.9 913.3L527.0 914.0L525.0 914.4L523.1 914.9L521.2 915.3L519.3 915.8L517.5 916.3L515.6 916.8L513.7 917.2L511.8 917.6L509.8 917.9L507.9 918.3L506.0 918.7L504.1 919.2L502.1 919.7L500.2 920.2L498.2 920.6L496.3 920.7L494.3 920.9L492.3 921.2L490.4 921.6L488.4 921.9L486.4 922.2L484.4 922.6L482.4 923.0L480.4 923.7L478.5 924.2L476.5 925.0L474.5 925.5L472.6 925.9L470.6 926.0L468.7 926.2L466.7 926.6L464.8 927.4L462.8 927.9L460.9 928.3L458.9 928.4L457.0 928.5L455.1 929.1L453.1 929.7L451.2 930.3L449.2 930.6L447.3 930.9L445.4 931.3L443.5 931.9L441.5 932.3L439.6 932.9L437.7 933.3L435.8 933.8L433.9 934.1L431.9 934.4L430.0 934.6L428.1 934.8L426.1 935.1L424.2 935.6L422.2 936.1L420.3 936.2L418.3 936.4L416.3 936.7L414.3 937.2L412.3 937.4L410.3 937.6L408.3 937.9L406.3 938.4L404.3 938.9L402.3 939.4L400.2 939.8L398.2 940.3L396.2 940.7L394.3 941.2L392.3 941.4L390.3 941.6L388.4 942.1L386.4 942.9L384.4 943.6L382.5 944.0L380.5 944.3L378.5 944.5L376.6 945.0L374.6 945.6L372.7 946.3L370.7 946.8L368.8 947.3L366.8 947.6L364.8 948.0L362.9 948.5L360.9 949.1L358.9 949.7L356.9 950.1L354.9 950.3L353.0 950.6L351.1 950.8L349.1 951.2L347.2 951.6L345.3 952.3L343.5 953.0L341.6 953.6L339.8 954.0L337.9 954.4L335.9 954.8L334.0 955.1L332.1 955.4L330.2 955.9L328.2 956.3L326.3 956.6L324.4 956.7L322.4 957.0L320.5 957.3L318.5 957.8L316.6 958.2L314.7 958.5L312.7 958.8L310.8 959.2L308.8 959.5L306.9 959.7L304.9 959.9L303.0 960.0L301.0 960.0L299.0 960.2L297.1 960.4L295.1 960.7L293.1 961.0L291.2 961.3L289.2 961.6L287.2 961.8L285.2 961.9L283.2 961.9L281.3 962.0L279.3 962.1Z"/><rect x="271.6" y="962.2" width="16.8" height="17.6" rx="8.4"/><rect x="665.6" y="839.3" width="16.8" height="17.0" rx="8.4"/><circle cx="380.4" cy="952.4" r="8.4"/><circle cx="384.3" cy="951.7" r="8.4"/><circle cx="388.2" cy="953.4" r="8.4"/><circle cx="394.1" cy="952.5" r="8.4"/><circle cx="399.9" cy="950.6" r="8.4"/><circle cx="403.8" cy="947.4" r="8.4"/><circle cx="411.7" cy="946.0" r="8.4"/><circle cx="415.7" cy="945.1" r="8.4"/><circle cx="423.6" cy="944.2" r="8.4"/><circle cx="431.5" cy="942.8" r="8.4"/><circle cx="437.4" cy="941.7" r="8.4"/><circle cx="441.3" cy="943.8" r="8.4"/><circle cx="449.1" cy="939.4" r="8.4"/><circle cx="456.9" cy="937.6" r="8.4"/><circle cx="460.8" cy="936.6" r="8.4"/><circle cx="464.7" cy="938.5" r="8.4"/><circle cx="472.5" cy="934.1" r="8.4"/></g><g fill="#FF6B2C"><path d="M315.3 978.6L317.3 978.4L319.4 978.2L321.4 977.9L323.4 977.7L325.5 977.6L327.5 977.4L329.5 977.1L331.5 976.8L333.6 976.4L335.6 976.1L337.6 975.8L339.6 975.6L341.6 975.3L343.7 974.9L345.7 974.5L347.7 974.1L349.8 973.8L351.8 973.4L353.8 972.9L355.8 972.6L357.8 972.3L359.8 971.9L361.8 971.5L363.8 971.1L365.7 970.6L367.7 970.0L369.6 969.3L371.6 968.9L373.5 968.5L375.4 968.4L377.4 968.1L379.3 967.6L381.3 966.9L383.2 966.4L385.2 965.9L387.1 965.5L389.1 965.1L391.0 964.7L392.9 964.4L394.9 964.2L396.8 964.0L398.8 963.8L400.7 963.2L402.7 962.6L404.6 962.0L406.5 961.4L408.4 960.8L410.4 960.3L412.3 960.0L414.3 959.8L416.2 959.7L418.2 959.5L420.1 959.1L422.1 958.7L424.1 958.0L426.0 957.5L428.0 957.0L430.0 956.6L432.0 956.1L433.9 955.7L435.9 955.1L437.9 954.9L439.9 954.6L441.9 954.4L443.8 954.1L445.8 953.5L447.8 952.9L449.7 952.2L451.7 951.6L453.6 950.9L455.6 950.2L457.5 949.6L459.5 949.3L461.5 949.2L463.4 949.0L465.4 948.8L467.3 948.4L469.3 947.9L471.2 947.3L473.1 946.6L475.1 946.0L477.0 945.3L479.0 944.8L480.9 944.4L482.9 944.0L484.8 943.5L486.7 942.9L488.7 942.4L490.6 941.9L492.6 941.4L494.5 940.9L496.4 940.1L498.4 939.4L500.3 938.7L502.3 938.4L504.2 938.1L506.1 937.9L508.1 937.1L510.0 936.5L512.0 935.8L513.9 935.5L515.8 935.0L517.8 934.3L519.7 933.5L521.7 932.7L523.6 932.1L525.6 931.4L527.6 931.0L529.5 930.5L531.4 930.0L533.3 929.2L535.2 928.5L537.1 927.9L539.0 927.5L540.8 927.0L542.7 926.4L544.5 925.7L546.3 925.1L548.2 924.4L550.1 923.8L552.0 923.1L554.0 922.7L555.9 922.3L557.9 921.9L559.9 921.3L561.9 920.7L563.9 920.1L565.9 919.5L567.9 918.9L569.8 918.2L571.8 917.5L573.7 916.8L575.6 916.2L577.6 915.5L579.5 914.7L581.4 913.9L583.3 913.1L585.2 912.3L587.1 911.5L589.0 910.7L590.9 909.9L592.8 909.1L594.8 908.3L596.7 907.4L598.6 906.5L600.5 905.6L602.4 904.9L604.2 904.1L606.1 903.2L607.9 902.3L609.7 901.3L611.6 900.3L613.4 899.3L615.2 898.4L617.0 897.4L618.8 896.5L620.6 895.4L622.4 894.5L624.2 893.6L626.0 892.6L627.8 891.5L629.5 890.3L631.3 889.2L633.0 888.0L634.8 886.9L636.5 885.7L638.2 884.6L639.9 883.3L641.6 882.2L643.3 880.9L645.0 879.8L646.7 878.7L648.4 877.6L650.1 876.4L651.8 875.2L653.5 873.9L655.1 872.4L656.7 871.0L658.3 869.6L659.9 868.2L661.4 866.9L663.0 865.6L664.5 864.3L666.1 863.0L667.6 861.7L669.0 860.3L670.5 858.8L672.0 857.3L673.5 855.9L675.0 854.5L676.4 853.1L677.9 851.6L679.4 850.1L680.8 848.5L682.3 846.9L683.7 845.3L685.1 843.9L686.5 842.4L687.9 840.8L689.2 839.0L690.6 837.4L691.9 835.9L693.2 834.6L694.5 833.1L695.8 831.4L697.1 829.7L698.3 828.0L699.6 826.3L700.8 824.7L702.0 823.1L703.2 821.5L704.4 819.8L705.6 818.1L706.8 816.4L708.0 814.7L709.2 813.0L710.3 811.4L711.5 809.7L712.6 807.9L713.8 806.1L714.9 804.3L715.5 803.4L701.5 793.9L700.8 794.9L699.8 796.5L698.7 798.2L697.6 799.9L696.5 801.5L695.4 803.0L694.3 804.5L693.1 806.1L692.0 807.6L690.8 809.1L689.7 810.7L688.5 812.3L687.3 814.0L686.2 815.7L685.0 817.3L683.8 818.8L682.6 820.3L681.4 821.8L680.2 823.3L678.9 824.8L677.7 826.4L676.4 827.9L675.2 829.4L673.9 830.7L672.6 832.2L671.3 833.5L670.0 834.8L668.7 836.2L667.4 837.7L666.0 839.3L664.6 840.7L663.2 842.0L661.8 843.3L660.4 844.5L659.0 845.7L657.6 847.1L656.1 848.6L654.7 849.9L653.2 851.3L651.8 852.6L650.4 853.9L648.9 855.2L647.4 856.5L646.0 857.7L644.5 858.9L643.0 860.0L641.5 861.2L640.0 862.4L638.5 863.7L636.9 864.8L635.4 865.8L633.8 866.8L632.2 867.9L630.5 869.0L628.9 870.1L627.3 871.1L625.7 872.1L624.0 873.2L622.4 874.3L620.7 875.3L619.1 876.4L617.4 877.4L615.7 878.3L614.1 879.3L612.4 880.3L610.7 881.3L609.0 882.2L607.3 883.1L605.6 883.9L603.8 884.5L602.1 885.4L600.4 886.3L598.6 887.4L596.9 888.5L595.1 889.5L593.4 890.2L591.7 890.7L589.9 891.3L588.1 892.0L586.4 892.8L584.6 893.7L582.8 894.4L581.0 895.2L579.1 895.9L577.3 896.7L575.5 897.4L573.6 898.1L571.8 898.8L569.9 899.4L568.1 900.2L566.3 900.8L564.4 901.6L562.6 902.0L560.8 902.5L558.9 903.0L557.1 903.6L555.3 904.1L553.4 904.4L551.5 904.9L549.6 905.5L547.7 906.3L545.7 906.7L543.8 907.2L541.8 907.5L539.8 908.0L537.8 908.5L535.8 909.1L533.9 909.8L531.9 910.5L530.0 911.1L528.1 911.5L526.2 912.0L524.3 912.6L522.4 913.5L520.6 914.2L518.7 914.8L516.9 915.3L515.0 915.8L513.1 916.2L511.2 916.7L509.3 917.1L507.4 917.7L505.5 918.1L503.5 918.6L501.6 919.0L499.7 919.7L497.8 920.4L495.9 921.2L494.0 921.9L492.0 922.3L490.1 922.6L488.2 922.8L486.3 923.4L484.4 924.1L482.4 924.7L480.5 925.2L478.6 925.6L476.6 926.1L474.7 926.7L472.8 927.3L470.9 927.9L468.9 928.5L467.0 929.0L465.1 929.7L463.2 930.3L461.2 930.6L459.3 930.7L457.4 931.1L455.4 931.6L453.5 932.1L451.6 932.5L449.7 932.9L447.7 933.5L445.8 933.9L443.9 934.4L441.9 934.9L440.0 935.4L438.1 936.1L436.2 936.5L434.2 936.8L432.3 936.9L430.4 937.3L428.5 937.9L426.5 938.4L424.6 938.8L422.6 939.1L420.7 939.5L418.7 939.8L416.8 940.2L414.8 940.7L412.8 941.2L410.9 941.5L408.9 941.8L406.9 942.2L405.0 942.8L403.0 943.2L401.0 943.7L399.0 944.2L397.1 944.8L395.1 945.4L393.1 945.8L391.2 946.2L389.2 946.4L387.3 946.9L385.3 947.4L383.4 948.0L381.4 948.5L379.5 949.0L377.5 949.3L375.5 949.7L373.6 950.0L371.6 950.5L369.7 950.9L367.7 951.5L365.8 952.1L363.8 952.6L361.9 952.9L360.0 953.3L358.0 953.7L356.1 954.2L354.2 954.6L352.3 955.1L350.4 955.5L348.5 955.9L346.6 956.3L344.7 956.6L342.8 957.0L340.9 957.5L338.9 958.0L337.0 958.4L335.1 958.6L333.1 958.8L331.2 959.0L329.3 959.3L327.3 959.5L325.4 959.8L323.4 960.1L321.5 960.4L319.5 960.5L317.6 960.8L315.6 961.1L313.7 961.5Z"/><rect x="306.1" y="961.2" width="16.8" height="17.6" rx="8.4"/><rect x="700.1" y="790.2" width="16.8" height="17.0" rx="8.4"/><circle cx="432.2" cy="945.6" r="8.4"/><circle cx="438.0" cy="946.6" r="8.4"/><circle cx="441.9" cy="946.0" r="8.4"/><circle cx="445.8" cy="942.3" r="8.4"/><circle cx="451.6" cy="943.2" r="8.4"/><circle cx="455.5" cy="940.1" r="8.4"/><circle cx="461.4" cy="941.5" r="8.4"/><circle cx="467.2" cy="937.2" r="8.4"/><circle cx="473.0" cy="937.9" r="8.4"/><circle cx="476.8" cy="937.2" r="8.4"/><circle cx="480.7" cy="935.8" r="8.4"/><circle cx="486.5" cy="932.1" r="8.4"/></g><g fill="#887F98"><path d="M342.6 977.0L344.7 976.7L346.8 976.6L348.8 976.3L350.9 975.9L352.9 975.6L354.9 975.3L356.9 975.0L358.9 974.6L360.9 974.1L362.8 973.8L364.8 973.3L366.7 972.9L368.6 972.4L370.6 972.0L372.5 971.5L374.5 971.1L376.4 970.6L378.4 970.2L380.4 969.9L382.3 969.5L384.3 969.0L386.3 968.6L388.2 968.1L390.2 967.7L392.2 967.3L394.2 967.0L396.2 966.6L398.1 966.1L400.1 965.7L402.1 965.3L404.0 965.0L406.0 964.7L407.9 964.2L409.8 963.6L411.8 962.9L413.7 962.5L415.7 962.1L417.6 961.8L419.6 961.4L421.5 960.9L423.5 960.4L425.4 959.7L427.4 959.2L429.3 958.7L431.3 958.3L433.2 957.9L435.2 957.5L437.2 957.3L439.1 957.1L441.1 956.5L443.0 955.6L445.0 954.7L446.9 954.0L448.9 953.7L450.8 953.5L452.8 953.3L454.7 953.1L456.7 952.7L458.6 952.1L460.6 951.5L462.5 951.1L464.5 950.8L466.4 950.4L468.3 949.8L470.3 949.1L472.2 948.3L474.2 947.7L476.1 947.2L478.1 946.7L480.0 946.4L481.9 946.0L483.9 945.6L485.8 944.9L487.7 944.2L489.6 943.5L491.6 942.9L493.5 942.6L495.4 942.2L497.3 941.8L499.3 941.3L501.2 940.8L503.1 940.2L505.1 939.7L507.0 939.1L508.9 938.5L510.9 937.9L512.8 937.2L514.7 936.5L516.7 935.8L518.6 935.2L520.6 934.6L522.5 934.2L524.5 933.7L526.5 933.2L528.4 932.6L530.4 932.0L532.3 931.4L534.2 930.6L536.1 929.9L537.9 929.2L539.8 928.7L541.7 928.1L543.5 927.5L545.4 927.0L547.3 926.4L549.2 925.8L551.1 925.1L553.0 924.5L555.0 923.9L557.0 923.3L559.0 922.7L561.0 921.9L563.0 921.3L564.9 920.6L566.9 920.1L568.8 919.4L570.8 918.6L572.7 917.8L574.6 917.1L576.5 916.5L578.4 915.9L580.2 915.2L582.1 914.4L584.0 913.6L585.9 912.8L587.8 912.1L589.6 911.3L591.5 910.5L593.4 909.7L595.3 908.8L597.2 907.9L599.0 907.0L600.9 906.2L602.8 905.5L604.7 904.7L606.5 904.0L608.4 903.1L610.2 902.1L612.1 900.9L613.9 899.7L615.7 898.6L617.6 897.7L619.4 896.9L621.2 896.0L623.0 895.1L624.8 894.0L626.6 892.9L628.4 891.9L630.2 890.9L632.0 889.8L633.8 888.8L635.5 887.7L637.3 886.6L639.0 885.4L640.7 884.4L642.4 883.3L644.1 882.3L645.8 881.1L647.5 880.0L649.2 878.7L650.9 877.4L652.6 876.1L654.3 874.9L655.9 873.9L657.6 872.9L659.2 871.8L660.9 870.5L662.5 869.1L664.1 867.7L665.8 866.5L667.4 865.1L668.9 863.7L670.5 862.3L672.1 861.0L673.7 859.7L675.3 858.3L676.8 856.9L678.4 855.7L679.9 854.3L681.4 852.9L683.0 851.3L684.5 849.8L685.9 848.2L687.4 847.0L688.9 845.6L690.3 844.2L691.7 842.5L693.1 840.8L694.5 839.2L695.8 837.6L697.2 835.8L698.6 834.1L699.9 832.5L701.2 830.9L702.4 829.5L703.7 827.9L704.9 826.3L706.1 824.6L707.3 822.9L708.5 821.2L709.7 819.4L710.9 817.6L712.0 815.8L713.1 814.0L714.3 812.2L715.4 810.5L716.5 808.8L717.6 807.1L718.6 805.3L719.7 803.5L720.8 801.7L721.8 800.1L722.8 798.6L723.9 796.9L724.9 795.1L725.9 793.2L726.9 791.2L727.9 789.3L728.9 787.5L729.9 785.6L730.8 783.8L731.7 782.0L732.6 780.1L733.5 778.2L734.4 776.4L735.3 774.6L736.1 772.7L737.0 770.9L737.9 769.1L738.7 767.3L739.6 765.4L740.5 763.7L741.3 762.1L742.2 760.4L742.9 759.1L727.9 751.3L727.3 752.6L726.3 754.4L725.4 756.2L724.5 757.9L723.6 759.6L722.7 761.5L721.9 763.3L721.0 765.2L720.1 767.0L719.3 768.8L718.4 770.6L717.5 772.4L716.7 774.2L715.8 775.8L714.9 777.5L714.0 779.1L713.1 780.8L712.2 782.5L711.3 784.2L710.3 786.0L709.3 787.8L708.4 789.5L707.4 791.1L706.4 792.7L705.3 794.4L704.3 796.1L703.3 797.9L702.2 799.6L701.2 801.3L700.1 802.9L699.1 804.5L698.0 806.1L696.9 807.7L695.8 809.3L694.7 810.9L693.6 812.5L692.5 814.1L691.4 815.7L690.2 817.1L689.0 818.7L687.9 820.2L686.7 821.8L685.5 823.2L684.3 824.7L683.1 826.0L681.8 827.4L680.5 828.8L679.3 830.4L678.0 831.9L676.7 833.4L675.3 834.6L674.0 835.8L672.6 837.1L671.3 838.5L669.9 839.9L668.5 841.3L667.1 842.7L665.6 844.1L664.2 845.2L662.7 846.4L661.3 847.5L659.8 848.8L658.3 850.1L656.8 851.2L655.2 852.5L653.7 853.7L652.2 854.9L650.7 856.1L649.1 857.4L647.6 858.7L646.0 860.0L644.4 861.1L642.8 862.2L641.2 863.2L639.6 864.3L638.0 865.5L636.4 866.6L634.8 867.7L633.2 868.7L631.5 869.8L629.9 870.9L628.3 872.0L626.6 873.0L625.0 874.0L623.3 874.9L621.6 875.9L620.0 876.9L618.3 877.8L616.6 878.7L614.9 879.4L613.2 880.4L611.5 881.3L609.8 882.5L608.1 883.5L606.3 884.5L604.6 885.3L602.8 886.1L601.1 886.9L599.3 887.6L597.6 888.5L595.8 889.2L594.0 889.9L592.2 890.7L590.4 891.5L588.7 892.5L586.9 893.3L585.0 894.0L583.2 894.7L581.4 895.4L579.6 896.1L577.8 896.8L575.9 897.5L574.1 898.4L572.2 899.3L570.4 900.1L568.5 900.7L566.7 901.3L564.9 902.0L563.1 902.7L561.2 903.3L559.4 903.8L557.6 904.3L555.8 904.7L554.0 905.2L552.1 905.8L550.3 906.4L548.4 907.1L546.5 907.7L544.6 908.2L542.6 908.7L540.7 909.4L538.7 910.0L536.7 910.5L534.8 910.9L532.8 911.4L530.9 912.0L529.0 912.6L527.1 913.1L525.2 913.7L523.3 914.4L521.5 915.1L519.6 915.8L517.7 916.4L515.9 916.8L514.0 917.3L512.0 917.8L510.1 918.4L508.2 918.9L506.3 919.4L504.4 920.0L502.5 920.6L500.6 921.3L498.6 921.7L496.7 922.1L494.8 922.6L492.9 923.2L490.9 923.9L489.0 924.5L487.1 924.9L485.2 925.3L483.2 925.8L481.3 926.5L479.4 927.2L477.4 927.8L475.5 928.2L473.6 928.6L471.7 929.0L469.8 929.6L467.9 930.2L465.9 930.8L464.0 931.2L462.1 931.6L460.2 931.9L458.3 932.2L456.3 932.5L454.4 933.3L452.5 934.2L450.5 934.9L448.6 935.2L446.7 935.5L444.8 936.1L442.8 936.7L440.9 937.4L439.0 937.9L437.0 938.3L435.1 938.6L433.2 939.2L431.3 940.0L429.3 940.5L427.4 940.9L425.5 941.1L423.5 941.5L421.6 942.1L419.6 942.6L417.7 943.0L415.7 943.4L413.8 944.0L411.8 944.4L409.9 944.9L407.9 945.4L406.0 945.9L404.0 946.3L402.1 946.7L400.1 947.2L398.2 947.8L396.3 948.3L394.3 948.8L392.4 949.1L390.5 949.6L388.6 949.9L386.6 950.3L384.7 950.6L382.8 951.0L380.8 951.5L378.9 952.0L376.9 952.5L375.0 952.8L373.0 953.1L371.1 953.5L369.1 954.0L367.1 954.6L365.2 955.2L363.2 955.6L361.2 956.0L359.2 956.3L357.3 956.6L355.4 957.1L353.4 957.6L351.5 958.0L349.6 958.3L347.7 958.6L345.8 959.1L343.9 959.6L342.1 960.0L340.2 960.2Z"/><rect x="333.0" y="960.0" width="16.8" height="17.6" rx="8.4"/><rect x="727.0" y="746.7" width="16.8" height="17.0" rx="8.4"/></g><g fill="#07915A"><path d="M364.8 974.7L366.8 974.2L368.7 973.7L370.6 973.2L372.5 972.6L374.5 972.2L376.4 971.8L378.3 971.5L380.2 971.0L382.2 970.5L384.1 969.9L386.1 969.5L388.0 969.1L389.9 968.8L391.9 968.4L393.8 968.0L395.8 967.5L397.7 967.0L399.7 966.5L401.6 966.0L403.6 965.5L405.5 965.1L407.4 964.8L409.4 964.4L411.3 963.9L413.3 963.5L415.2 963.0L417.1 962.6L419.1 962.1L421.0 961.7L423.0 961.3L424.9 960.8L426.9 960.3L428.9 959.9L430.8 959.4L432.8 958.8L434.7 958.3L436.7 957.7L438.6 957.2L440.6 956.6L442.6 956.2L444.5 955.8L446.5 955.4L448.4 954.9L450.4 954.4L452.3 954.1L454.2 953.7L456.2 953.2L458.1 952.7L460.1 952.1L462.0 951.6L464.0 951.1L465.9 950.5L467.9 950.1L469.8 949.7L471.8 949.5L473.7 949.0L475.7 948.5L477.6 947.7L479.5 947.0L481.5 946.2L483.4 945.8L485.4 945.5L487.3 945.2L489.2 944.7L491.2 944.1L493.1 943.4L495.0 942.7L497.0 942.1L498.9 941.6L500.8 941.1L502.8 940.4L504.7 939.7L506.6 938.9L508.6 938.3L510.5 937.7L512.4 937.3L514.4 936.9L516.3 936.6L518.2 936.1L520.1 935.4L522.1 934.6L524.0 933.7L526.0 933.0L527.9 932.2L529.9 931.6L531.8 930.9L533.7 930.2L535.5 929.5L537.4 928.8L539.2 928.1L541.1 927.2L542.9 926.6L544.7 926.1L546.6 925.9L548.5 925.5L550.4 924.9L552.3 924.1L554.2 923.5L556.2 922.8L558.1 922.2L560.1 921.5L562.1 920.9L564.0 920.1L566.0 919.3L567.9 918.6L569.8 917.9L571.7 917.3L573.6 916.5L575.5 915.6L577.4 914.6L579.3 913.8L581.1 912.9L583.0 912.1L584.9 911.3L586.7 910.5L588.6 909.8L590.5 908.9L592.3 908.2L594.2 907.3L596.0 906.5L597.9 905.7L599.8 904.9L601.6 904.0L603.5 903.0L605.3 902.0L607.1 900.9L609.0 899.9L610.8 899.0L612.6 898.1L614.4 897.2L616.3 896.3L618.1 895.4L619.9 894.5L621.7 893.6L623.5 892.6L625.3 891.5L627.0 890.3L628.8 889.1L630.6 888.0L632.3 886.9L634.1 885.8L635.8 884.8L637.6 884.0L639.3 883.0L641.0 881.9L642.7 880.6L644.4 879.3L646.1 878.1L647.8 877.0L649.5 875.9L651.1 874.8L652.8 873.6L654.5 872.3L656.2 871.0L657.8 869.9L659.5 868.8L661.1 867.6L662.8 866.3L664.4 865.0L666.0 863.6L667.6 862.4L669.2 861.1L670.8 859.7L672.4 858.4L674.0 857.1L675.5 855.9L677.1 854.6L678.7 853.1L680.2 851.6L681.7 850.1L683.3 848.6L684.8 847.2L686.3 845.7L687.8 844.2L689.2 842.7L690.7 841.2L692.1 839.7L693.5 838.1L694.9 836.6L696.2 835.0L697.6 833.4L698.9 831.7L700.2 830.1L701.5 828.6L702.8 827.0L704.1 825.4L705.4 823.8L706.7 822.2L707.9 820.6L709.2 819.0L710.4 817.3L711.6 815.6L712.9 814.0L714.1 812.3L715.3 810.6L716.4 809.0L717.6 807.3L718.8 805.7L719.9 804.0L721.1 802.3L722.2 800.6L723.3 798.9L724.4 797.1L725.5 795.4L726.6 793.6L727.7 791.7L728.7 789.8L729.8 787.9L730.8 786.2L731.7 784.4L732.7 782.7L733.7 780.9L734.6 779.0L735.6 777.1L736.5 775.3L737.4 773.5L738.4 771.9L739.3 770.2L740.2 768.4L741.2 766.7L742.1 764.9L743.1 763.1L744.1 761.3L745.1 759.5L746.1 757.9L747.1 756.4L748.1 754.8L749.1 753.1L750.1 751.2L751.1 749.2L752.1 747.3L753.0 745.3L754.0 743.4L754.9 741.5L755.7 739.6L756.6 737.6L757.4 735.7L758.2 733.8L759.0 731.9L759.7 729.9L760.5 728.0L761.2 726.1L762.0 724.3L762.7 722.6L763.4 720.8L764.1 718.9L764.6 717.7L748.9 711.3L748.5 712.5L747.7 714.4L747.0 716.3L746.3 718.1L745.6 719.9L744.9 721.8L744.1 723.6L743.4 725.4L742.7 727.2L741.9 729.1L741.1 730.9L740.4 732.5L739.6 734.1L738.8 735.7L738.0 737.3L737.1 739.2L736.2 741.0L735.3 743.0L734.4 744.6L733.5 746.2L732.5 747.8L731.5 749.5L730.6 751.4L729.6 753.2L728.5 754.8L727.5 756.5L726.5 758.2L725.5 760.1L724.5 762.0L723.6 763.9L722.6 765.7L721.7 767.5L720.7 769.2L719.8 771.0L718.8 772.9L717.9 774.6L717.0 776.3L716.0 778.0L715.1 779.8L714.1 781.4L713.2 783.0L712.2 784.5L711.2 786.1L710.2 787.7L709.1 789.3L708.1 790.8L707.0 792.4L705.9 794.2L704.9 796.0L703.8 797.7L702.6 799.4L701.5 801.0L700.4 802.6L699.3 804.1L698.1 805.6L697.0 807.0L695.8 808.5L694.6 810.1L693.4 811.6L692.2 813.1L691.0 814.5L689.8 816.1L688.5 817.7L687.3 819.4L686.0 821.1L684.8 822.6L683.5 823.9L682.2 825.2L681.0 826.5L679.7 827.9L678.4 829.4L677.1 830.8L675.7 832.3L674.4 833.6L673.0 835.0L671.7 836.4L670.3 837.8L668.9 839.2L667.4 840.5L666.0 841.7L664.5 842.7L663.1 843.9L661.6 845.2L660.1 846.5L658.6 847.9L657.1 849.1L655.5 850.3L654.0 851.4L652.5 852.6L650.9 853.8L649.4 855.0L647.8 856.2L646.3 857.4L644.7 858.5L643.1 859.6L641.5 860.6L639.9 861.7L638.3 862.8L636.7 864.1L635.0 865.3L633.4 866.4L631.8 867.4L630.1 868.4L628.5 869.5L626.8 870.4L625.2 871.3L623.5 872.3L621.9 873.3L620.2 874.3L618.5 875.3L616.9 876.4L615.2 877.4L613.5 878.4L611.8 879.2L610.1 880.2L608.3 881.1L606.6 882.0L604.9 882.8L603.2 883.7L601.4 884.6L599.7 885.7L597.9 886.7L596.1 887.6L594.4 888.3L592.6 889.0L590.8 889.6L589.1 890.4L587.3 891.2L585.5 892.1L583.7 893.0L581.9 893.9L580.1 894.7L578.3 895.5L576.4 896.2L574.6 896.8L572.8 897.5L571.0 898.3L569.1 899.1L567.3 899.8L565.5 900.4L563.7 901.0L561.9 901.5L560.1 902.1L558.3 902.8L556.5 903.5L554.7 904.3L552.8 904.8L551.0 905.3L549.1 905.8L547.2 906.5L545.3 907.1L543.4 907.7L541.5 908.5L539.5 909.2L537.6 909.9L535.6 910.3L533.7 910.9L531.8 911.6L529.9 912.3L528.0 913.1L526.1 913.9L524.2 914.5L522.4 915.1L520.5 915.7L518.7 916.4L516.9 916.9L515.0 917.4L513.1 917.9L511.2 918.7L509.3 919.4L507.4 920.1L505.5 920.6L503.7 921.2L501.8 921.8L499.9 922.4L498.0 922.9L496.1 923.4L494.2 923.9L492.3 924.6L490.3 925.2L488.4 925.8L486.5 926.2L484.6 926.7L482.7 927.2L480.8 927.8L478.9 928.4L477.0 929.0L475.1 929.5L473.1 930.2L471.2 930.8L469.3 931.3L467.4 931.8L465.5 932.1L463.6 932.6L461.6 933.3L459.7 934.0L457.8 934.5L455.9 935.0L453.9 935.4L452.0 935.9L450.1 936.5L448.2 937.1L446.2 937.6L444.3 938.0L442.4 938.2L440.4 938.5L438.5 938.9L436.6 939.5L434.6 940.1L432.7 940.8L430.8 941.4L428.9 941.9L426.9 942.2L425.0 942.5L423.1 942.9L421.1 943.3L419.2 943.8L417.2 944.5L415.3 945.2L413.3 945.8L411.4 946.3L409.4 946.7L407.5 947.0L405.5 947.5L403.6 948.0L401.6 948.6L399.7 949.1L397.7 949.5L395.8 949.8L393.8 950.1L391.9 950.5L389.9 950.9L388.0 951.4L386.0 951.8L384.1 952.3L382.2 952.8L380.2 953.3L378.2 953.7L376.3 954.2L374.3 954.8L372.4 955.3L370.4 955.8L368.5 956.3L366.5 956.8L364.6 957.3L362.6 957.8L360.7 958.4Z"/><rect x="354.4" y="958.0" width="16.8" height="17.1" rx="8.4"/><rect x="748.4" y="706.1" width="16.8" height="16.9" rx="8.4"/></g></g>
<text x="162.7" y="1241.2" font-size="33" text-anchor="middle">-4</text><text x="275.2" y="1241.2" font-size="33" text-anchor="middle">-2</text><text x="387.6" y="1241.2" font-size="33" text-anchor="middle">0</text><text x="500.0" y="1241.2" font-size="33" text-anchor="middle">2</text><text x="612.5" y="1241.2" font-size="33" text-anchor="middle">4</text><text x="724.9" y="1241.2" font-size="33" text-anchor="middle">6</text><text x="98.0" y="1155.3" font-size="33" text-anchor="end">2</text><text x="98.0" y="1075.2" font-size="33" text-anchor="end">3</text><text x="98.0" y="995.2" font-size="33" text-anchor="end">4</text><text x="98.0" y="915.1" font-size="33" text-anchor="end">5</text><text x="98.0" y="835.0" font-size="33" text-anchor="end">6</text><text x="98.0" y="755.0" font-size="33" text-anchor="end">7</text><path d="M162.7 1200.6v-7 M162.7 691.6v7 M275.2 1200.6v-7 M275.2 691.6v7 M387.6 1200.6v-7 M387.6 691.6v7 M500.0 1200.6v-7 M500.0 691.6v7 M612.5 1200.6v-7 M612.5 691.6v7 M724.9 1200.6v-7 M724.9 691.6v7 M109.0 1143.1h7 M798.0 1143.1h-7 M109.0 1063.0h7 M798.0 1063.0h-7 M109.0 983.0h7 M798.0 983.0h-7 M109.0 902.9h7 M798.0 902.9h-7 M109.0 822.8h7 M798.0 822.8h-7 M109.0 742.8h7 M798.0 742.8h-7" stroke="#2b2b2b" stroke-width="1.3" fill="none"/><rect x="109.0" y="691.6" width="689.0" height="509.0" fill="none" stroke="#2b2b2b" stroke-width="1.5"/>
<rect x="125.4" y="705.0" width="149.2" height="258.8" fill="#fff" stroke="#2b2b2b" stroke-width="1.2"/><circle cx="163.7" cy="720.4" r="6.6" fill="none" stroke="#0072BD" stroke-width="2.2"/><text x="200.0" y="728.4" font-size="21.3" text-anchor="start" font-style="italic" fill="#000" stroke="#000" stroke-width="0.3">f=0.105</text><circle cx="163.7" cy="745.9" r="6.6" fill="none" stroke="#D95319" stroke-width="2.2"/><text x="200.0" y="753.9" font-size="21.3" text-anchor="start" font-style="italic" fill="#000" stroke="#000" stroke-width="0.3">f=0.109</text><circle cx="163.7" cy="771.4" r="6.6" fill="none" stroke="#EDB120" stroke-width="2.2"/><text x="200.0" y="779.4" font-size="21.3" text-anchor="start" font-style="italic" fill="#000" stroke="#000" stroke-width="0.3">f=0.113</text><circle cx="163.7" cy="796.9" r="6.6" fill="none" stroke="#7E2F8E" stroke-width="2.2"/><text x="200.0" y="804.9" font-size="21.3" text-anchor="start" font-style="italic" fill="#000" stroke="#000" stroke-width="0.3">f=0.117</text><circle cx="163.7" cy="822.4" r="6.6" fill="none" stroke="#77AC30" stroke-width="2.2"/><text x="200.0" y="830.4" font-size="21.3" text-anchor="start" font-style="italic" fill="#000" stroke="#000" stroke-width="0.3">f=0.123</text><circle cx="163.7" cy="848.0" r="6.6" fill="none" stroke="#4DBEEE" stroke-width="2.2"/><text x="200.0" y="856.0" font-size="21.3" text-anchor="start" font-style="italic" fill="#000" stroke="#000" stroke-width="0.3">f=0.125</text><circle cx="163.7" cy="873.5" r="6.6" fill="none" stroke="#A2142F" stroke-width="2.2"/><text x="200.0" y="881.5" font-size="21.3" text-anchor="start" font-style="italic" fill="#000" stroke="#000" stroke-width="0.3">f=0.127</text><circle cx="163.7" cy="899.0" r="6.6" fill="none" stroke="#FF6B2C" stroke-width="2.2"/><text x="200.0" y="907.0" font-size="21.3" text-anchor="start" font-style="italic" fill="#000" stroke="#000" stroke-width="0.3">f=0.129</text><circle cx="163.7" cy="924.5" r="6.6" fill="none" stroke="#887F98" stroke-width="2.2"/><text x="200.0" y="932.5" font-size="21.3" text-anchor="start" font-style="italic" fill="#000" stroke="#000" stroke-width="0.3">f=0.131</text><circle cx="163.7" cy="950.0" r="6.6" fill="none" stroke="#07915A" stroke-width="2.2"/><text x="200.0" y="958.0" font-size="21.3" text-anchor="start" font-style="italic" fill="#000" stroke="#000" stroke-width="0.3">f=0.133</text>
<text x="23.5" y="696.0" font-size="36.5" text-anchor="start" font-weight="bold" fill="#000">(b)</text>
<text y="1285.8" font-size="34" font-style="italic" fill="#1a1a1a"><tspan x="368.8">log</tspan><tspan x="413.5" dy="17.5" font-size="26">2</tspan><tspan x="428" dy="-17.5">(t</tspan><tspan x="448.0" font-style="normal" stroke="#1a1a1a" stroke-width="0.7">|</tspan><tspan x="458.6">f-f</tspan><tspan x="490.5" dy="17.5" font-size="26">c</tspan><tspan x="501.1" dy="-17.5" font-style="normal" stroke="#1a1a1a" stroke-width="0.7">|</tspan><tspan x="526.5">)</tspan></text><text transform="translate(514.6 1268.3) scale(1.38 1)" font-size="26" font-style="italic" fill="#1a1a1a">ν</text>
<g transform="translate(53.2 1006.4) rotate(-90)"><text y="0" font-size="34" font-style="italic" fill="#1a1a1a"><tspan x="-0.6">log</tspan><tspan x="46" dy="17.8" font-size="26">2</tspan><tspan x="58" dy="-17.8">(</tspan><tspan x="72.8">v</tspan><tspan x="87.4">t</tspan><tspan x="97.6" dy="-16.8" font-size="30">δ</tspan><tspan x="110.7" dy="16.8">)</tspan></text></g>
</svg>
</body>
</html>
